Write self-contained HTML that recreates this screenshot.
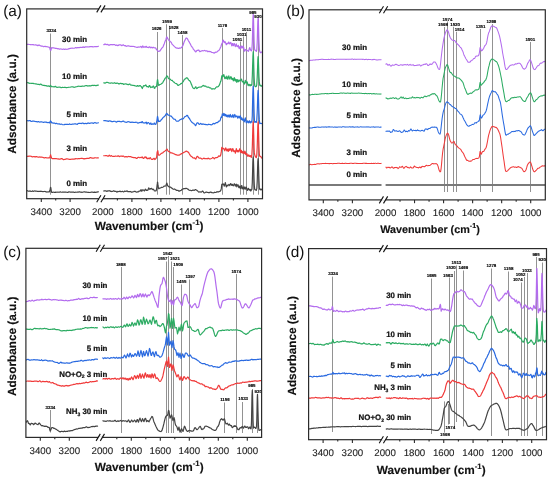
<!DOCTYPE html>
<html><head><meta charset="utf-8"><style>
html,body{margin:0;padding:0;background:#fff;}
svg{display:block;font-family:'Liberation Sans', Arial, sans-serif;text-rendering:geometricPrecision;}
</style></head><body>
<svg width="550" height="481" viewBox="0 0 550 481">
<rect width="550" height="481" fill="#fff"/>
<line x1="50.50" y1="33.50" x2="50.50" y2="194.70" stroke="#8c8c8c" stroke-width="0.95"/>
<line x1="157.50" y1="32.00" x2="157.50" y2="194.70" stroke="#8c8c8c" stroke-width="0.95"/>
<line x1="166.50" y1="24.20" x2="166.50" y2="194.70" stroke="#8c8c8c" stroke-width="0.95"/>
<line x1="169.50" y1="25.80" x2="169.50" y2="194.70" stroke="#8c8c8c" stroke-width="0.95"/>
<line x1="182.50" y1="35.00" x2="182.50" y2="194.70" stroke="#8c8c8c" stroke-width="0.95"/>
<line x1="222.50" y1="28.00" x2="222.50" y2="194.70" stroke="#8c8c8c" stroke-width="0.95"/>
<line x1="240.50" y1="41.50" x2="240.50" y2="194.70" stroke="#8c8c8c" stroke-width="0.95"/>
<line x1="243.50" y1="36.50" x2="243.50" y2="194.70" stroke="#8c8c8c" stroke-width="0.95"/>
<line x1="246.50" y1="32.00" x2="246.50" y2="194.70" stroke="#8c8c8c" stroke-width="0.95"/>
<line x1="253.50" y1="15.00" x2="253.50" y2="194.70" stroke="#8c8c8c" stroke-width="0.95"/>
<line x1="258.50" y1="18.50" x2="258.50" y2="194.70" stroke="#8c8c8c" stroke-width="0.95"/>
<path d="M26.80,44.33 27.30,44.42 27.80,44.27 28.30,44.27 28.80,44.40 29.30,44.50 29.80,44.48 30.30,44.56 30.80,44.69 31.30,44.68 31.80,44.74 32.30,44.70 32.80,44.69 33.30,44.66 33.80,44.84 34.30,44.96 34.80,45.02 35.30,44.92 35.80,44.94 36.30,45.05 36.80,45.17 37.30,45.39 37.80,45.61 38.30,45.42 38.80,45.04 39.30,45.02 39.80,45.40 40.30,45.69 40.80,45.84 41.30,46.18 41.80,46.20 42.30,46.11 42.80,46.22 43.30,46.58 43.80,46.73 44.30,46.55 44.80,46.37 45.30,46.37 45.80,46.58 46.30,46.72 46.80,46.67 47.30,46.76 47.80,46.90 48.30,47.02 48.80,47.15 49.30,47.39 49.52,47.50 49.80,48.03 49.88,48.39 50.15,49.51 50.30,49.95 50.38,50.15 50.60,50.51 50.80,50.40 50.83,50.19 51.05,49.48 51.30,48.57 51.32,48.46 51.68,47.69 51.80,47.66 52.30,47.83 52.80,47.85 53.30,47.76 53.80,47.82 54.30,47.99 54.80,48.19 55.30,48.35 55.80,48.33 56.30,48.33 56.80,48.53 57.30,48.79 57.80,48.71 58.30,48.72 58.80,48.91 59.30,49.15 59.80,49.13 60.30,48.97 60.80,48.89 61.30,48.98 61.80,49.24 62.30,49.35 62.80,49.23 63.30,48.97 63.80,49.06 64.30,49.35 64.80,49.38 65.30,49.21 65.80,49.17 66.30,49.25 66.80,49.29 67.30,49.22 67.80,49.07 68.30,48.87 68.80,48.87 69.30,48.62 69.80,48.44 70.30,48.32 70.80,48.33 71.30,48.25 71.80,48.15 72.30,48.28 72.80,48.21 73.30,48.23 73.80,48.23 74.30,48.24 74.80,47.99 75.30,47.61 75.80,47.69 76.30,47.84 76.80,47.83 77.30,47.60 77.80,47.58 78.30,47.70 78.80,47.68 79.30,47.64 79.80,47.44 80.30,47.42 80.80,47.32 81.30,47.37 81.80,47.51 82.30,47.45 82.80,46.99 83.30,46.83 83.80,47.32 84.30,47.50 84.80,47.16 85.30,46.91 85.80,46.96 86.30,46.96 86.80,46.84 87.30,46.96 87.80,46.97 88.30,46.98 88.80,46.90 89.30,46.82 89.80,46.71 90.30,46.62 90.80,46.66 91.30,46.59 91.80,46.51 92.30,46.64 92.80,46.82 93.30,46.86 93.80,46.75 94.30,46.71 94.80,46.65 95.30,46.63 95.80,46.71 96.30,46.60 96.80,46.58 97.30,46.55 97.80,46.51 98.30,46.30 98.80,46.37" fill="none" stroke="#b36cee" stroke-width="1.2" stroke-linejoin="round"/>
<path d="M103.30,44.67 103.80,44.59 104.30,44.54 104.80,44.03 105.30,44.10 105.80,44.33 106.30,44.68 106.80,44.54 107.30,44.42 107.80,44.63 108.30,44.87 108.80,45.15 109.30,45.16 109.80,44.89 110.30,44.54 110.80,44.54 111.30,44.68 111.80,44.72 112.30,44.78 112.80,44.54 113.30,44.60 113.80,44.64 114.30,44.67 114.80,44.64 115.30,45.05 115.80,45.37 116.30,45.29 116.80,44.95 117.30,45.29 117.80,45.63 118.30,45.53 118.80,44.89 119.30,44.81 119.80,44.83 120.30,44.92 120.80,44.96 121.30,45.39 121.80,45.63 122.30,45.30 122.80,44.97 123.30,44.75 123.80,45.31 124.30,45.52 124.80,45.86 125.30,45.60 125.80,45.83 126.30,46.27 126.80,46.35 127.30,46.03 127.80,45.75 128.30,45.93 128.80,45.78 129.30,46.19 129.80,46.28 130.30,46.35 130.80,46.25 131.30,46.42 131.80,46.44 132.30,46.37 132.80,46.51 133.30,46.46 133.80,46.50 134.30,46.60 134.80,46.81 135.30,46.95 135.80,47.02 136.30,47.24 136.80,47.30 137.30,47.32 137.80,47.17 138.30,47.14 138.80,46.94 139.30,47.03 139.80,47.03 140.30,46.93 140.80,46.36 141.30,46.98 141.80,47.72 142.30,46.51 142.80,45.91 143.30,47.01 143.80,47.35 144.30,46.76 144.80,46.73 145.30,47.23 145.80,46.72 146.30,46.29 146.80,47.22 147.30,47.39 147.80,47.31 148.30,47.30 148.80,47.63 149.30,46.97 149.80,46.72 150.30,47.46 150.80,47.85 151.30,47.59 151.80,47.13 152.30,47.74 152.80,47.93 153.30,47.28 153.80,47.32 154.30,47.79 154.80,47.98 155.30,47.85 155.80,48.20 156.30,49.25 156.80,49.78 157.30,50.38 157.80,50.90 158.30,51.28 158.80,51.31 159.30,51.12 159.80,51.09 160.30,50.45 160.80,49.66 161.30,48.92 161.80,48.04 162.30,47.79 162.80,47.20 163.30,46.28 163.80,44.74 164.30,43.63 164.80,42.12 165.30,40.77 165.60,40.31 165.80,39.99 166.00,39.17 166.30,38.07 166.55,37.27 166.80,36.97 167.05,37.22 167.30,37.85 167.60,38.29 167.80,38.58 168.00,38.89 168.30,39.54 168.80,40.12 169.30,40.78 169.80,41.11 170.30,41.56 170.80,41.89 171.30,42.57 171.80,43.58 172.30,44.44 172.80,44.86 173.30,45.23 173.80,45.87 174.30,46.39 174.80,46.88 175.30,47.26 175.80,47.74 176.30,47.93 176.80,48.07 177.30,48.12 177.80,48.20 178.30,48.40 178.80,48.31 179.30,48.19 179.80,47.94 180.30,48.07 180.80,48.00 181.30,47.78 181.80,47.05 182.30,46.56 182.80,45.65 183.30,44.53 183.80,42.89 184.30,41.57 184.80,40.49 185.30,39.45 185.80,38.53 186.30,38.05 186.80,38.05 187.30,38.63 187.80,39.57 188.30,40.57 188.80,41.47 189.30,42.14 189.80,43.08 190.30,43.88 190.80,44.97 191.30,46.05 191.80,46.68 192.30,47.36 192.80,47.86 193.30,49.16 193.80,49.64 194.30,50.23 194.80,50.64 195.30,51.62 195.80,51.99 196.30,51.39 196.80,50.48 197.30,50.33 197.80,50.42 198.30,50.04 198.80,50.19 199.30,50.88 199.80,51.68 200.30,51.45 200.80,51.36 201.30,50.97 201.80,50.90 202.30,50.63 202.80,50.76 203.30,50.81 203.80,50.74 204.30,50.50 204.80,50.40 205.30,50.80 205.80,51.09 206.30,50.92 206.80,50.79 207.30,51.02 207.80,51.77 208.30,51.61 208.80,51.30 209.30,51.37 209.80,51.69 210.30,51.56 210.80,51.56 211.30,52.23 211.80,52.47 212.30,52.48 212.80,52.48 213.30,52.92 213.80,52.96 214.30,53.05 214.80,52.66 215.30,52.41 215.80,52.08 216.30,52.21 216.80,52.12 217.30,51.62 217.80,51.07 218.30,50.77 218.80,50.46 219.30,49.78 219.80,49.03 220.30,47.74 220.80,47.02 221.30,45.11 221.80,43.77 222.30,42.94 222.80,40.51 223.30,40.08 223.80,41.42 224.30,42.72 224.80,41.74 225.30,41.93 225.80,43.30 226.30,44.68 226.80,43.60 227.30,43.53 227.80,43.80 228.30,42.44 228.80,42.09 229.30,43.91 229.80,43.49 230.30,42.71 230.80,42.49 231.30,44.36 231.80,45.83 232.30,43.65 232.80,43.59 233.30,45.75 233.80,44.60 234.30,43.51 234.80,45.07 235.30,46.61 235.80,45.29 236.30,43.87 236.80,46.04 237.30,46.73 237.80,45.98 238.30,45.26 238.80,47.55 239.30,48.63 239.80,47.01 240.30,46.44 240.80,48.51 241.30,47.42 241.80,45.89 242.30,47.17 242.80,47.97 243.30,46.31 243.80,47.86 244.30,51.14 244.80,50.98 245.30,49.65 245.80,49.57 246.30,50.24 246.80,50.25 247.30,50.39 247.80,50.83 248.30,51.30 248.80,50.72 249.30,48.47 249.80,47.58 250.30,49.38 250.80,50.35 251.30,50.82 251.80,49.89 251.88,49.65 252.30,42.59 252.32,42.08 252.65,30.03 252.80,23.96 252.93,19.43 253.20,14.30 253.30,14.69 253.47,18.40 253.75,28.29 253.80,30.36 254.08,40.85 254.30,46.04 254.52,48.88 254.80,49.97 255.30,50.56 255.80,50.74 256.30,51.42 256.78,50.00 256.80,49.84 257.22,42.18 257.30,39.42 257.55,30.37 257.80,22.10 257.82,21.64 258.10,18.08 258.30,20.29 258.38,22.10 258.65,31.53 258.80,37.24 258.98,42.37 259.30,48.02 259.42,49.27 259.80,51.50 260.30,52.53 260.80,52.85 261.30,52.20 261.80,52.08 262.20,52.30" fill="none" stroke="#b36cee" stroke-width="1.2" stroke-linejoin="round"/>
<path d="M26.80,82.77 27.30,82.75 27.80,82.54 28.30,82.76 28.80,83.12 29.30,83.37 29.80,83.27 30.30,83.27 30.80,83.29 31.30,83.34 31.80,83.40 32.30,83.44 32.80,83.32 33.30,83.44 33.80,83.58 34.30,83.76 34.80,83.74 35.30,83.80 35.80,83.74 36.30,83.93 36.80,84.07 37.30,84.24 37.80,84.28 38.30,84.23 38.80,84.30 39.30,84.61 39.80,84.66 40.30,84.36 40.80,84.07 41.30,84.42 41.80,84.79 42.30,85.14 42.80,85.26 43.30,85.36 43.80,85.37 44.30,85.39 44.80,85.56 45.30,85.55 45.80,85.57 46.30,85.64 46.80,86.07 47.30,86.18 47.80,86.05 48.30,85.89 48.80,86.17 49.30,86.37 49.52,86.51 49.80,86.12 49.88,86.08 50.15,85.79 50.30,85.62 50.38,85.34 50.60,85.30 50.80,85.63 50.83,85.71 51.05,86.21 51.30,86.67 51.32,86.49 51.68,86.45 51.80,86.52 52.30,86.66 52.80,86.74 53.30,86.71 53.80,86.85 54.30,86.84 54.80,86.68 55.30,86.39 55.80,86.63 56.30,86.97 56.80,87.38 57.30,87.35 57.80,87.25 58.30,87.15 58.80,87.23 59.30,87.19 59.80,87.04 60.30,87.27 60.80,87.56 61.30,87.67 61.80,87.48 62.30,87.37 62.80,87.42 63.30,87.51 63.80,87.48 64.30,87.36 64.80,87.31 65.30,87.38 65.80,87.55 66.30,87.58 66.80,87.63 67.30,87.50 67.80,87.51 68.30,87.28 68.80,87.26 69.30,87.23 69.80,87.24 70.30,87.13 70.80,87.00 71.30,86.92 71.80,86.77 72.30,86.74 72.80,86.86 73.30,87.08 73.80,87.14 74.30,87.29 74.80,87.23 75.30,86.99 75.80,86.85 76.30,86.73 76.80,86.73 77.30,86.45 77.80,86.48 78.30,86.18 78.80,86.25 79.30,86.25 79.80,86.28 80.30,86.30 80.80,86.46 81.30,86.50 81.80,86.19 82.30,86.05 82.80,86.02 83.30,86.14 83.80,86.22 84.30,86.14 84.80,85.93 85.30,85.77 85.80,85.67 86.30,85.61 86.80,85.65 87.30,85.85 87.80,86.04 88.30,85.96 88.80,85.85 89.30,85.68 89.80,85.92 90.30,85.92 90.80,85.92 91.30,85.60 91.80,85.45 92.30,85.39 92.80,85.46 93.30,85.54 93.80,85.36 94.30,85.38 94.80,85.30 95.30,85.56 95.80,85.53 96.30,85.65 96.80,85.35 97.30,85.32 97.80,85.16 98.30,85.19 98.80,85.14" fill="none" stroke="#2bab62" stroke-width="1.2" stroke-linejoin="round"/>
<path d="M103.30,82.76 103.80,82.78 104.30,82.93 104.80,83.11 105.30,83.05 105.80,82.69 106.30,82.41 106.80,82.44 107.30,82.36 107.80,82.52 108.30,82.68 108.80,82.93 109.30,82.98 109.80,83.20 110.30,83.28 110.80,82.98 111.30,82.88 111.80,82.99 112.30,83.04 112.80,83.12 113.30,83.27 113.80,83.10 114.30,82.86 114.80,82.72 115.30,83.16 115.80,83.42 116.30,83.46 116.80,83.08 117.30,83.01 117.80,83.23 118.30,83.62 118.80,83.84 119.30,83.83 119.80,83.66 120.30,83.31 120.80,83.30 121.30,83.50 121.80,83.86 122.30,83.69 122.80,83.66 123.30,84.11 123.80,84.38 124.30,84.09 124.80,84.00 125.30,83.87 125.80,84.02 126.30,83.90 126.80,84.35 127.30,84.29 127.80,84.57 128.30,84.66 128.80,84.55 129.30,84.01 129.80,83.99 130.30,84.62 130.80,85.12 131.30,85.20 131.80,85.04 132.30,85.21 132.80,85.39 133.30,85.53 133.80,85.34 134.30,85.49 134.80,85.85 135.30,85.89 135.80,86.01 136.30,86.17 136.80,86.29 137.30,85.65 137.80,85.64 138.30,86.00 138.80,86.31 139.30,85.76 139.80,85.59 140.30,85.63 140.80,86.24 141.30,86.62 141.80,87.55 142.30,88.53 142.80,87.21 143.30,86.20 143.80,85.56 144.30,85.98 144.80,85.69 145.30,85.39 145.80,84.88 146.30,85.90 146.80,86.69 147.30,86.53 147.80,86.66 148.30,87.22 148.80,86.76 149.30,85.53 149.80,85.67 150.30,86.92 150.80,87.59 151.30,87.22 151.80,86.90 152.30,87.28 152.80,86.54 153.30,85.94 153.80,86.88 154.30,88.29 154.80,88.24 155.30,86.81 155.80,86.69 156.30,86.50 156.42,86.52 156.78,84.77 156.80,84.78 157.05,82.56 157.28,80.97 157.30,80.61 157.50,79.68 157.72,79.97 157.80,80.56 157.95,81.82 158.22,83.66 158.30,84.51 158.58,85.45 158.80,85.40 159.30,84.94 159.80,84.48 160.30,84.44 160.80,84.29 161.30,83.89 161.80,83.40 162.30,83.22 162.80,82.59 163.30,81.53 163.80,80.62 164.30,79.87 164.80,78.86 165.30,78.00 165.60,77.87 165.80,77.77 166.00,77.82 166.30,76.93 166.55,76.26 166.80,75.69 167.05,76.00 167.30,76.26 167.60,76.63 167.80,76.80 168.00,77.40 168.30,78.27 168.80,78.81 169.30,79.00 169.80,78.89 170.30,79.27 170.80,79.87 171.30,80.28 171.80,80.33 172.30,80.40 172.80,81.07 173.30,81.67 173.80,82.15 174.30,82.35 174.80,82.84 175.30,83.29 175.80,83.49 176.30,83.66 176.80,83.88 177.30,84.45 177.80,85.31 178.30,85.46 178.80,85.12 179.30,84.73 179.80,84.58 180.30,84.18 180.80,83.65 181.30,83.56 181.80,83.17 182.30,82.75 182.80,82.10 183.30,81.49 183.80,80.45 184.30,79.51 184.80,79.12 185.30,78.88 185.80,78.50 186.30,77.91 186.80,77.74 187.30,77.98 187.80,78.57 188.30,79.40 188.80,80.07 189.30,80.57 189.80,80.73 190.30,81.62 190.80,82.79 191.30,84.13 191.80,85.12 192.30,86.43 192.80,87.58 193.30,88.25 193.80,88.40 194.30,88.69 194.80,88.17 195.30,87.27 195.80,86.78 196.30,87.85 196.80,88.57 197.30,88.31 197.80,87.63 198.30,87.45 198.80,87.17 199.30,87.24 199.80,87.00 200.30,86.99 200.80,87.12 201.30,86.88 201.80,86.70 202.30,86.12 202.80,85.67 203.30,85.37 203.80,85.80 204.30,86.26 204.80,86.04 205.30,85.98 205.80,86.12 206.30,86.80 206.80,87.02 207.30,87.19 207.80,87.02 208.30,87.12 208.80,87.20 209.30,87.69 209.80,87.81 210.30,87.82 210.80,87.97 211.30,88.70 211.80,89.10 212.30,89.04 212.80,88.68 213.30,88.75 213.80,88.82 214.30,89.06 214.80,88.84 215.30,88.30 215.80,87.58 216.30,87.11 216.80,86.74 217.30,86.74 217.80,86.87 218.30,86.48 218.80,85.94 219.30,85.19 219.80,84.08 220.30,82.30 220.80,81.29 221.30,79.29 221.80,75.91 222.30,75.47 222.80,76.79 223.30,75.62 223.80,74.60 224.30,76.49 224.80,78.71 225.30,77.24 225.80,77.10 226.30,78.73 226.80,76.18 227.30,77.38 227.80,79.27 228.30,77.65 228.80,75.91 229.30,77.82 229.80,79.16 230.30,78.04 230.80,76.63 231.30,77.18 231.80,79.35 232.30,79.36 232.80,78.31 233.30,80.80 233.80,80.55 234.30,77.68 234.80,78.72 235.30,81.07 235.80,79.48 236.30,79.65 236.80,82.30 237.30,80.08 237.80,79.70 238.30,81.75 238.80,81.67 239.30,80.19 239.80,80.75 240.30,80.65 240.80,80.23 241.30,79.06 241.80,80.07 242.30,81.94 242.80,81.93 243.30,81.37 243.80,82.93 244.30,84.09 244.80,83.07 245.30,80.31 245.80,82.58 246.30,82.97 246.80,81.61 247.30,82.28 247.80,84.67 248.30,85.61 248.80,84.40 249.30,84.42 249.80,85.75 250.30,85.86 250.80,84.58 251.30,85.43 251.80,84.96 251.88,84.44 252.30,76.09 252.32,75.83 252.65,64.67 252.80,60.62 252.93,56.23 253.20,52.13 253.30,51.62 253.47,55.48 253.75,65.08 253.80,66.90 254.08,75.92 254.30,80.60 254.52,83.92 254.80,85.84 255.30,86.70 255.80,86.63 256.30,86.43 256.78,84.75 256.80,83.85 257.22,77.03 257.30,74.95 257.55,67.91 257.80,60.80 257.82,59.85 258.10,56.53 258.30,58.60 258.38,60.21 258.65,67.77 258.80,72.84 258.98,77.06 259.30,81.64 259.42,82.85 259.80,85.37 260.30,85.82 260.80,85.26 261.30,85.69 261.80,86.35 262.20,86.59" fill="none" stroke="#2bab62" stroke-width="1.2" stroke-linejoin="round"/>
<path d="M26.80,120.82 27.30,120.73 27.80,120.60 28.30,120.81 28.80,120.78 29.30,120.67 29.80,120.67 30.30,120.70 30.80,121.26 31.30,121.49 31.80,121.47 32.30,121.12 32.80,121.06 33.30,121.02 33.80,121.03 34.30,121.21 34.80,121.36 35.30,121.52 35.80,121.53 36.30,121.56 36.80,121.67 37.30,121.84 37.80,121.79 38.30,121.62 38.80,121.67 39.30,121.99 39.80,122.08 40.30,121.96 40.80,121.91 41.30,121.94 41.80,121.92 42.30,121.98 42.80,122.22 43.30,122.30 43.80,122.31 44.30,122.03 44.80,122.06 45.30,122.08 45.80,122.18 46.30,122.13 46.80,122.43 47.30,122.62 47.80,122.50 48.30,122.46 48.80,122.59 49.30,122.87 49.52,122.94 49.80,122.67 49.88,122.49 50.15,121.79 50.30,121.26 50.38,121.02 50.60,120.95 50.80,121.23 50.83,121.11 51.05,121.63 51.30,122.07 51.32,122.17 51.68,122.80 51.80,122.95 52.30,122.93 52.80,122.90 53.30,123.18 53.80,123.09 54.30,123.07 54.80,123.17 55.30,123.63 55.80,123.59 56.30,123.42 56.80,123.47 57.30,123.72 57.80,123.98 58.30,123.96 58.80,124.03 59.30,123.88 59.80,124.16 60.30,124.26 60.80,124.33 61.30,124.05 61.80,124.22 62.30,124.50 62.80,124.76 63.30,124.73 63.80,124.73 64.30,124.58 64.80,124.36 65.30,124.24 65.80,124.45 66.30,124.45 66.80,124.36 67.30,124.20 67.80,124.36 68.30,124.48 68.80,124.37 69.30,124.07 69.80,123.96 70.30,124.24 70.80,124.50 71.30,124.46 71.80,124.24 72.30,124.13 72.80,124.06 73.30,124.11 73.80,123.99 74.30,123.92 74.80,123.81 75.30,123.90 75.80,123.88 76.30,124.10 76.80,124.24 77.30,124.30 77.80,123.78 78.30,123.44 78.80,123.24 79.30,123.47 79.80,123.28 80.30,123.35 80.80,123.50 81.30,123.58 81.80,123.25 82.30,123.05 82.80,123.17 83.30,123.35 83.80,123.64 84.30,123.64 84.80,123.56 85.30,123.38 85.80,123.54 86.30,123.57 86.80,123.64 87.30,123.35 87.80,123.15 88.30,122.94 88.80,123.17 89.30,123.32 89.80,123.32 90.30,123.07 90.80,123.03 91.30,123.01 91.80,122.90 92.30,122.88 92.80,123.24 93.30,123.37 93.80,123.15 94.30,122.76 94.80,122.61 95.30,122.71 95.80,122.97 96.30,123.11 96.80,123.05 97.30,122.98 97.80,122.98 98.30,122.78 98.80,122.70" fill="none" stroke="#2a6ae0" stroke-width="1.2" stroke-linejoin="round"/>
<path d="M103.30,120.72 103.80,120.64 104.30,120.61 104.80,120.49 105.30,120.56 105.80,120.80 106.30,120.94 106.80,120.92 107.30,120.94 107.80,121.17 108.30,121.47 108.80,121.09 109.30,120.94 109.80,120.77 110.30,121.07 110.80,121.12 111.30,121.41 111.80,121.59 112.30,121.50 112.80,121.56 113.30,121.45 113.80,121.32 114.30,121.23 114.80,121.26 115.30,121.57 115.80,121.76 116.30,122.15 116.80,121.90 117.30,121.59 117.80,121.28 118.30,121.45 118.80,121.47 119.30,121.46 119.80,121.42 120.30,121.77 120.80,121.72 121.30,121.79 121.80,121.56 122.30,121.45 122.80,121.19 123.30,121.15 123.80,121.33 124.30,121.71 124.80,122.00 125.30,122.06 125.80,122.21 126.30,122.32 126.80,122.22 127.30,121.96 127.80,121.69 128.30,121.75 128.80,121.68 129.30,121.94 129.80,121.99 130.30,122.45 130.80,122.44 131.30,122.30 131.80,122.18 132.30,122.21 132.80,122.31 133.30,122.33 133.80,122.45 134.30,122.49 134.80,122.40 135.30,122.41 135.80,122.18 136.30,122.23 136.80,122.23 137.30,122.73 137.80,123.12 138.30,123.07 138.80,122.74 139.30,122.56 139.80,122.53 140.30,122.28 140.80,122.54 141.30,122.60 141.80,121.82 142.30,121.60 142.80,122.60 143.30,122.85 143.80,122.83 144.30,122.81 144.80,123.04 145.30,122.94 145.80,122.26 146.30,122.19 146.80,123.93 147.30,123.54 147.80,122.68 148.30,122.56 148.80,123.00 149.30,123.20 149.80,124.28 150.30,124.04 150.80,122.87 151.30,124.13 151.80,124.39 152.30,123.81 152.80,124.09 153.30,124.13 153.80,124.18 154.30,122.98 154.80,124.05 155.30,124.36 155.80,124.19 156.30,122.97 156.42,122.48 156.78,121.00 156.80,121.51 157.05,119.68 157.28,117.75 157.30,117.54 157.50,116.45 157.72,116.81 157.80,117.29 157.95,118.35 158.22,120.15 158.30,120.77 158.58,121.65 158.80,121.49 159.30,121.21 159.80,121.31 160.30,121.08 160.80,120.44 161.30,119.65 161.80,119.32 162.30,118.53 162.80,117.84 163.30,117.35 163.80,116.97 164.30,116.51 164.80,116.06 165.30,115.65 165.60,115.13 165.80,114.60 166.00,114.15 166.30,113.73 166.55,113.39 166.80,113.40 167.05,113.50 167.30,114.29 167.60,114.79 167.80,114.75 168.00,114.61 168.30,114.91 168.80,115.34 169.30,115.37 169.80,115.63 170.30,116.04 170.80,116.17 171.30,116.19 171.80,116.78 172.30,117.42 172.80,118.00 173.30,118.61 173.80,119.17 174.30,119.23 174.80,119.17 175.30,119.56 175.80,120.31 176.30,120.92 176.80,121.23 177.30,121.21 177.80,121.24 178.30,121.08 178.80,120.90 179.30,120.42 179.80,119.90 180.30,119.55 180.80,119.34 181.30,119.11 181.80,118.94 182.30,118.78 182.80,118.91 183.30,118.67 183.80,118.04 184.30,117.21 184.80,116.82 185.30,116.46 185.80,116.21 186.30,115.96 186.80,115.44 187.30,115.40 187.80,116.00 188.30,117.18 188.80,117.75 189.30,118.33 189.80,119.13 190.30,120.00 190.80,120.82 191.30,121.51 191.80,122.23 192.30,122.58 192.80,122.79 193.30,123.40 193.80,123.70 194.30,124.04 194.80,124.37 195.30,125.57 195.80,125.57 196.30,124.39 196.80,123.21 197.30,122.86 197.80,122.96 198.30,123.16 198.80,124.08 199.30,124.35 199.80,124.25 200.30,123.55 200.80,123.43 201.30,123.88 201.80,124.38 202.30,124.29 202.80,123.81 203.30,124.02 203.80,124.30 204.30,124.29 204.80,124.23 205.30,124.37 205.80,124.70 206.30,124.50 206.80,124.69 207.30,124.77 207.80,124.79 208.30,124.35 208.80,124.21 209.30,124.40 209.80,124.51 210.30,124.66 210.80,124.65 211.30,124.85 211.80,124.77 212.30,124.53 212.80,123.77 213.30,123.44 213.80,123.59 214.30,123.84 214.80,123.69 215.30,123.31 215.80,122.97 216.30,122.51 216.80,122.60 217.30,122.63 217.80,122.40 218.30,121.57 218.80,121.08 219.30,121.05 219.80,120.94 220.30,120.04 220.80,117.95 221.30,116.86 221.80,117.27 222.30,113.89 222.80,114.40 223.30,115.49 223.80,113.34 224.30,113.86 224.80,115.90 225.30,114.29 225.80,115.68 226.30,116.57 226.80,114.93 227.30,115.19 227.80,116.98 228.30,115.26 228.80,115.14 229.30,117.14 229.80,115.39 230.30,114.45 230.80,116.99 231.30,115.83 231.80,117.08 232.30,116.88 232.80,114.53 233.30,116.38 233.80,117.52 234.30,115.77 234.80,114.49 235.30,115.71 235.80,117.05 236.30,116.57 236.80,115.80 237.30,116.30 237.80,118.24 238.30,117.39 238.80,116.20 239.30,117.14 239.80,118.09 240.30,115.74 240.80,117.81 241.30,119.66 241.80,117.76 242.30,119.49 242.80,120.31 243.30,118.98 243.80,120.22 244.30,121.77 244.80,119.72 245.30,117.84 245.80,120.54 246.30,122.80 246.80,122.34 247.30,120.83 247.80,121.63 248.30,122.86 248.80,121.51 249.30,120.75 249.80,122.55 250.30,122.88 250.80,121.56 251.30,121.31 251.80,121.78 251.88,122.56 252.30,115.43 252.32,113.82 252.65,99.95 252.80,93.91 252.93,90.04 253.20,86.12 253.30,86.77 253.47,90.13 253.75,100.22 253.80,102.15 254.08,112.29 254.30,117.76 254.52,121.14 254.80,122.46 255.30,121.56 255.80,121.58 256.30,122.42 256.78,120.48 256.80,119.83 257.22,112.16 257.30,110.17 257.55,101.99 257.80,93.83 257.82,93.76 258.10,90.35 258.30,92.42 258.38,93.86 258.65,103.05 258.80,108.47 258.98,113.18 259.30,119.40 259.42,120.76 259.80,123.56 260.30,123.46 260.80,123.46 261.30,123.47 261.80,123.62 262.20,123.33" fill="none" stroke="#2a6ae0" stroke-width="1.2" stroke-linejoin="round"/>
<path d="M26.80,155.99 27.30,156.22 27.80,156.46 28.30,156.31 28.80,156.10 29.30,156.06 29.80,156.27 30.30,156.17 30.80,156.24 31.30,156.35 31.80,156.72 32.30,156.81 32.80,156.84 33.30,156.57 33.80,156.74 34.30,156.66 34.80,156.83 35.30,156.71 35.80,156.81 36.30,156.65 36.80,156.67 37.30,156.84 37.80,156.98 38.30,157.23 38.80,157.10 39.30,157.04 39.80,156.90 40.30,157.18 40.80,157.07 41.30,157.07 41.80,157.12 42.30,157.25 42.80,157.38 43.30,157.51 43.80,157.79 44.30,157.87 44.80,157.79 45.30,157.59 45.80,157.52 46.30,157.77 46.80,158.02 47.30,158.02 47.80,157.88 48.30,157.76 48.80,157.81 49.30,157.85 49.52,157.82 49.80,157.64 49.88,157.47 50.15,156.33 50.30,155.57 50.38,155.29 50.60,154.88 50.80,155.17 50.83,155.44 51.05,156.27 51.30,157.35 51.32,157.39 51.68,158.23 51.80,158.29 52.30,158.55 52.80,158.69 53.30,158.68 53.80,158.63 54.30,158.59 54.80,158.53 55.30,158.66 55.80,158.68 56.30,158.63 56.80,158.75 57.30,158.98 57.80,158.95 58.30,158.94 58.80,159.07 59.30,159.27 59.80,159.08 60.30,159.06 60.80,158.83 61.30,158.70 61.80,158.65 62.30,158.87 62.80,159.21 63.30,159.61 63.80,159.59 64.30,159.50 64.80,159.27 65.30,159.30 65.80,159.06 66.30,158.92 66.80,158.85 67.30,158.89 67.80,159.01 68.30,159.04 68.80,159.25 69.30,159.31 69.80,159.34 70.30,159.30 70.80,159.34 71.30,159.27 71.80,159.09 72.30,158.98 72.80,159.06 73.30,159.16 73.80,159.16 74.30,159.08 74.80,158.92 75.30,158.85 75.80,158.63 76.30,158.72 76.80,158.74 77.30,158.82 77.80,158.72 78.30,158.69 78.80,158.60 79.30,158.62 79.80,158.66 80.30,158.53 80.80,158.40 81.30,158.23 81.80,158.40 82.30,158.43 82.80,158.53 83.30,158.58 83.80,158.87 84.30,158.86 84.80,158.60 85.30,158.48 85.80,158.64 86.30,158.56 86.80,158.38 87.30,158.32 87.80,158.38 88.30,158.39 88.80,158.33 89.30,158.16 89.80,157.91 90.30,157.57 90.80,157.58 91.30,157.87 91.80,158.06 92.30,158.12 92.80,158.14 93.30,158.23 93.80,158.05 94.30,157.94 94.80,157.84 95.30,157.76 95.80,157.75 96.30,157.90 96.80,158.02 97.30,157.94 97.80,157.89 98.30,157.77 98.80,157.78" fill="none" stroke="#f03a3a" stroke-width="1.2" stroke-linejoin="round"/>
<path d="M103.30,155.72 103.80,155.76 104.30,155.75 104.80,155.74 105.30,155.69 105.80,155.58 106.30,155.51 106.80,155.78 107.30,155.94 107.80,156.22 108.30,156.22 108.80,155.71 109.30,155.19 109.80,155.56 110.30,156.15 110.80,156.08 111.30,155.68 111.80,155.88 112.30,156.23 112.80,156.48 113.30,156.34 113.80,156.41 114.30,156.51 114.80,156.24 115.30,156.05 115.80,156.07 116.30,156.23 116.80,156.24 117.30,156.28 117.80,155.83 118.30,155.82 118.80,156.23 119.30,156.66 119.80,156.32 120.30,156.21 120.80,156.08 121.30,156.13 121.80,156.17 122.30,156.31 122.80,156.14 123.30,156.07 123.80,156.34 124.30,156.82 124.80,157.05 125.30,156.86 125.80,156.52 126.30,156.55 126.80,156.93 127.30,156.90 127.80,156.84 128.30,156.44 128.80,156.51 129.30,156.53 129.80,156.73 130.30,156.50 130.80,156.51 131.30,156.99 131.80,157.23 132.30,157.39 132.80,157.27 133.30,157.56 133.80,157.54 134.30,157.66 134.80,157.54 135.30,157.64 135.80,157.92 136.30,158.30 136.80,158.40 137.30,158.05 137.80,157.53 138.30,157.29 138.80,157.33 139.30,157.57 139.80,157.77 140.30,157.47 140.80,157.49 141.30,157.60 141.80,157.05 142.30,156.90 142.80,157.91 143.30,158.47 143.80,158.35 144.30,157.46 144.80,157.12 145.30,156.88 145.80,157.64 146.30,157.09 146.80,158.56 147.30,158.84 147.80,158.36 148.30,158.05 148.80,158.74 149.30,158.80 149.80,158.02 150.30,157.55 150.80,158.47 151.30,159.20 151.80,159.37 152.30,159.12 152.80,159.49 153.30,158.82 153.80,158.31 154.30,158.40 154.80,159.57 155.30,159.21 155.80,158.54 156.30,158.01 156.42,157.81 156.78,156.07 156.80,155.61 157.05,152.94 157.28,151.59 157.30,151.84 157.50,151.19 157.72,150.73 157.80,150.70 157.95,151.52 158.22,153.67 158.30,154.48 158.58,155.09 158.80,155.19 159.30,155.13 159.80,154.83 160.30,154.41 160.80,153.77 161.30,153.51 161.80,153.12 162.30,153.17 162.80,152.72 163.30,152.22 163.80,151.84 164.30,151.52 164.80,151.14 165.30,150.69 165.60,150.51 165.80,150.39 166.00,150.31 166.30,149.97 166.55,149.48 166.80,149.23 167.05,149.14 167.30,149.57 167.60,150.31 167.80,150.45 168.00,150.92 168.30,151.26 168.80,151.60 169.30,151.49 169.80,151.96 170.30,152.60 170.80,152.84 171.30,152.91 171.80,152.96 172.30,153.05 172.80,153.20 173.30,153.53 173.80,153.71 174.30,154.04 174.80,154.19 175.30,154.58 175.80,154.56 176.30,154.80 176.80,154.82 177.30,155.20 177.80,155.25 178.30,155.19 178.80,155.20 179.30,155.12 179.80,154.73 180.30,154.32 180.80,154.10 181.30,153.87 181.80,153.46 182.30,153.31 182.80,153.03 183.30,152.66 183.80,152.44 184.30,152.27 184.80,152.05 185.30,151.48 185.80,151.24 186.30,151.19 186.80,151.34 187.30,151.71 187.80,151.89 188.30,152.16 188.80,152.81 189.30,153.79 189.80,154.55 190.30,155.30 190.80,156.01 191.30,156.48 191.80,156.62 192.30,157.19 192.80,157.82 193.30,158.04 193.80,157.96 194.30,157.75 194.80,158.29 195.30,158.70 195.80,159.04 196.30,158.09 196.80,156.66 197.30,156.34 197.80,156.55 198.30,157.25 198.80,157.81 199.30,158.26 199.80,158.26 200.30,158.05 200.80,158.02 201.30,158.60 201.80,158.96 202.30,159.04 202.80,158.80 203.30,158.38 203.80,158.22 204.30,158.28 204.80,158.71 205.30,158.76 205.80,158.50 206.30,158.54 206.80,158.75 207.30,158.78 207.80,158.33 208.30,158.19 208.80,158.66 209.30,158.81 209.80,158.85 210.30,158.94 210.80,158.76 211.30,158.53 211.80,158.26 212.30,157.97 212.80,157.41 213.30,157.70 213.80,158.15 214.30,158.75 214.80,158.29 215.30,157.90 215.80,157.52 216.30,157.65 216.80,157.61 217.30,157.45 217.80,157.17 218.30,156.39 218.80,155.81 219.30,155.99 219.80,156.30 220.30,156.02 220.80,154.73 221.30,151.63 221.80,147.23 222.30,148.13 222.80,148.70 223.30,148.29 223.80,148.65 224.30,149.77 224.80,150.83 225.30,148.59 225.80,147.97 226.30,149.49 226.80,150.90 227.30,149.09 227.80,150.69 228.30,151.43 228.80,148.81 229.30,148.77 229.80,150.52 230.30,149.42 230.80,148.54 231.30,149.71 231.80,151.60 232.30,150.10 232.80,148.56 233.30,149.93 233.80,151.54 234.30,151.52 234.80,150.72 235.30,153.21 235.80,151.56 236.30,148.70 236.80,150.54 237.30,151.82 237.80,150.49 238.30,150.75 238.80,151.90 239.30,149.79 239.80,148.75 240.30,150.91 240.80,152.49 241.30,150.44 241.80,152.49 242.30,153.09 242.80,151.43 243.30,151.74 243.80,153.43 244.30,153.63 244.80,151.14 245.30,152.14 245.80,154.55 246.30,154.53 246.80,153.48 247.30,155.28 247.80,156.29 248.30,155.27 248.80,154.87 249.30,156.51 249.80,156.25 250.30,155.53 250.80,156.69 251.30,157.45 251.80,155.51 251.88,155.00 252.30,147.15 252.32,146.40 252.65,134.71 252.80,129.58 252.93,125.73 253.20,121.84 253.30,122.76 253.47,126.70 253.75,135.73 253.80,137.80 254.08,148.01 254.30,152.38 254.52,153.82 254.80,154.99 255.30,156.59 255.80,157.26 256.30,157.60 256.78,155.44 256.80,155.11 257.22,146.82 257.30,144.21 257.55,135.18 257.80,126.91 257.82,126.05 258.10,121.86 258.30,123.40 258.38,125.27 258.65,135.27 258.80,141.06 258.98,147.10 259.30,153.87 259.42,154.78 259.80,156.25 260.30,156.44 260.80,156.57 261.30,157.42 261.80,158.02 262.20,157.78" fill="none" stroke="#f03a3a" stroke-width="1.2" stroke-linejoin="round"/>
<path d="M26.80,190.75 27.30,190.72 27.80,190.90 28.30,191.19 28.80,191.27 29.30,191.15 29.80,190.94 30.30,191.02 30.80,191.32 31.30,191.47 31.80,191.24 32.30,190.94 32.80,191.10 33.30,191.36 33.80,191.25 34.30,191.03 34.80,190.96 35.30,191.06 35.80,191.06 36.30,191.13 36.80,191.27 37.30,191.38 37.80,191.39 38.30,191.38 38.80,191.53 39.30,191.46 39.80,191.32 40.30,191.21 40.80,191.36 41.30,191.31 41.80,191.40 42.30,191.49 42.80,191.63 43.30,191.54 43.80,191.51 44.30,191.49 44.80,191.46 45.30,191.55 45.80,191.64 46.30,191.89 46.80,192.05 47.30,191.97 47.80,191.81 48.30,191.73 48.80,191.92 49.30,191.88 49.52,191.61 49.80,190.82 49.88,190.51 50.15,189.28 50.30,188.31 50.38,187.96 50.60,187.27 50.80,187.74 50.83,187.71 51.05,189.26 51.30,190.89 51.32,191.29 51.68,192.32 51.80,192.42 52.30,192.40 52.80,192.29 53.30,192.15 53.80,192.24 54.30,192.32 54.80,192.29 55.30,192.18 55.80,192.29 56.30,192.26 56.80,192.22 57.30,192.20 57.80,192.27 58.30,192.20 58.80,192.24 59.30,192.16 59.80,192.05 60.30,191.84 60.80,192.07 61.30,192.24 61.80,192.23 62.30,192.00 62.80,192.08 63.30,192.13 63.80,192.06 64.30,192.08 64.80,192.13 65.30,192.17 65.80,192.13 66.30,192.22 66.80,192.23 67.30,192.38 67.80,192.41 68.30,192.22 68.80,191.86 69.30,191.86 69.80,192.00 70.30,192.21 70.80,192.19 71.30,192.14 71.80,192.03 72.30,192.01 72.80,192.07 73.30,192.12 73.80,192.15 74.30,192.34 74.80,192.48 75.30,192.25 75.80,192.15 76.30,192.24 76.80,192.25 77.30,192.12 77.80,192.14 78.30,192.14 78.80,191.96 79.30,191.85 79.80,191.90 80.30,192.11 80.80,192.22 81.30,192.21 81.80,192.32 82.30,192.28 82.80,192.15 83.30,191.98 83.80,191.97 84.30,191.82 84.80,191.85 85.30,192.04 85.80,192.10 86.30,192.08 86.80,192.13 87.30,192.24 87.80,192.31 88.30,192.30 88.80,192.30 89.30,192.40 89.80,192.47 90.30,192.39 90.80,192.26 91.30,192.12 91.80,192.01 92.30,192.04 92.80,192.24 93.30,192.43 93.80,192.38 94.30,192.11 94.80,192.10 95.30,192.33 95.80,192.34 96.30,192.21 96.80,192.18 97.30,192.06 97.80,191.81 98.30,191.80 98.80,191.99" fill="none" stroke="#444444" stroke-width="1.2" stroke-linejoin="round"/>
<path d="M103.30,191.11 103.80,190.97 104.30,190.73 104.80,190.82 105.30,190.73 105.80,190.80 106.30,191.11 106.80,191.41 107.30,191.23 107.80,190.82 108.30,190.75 108.80,190.87 109.30,190.92 109.80,190.67 110.30,191.04 110.80,191.48 111.30,191.55 111.80,191.31 112.30,191.49 112.80,191.30 113.30,190.90 113.80,190.74 114.30,191.23 114.80,191.36 115.30,191.36 115.80,191.25 116.30,191.58 116.80,192.06 117.30,192.01 117.80,191.45 118.30,191.52 118.80,191.65 119.30,191.52 119.80,191.13 120.30,191.40 120.80,191.68 121.30,191.77 121.80,191.53 122.30,191.39 122.80,191.45 123.30,191.86 123.80,191.87 124.30,191.53 124.80,191.02 125.30,191.26 125.80,191.52 126.30,191.26 126.80,190.86 127.30,191.03 127.80,191.57 128.30,191.57 128.80,191.56 129.30,191.59 129.80,191.65 130.30,191.44 130.80,191.62 131.30,192.10 131.80,192.26 132.30,191.99 132.80,191.87 133.30,191.76 133.80,191.63 134.30,191.32 134.80,191.31 135.30,191.35 135.80,191.91 136.30,192.03 136.80,192.09 137.30,191.94 137.80,191.94 138.30,191.88 138.80,191.34 139.30,191.06 139.80,191.13 140.30,191.03 140.80,189.75 141.30,189.93 141.80,191.35 142.30,190.03 142.80,189.91 143.30,190.08 143.80,190.03 144.30,191.01 144.80,190.35 145.30,189.10 145.80,189.55 146.30,190.35 146.80,190.20 147.30,190.29 147.80,190.26 148.30,188.94 148.80,187.88 149.30,189.00 149.80,189.31 150.30,188.68 150.80,188.84 151.30,188.42 151.80,188.41 152.30,189.54 152.80,189.51 153.30,189.22 153.80,189.66 154.30,190.72 154.80,190.98 155.30,190.96 155.80,191.02 156.30,190.41 156.42,189.66 156.78,187.86 156.80,187.77 157.05,185.66 157.28,183.90 157.30,183.65 157.50,182.10 157.72,182.62 157.80,183.54 157.95,185.18 158.22,186.62 158.30,187.28 158.58,188.37 158.80,188.75 159.30,188.27 159.80,188.06 160.30,187.97 160.80,187.81 161.30,187.43 161.80,187.41 162.30,187.35 162.80,187.25 163.30,186.86 163.80,186.30 164.30,186.05 164.80,185.97 165.30,186.09 165.60,185.84 165.80,185.53 166.00,185.27 166.30,184.40 166.55,183.64 166.80,183.09 167.05,183.55 167.30,184.61 167.60,185.59 167.80,185.68 168.00,185.96 168.30,186.25 168.80,186.79 169.30,186.94 169.80,187.11 170.30,187.00 170.80,187.29 171.30,187.82 171.80,188.13 172.30,188.39 172.80,188.91 173.30,189.28 173.80,189.17 174.30,188.97 174.80,189.13 175.30,189.51 175.80,189.89 176.30,190.15 176.80,190.50 177.30,190.44 177.80,190.34 178.30,190.60 178.80,191.21 179.30,191.26 179.80,190.78 180.30,190.67 180.80,190.55 181.30,190.27 181.80,189.61 182.30,189.27 182.80,189.02 183.30,188.89 183.80,188.62 184.30,188.57 184.80,188.52 185.30,188.63 185.80,188.40 186.30,188.26 186.80,188.45 187.30,188.84 187.80,189.16 188.30,189.41 188.80,189.97 189.30,190.30 189.80,190.27 190.30,190.27 190.80,190.44 191.30,190.59 191.80,190.55 192.30,190.38 192.80,190.14 193.30,190.06 193.80,190.32 194.30,190.42 194.80,189.90 195.30,189.60 195.80,189.68 196.30,189.98 196.80,190.36 197.30,190.67 197.80,191.18 198.30,191.71 198.80,192.16 199.30,192.03 199.80,191.76 200.30,191.84 200.80,192.05 201.30,192.15 201.80,191.66 202.30,191.09 202.80,191.18 203.30,191.90 203.80,192.66 204.30,192.82 204.80,192.78 205.30,192.52 205.80,192.13 206.30,192.18 206.80,192.22 207.30,192.49 207.80,192.44 208.30,192.58 208.80,192.66 209.30,192.58 209.80,192.37 210.30,192.06 210.80,192.04 211.30,192.43 211.80,192.63 212.30,192.78 212.80,192.70 213.30,192.85 213.80,192.75 214.30,192.39 214.80,192.19 215.30,192.38 215.80,192.47 216.30,192.21 216.80,191.80 217.30,191.89 217.80,191.71 218.30,191.95 218.80,191.86 219.30,191.48 219.80,191.22 220.30,191.08 220.80,190.34 221.30,188.69 221.80,184.35 222.30,184.18 222.80,184.35 223.30,183.88 223.80,185.03 224.30,186.19 224.80,184.54 225.30,182.56 225.80,184.56 226.30,186.95 226.80,185.51 227.30,185.16 227.80,185.95 228.30,185.21 228.80,184.49 229.30,184.93 229.80,185.68 230.30,183.91 230.80,183.55 231.30,184.71 231.80,185.42 232.30,184.34 232.80,185.18 233.30,185.83 233.80,184.93 234.30,183.72 234.80,184.54 235.30,186.15 235.80,184.83 236.30,184.18 236.80,186.79 237.30,185.78 237.80,184.64 238.30,185.58 238.80,187.73 239.30,187.65 239.80,186.05 240.30,188.18 240.80,188.42 241.30,185.69 241.80,185.51 242.30,188.83 242.80,188.31 243.30,186.97 243.80,189.20 244.30,188.15 244.80,186.93 245.30,189.21 245.80,188.43 246.30,187.09 246.80,188.58 247.30,190.47 247.80,189.53 248.30,188.42 248.80,189.27 249.30,190.13 249.80,189.27 250.30,189.51 250.80,191.02 251.30,190.15 251.80,189.38 251.88,189.28 252.30,182.49 252.32,181.36 252.65,169.45 252.80,163.22 252.93,159.82 253.20,156.92 253.30,157.87 253.47,160.85 253.75,169.59 253.80,171.23 254.08,180.20 254.30,185.36 254.52,187.94 254.80,189.61 255.30,189.83 255.80,189.93 256.30,190.35 256.78,188.64 256.80,188.68 257.22,181.52 257.30,178.74 257.55,169.41 257.80,160.94 257.82,161.33 258.10,158.52 258.30,160.65 258.38,162.17 258.65,170.09 258.80,175.26 258.98,181.05 259.30,187.36 259.42,187.92 259.80,189.34 260.30,189.89 260.80,189.10 261.30,189.12 261.80,189.73 262.20,190.37" fill="none" stroke="#444444" stroke-width="1.2" stroke-linejoin="round"/>
<text x="51.30" y="31.80" font-size="4.4" font-weight="bold" text-anchor="middle" fill="#000" stroke="#000" stroke-width="0.12">3334</text>
<text x="156.70" y="30.00" font-size="4.4" font-weight="bold" text-anchor="middle" fill="#000" stroke="#000" stroke-width="0.12">1626</text>
<text x="167.00" y="23.30" font-size="4.4" font-weight="bold" text-anchor="middle" fill="#000" stroke="#000" stroke-width="0.12">1559</text>
<text x="173.70" y="28.70" font-size="4.4" font-weight="bold" text-anchor="middle" fill="#000" stroke="#000" stroke-width="0.12">1528</text>
<text x="182.50" y="33.70" font-size="4.4" font-weight="bold" text-anchor="middle" fill="#000" stroke="#000" stroke-width="0.12">1458</text>
<text x="222.40" y="26.50" font-size="4.4" font-weight="bold" text-anchor="middle" fill="#000" stroke="#000" stroke-width="0.12">1176</text>
<text x="237.40" y="40.80" font-size="4.4" font-weight="bold" text-anchor="middle" fill="#000" stroke="#000" stroke-width="0.12">1051</text>
<text x="241.70" y="35.80" font-size="4.4" font-weight="bold" text-anchor="middle" fill="#000" stroke="#000" stroke-width="0.12">1031</text>
<text x="246.40" y="30.80" font-size="4.4" font-weight="bold" text-anchor="middle" fill="#000" stroke="#000" stroke-width="0.12">1011</text>
<text x="252.90" y="13.70" font-size="4.4" font-weight="bold" text-anchor="middle" fill="#000" stroke="#000" stroke-width="0.12">965</text>
<text x="258.00" y="17.50" font-size="4.4" font-weight="bold" text-anchor="middle" fill="#000" stroke="#000" stroke-width="0.12">930</text>
<text x="87.00" y="41.50" font-size="7.9" font-weight="bold" text-anchor="end" fill="#111" stroke="#111" stroke-width="0.22">30 min</text>
<text x="87.00" y="79.20" font-size="7.9" font-weight="bold" text-anchor="end" fill="#111" stroke="#111" stroke-width="0.22">10 min</text>
<text x="87.00" y="116.60" font-size="7.9" font-weight="bold" text-anchor="end" fill="#111" stroke="#111" stroke-width="0.22">5 min</text>
<text x="87.00" y="151.40" font-size="7.9" font-weight="bold" text-anchor="end" fill="#111" stroke="#111" stroke-width="0.22">3 min</text>
<text x="87.00" y="185.70" font-size="7.9" font-weight="bold" text-anchor="end" fill="#111" stroke="#111" stroke-width="0.22">0 min</text>
<rect x="26.70" y="8.90" width="235.80" height="189.80" fill="none" stroke="#2b2b2b" stroke-width="1.2"/>
<line x1="98.80" y1="8.90" x2="103.00" y2="8.90" stroke="#fff" stroke-width="1.8"/>
<line x1="96.70" y1="12.40" x2="100.90" y2="5.40" stroke="#111" stroke-width="1.1"/>
<line x1="100.90" y1="12.40" x2="105.10" y2="5.40" stroke="#111" stroke-width="1.1"/>
<line x1="98.80" y1="198.70" x2="103.00" y2="198.70" stroke="#fff" stroke-width="1.8"/>
<line x1="96.70" y1="202.20" x2="100.90" y2="195.20" stroke="#111" stroke-width="1.1"/>
<line x1="100.90" y1="202.20" x2="105.10" y2="195.20" stroke="#111" stroke-width="1.1"/>
<line x1="41.30" y1="198.70" x2="41.30" y2="202.00" stroke="#2b2b2b" stroke-width="1.1"/>
<line x1="55.70" y1="198.70" x2="55.70" y2="200.50" stroke="#2b2b2b" stroke-width="1.1"/>
<line x1="70.10" y1="198.70" x2="70.10" y2="202.00" stroke="#2b2b2b" stroke-width="1.1"/>
<line x1="117.40" y1="198.70" x2="117.40" y2="200.50" stroke="#2b2b2b" stroke-width="1.1"/>
<line x1="131.90" y1="198.70" x2="131.90" y2="202.00" stroke="#2b2b2b" stroke-width="1.1"/>
<line x1="146.40" y1="198.70" x2="146.40" y2="200.50" stroke="#2b2b2b" stroke-width="1.1"/>
<line x1="160.90" y1="198.70" x2="160.90" y2="202.00" stroke="#2b2b2b" stroke-width="1.1"/>
<line x1="175.40" y1="198.70" x2="175.40" y2="200.50" stroke="#2b2b2b" stroke-width="1.1"/>
<line x1="189.90" y1="198.70" x2="189.90" y2="202.00" stroke="#2b2b2b" stroke-width="1.1"/>
<line x1="204.40" y1="198.70" x2="204.40" y2="200.50" stroke="#2b2b2b" stroke-width="1.1"/>
<line x1="218.90" y1="198.70" x2="218.90" y2="202.00" stroke="#2b2b2b" stroke-width="1.1"/>
<line x1="233.40" y1="198.70" x2="233.40" y2="200.50" stroke="#2b2b2b" stroke-width="1.1"/>
<line x1="247.90" y1="198.70" x2="247.90" y2="202.00" stroke="#2b2b2b" stroke-width="1.1"/>
<text x="41.30" y="214.60" font-size="9.7" text-anchor="middle" fill="#222" stroke="#222" stroke-width="0.1">3400</text>
<text x="70.10" y="214.60" font-size="9.7" text-anchor="middle" fill="#222" stroke="#222" stroke-width="0.1">3200</text>
<text x="102.90" y="214.60" font-size="9.7" text-anchor="middle" fill="#222" stroke="#222" stroke-width="0.1">2000</text>
<text x="131.90" y="214.60" font-size="9.7" text-anchor="middle" fill="#222" stroke="#222" stroke-width="0.1">1800</text>
<text x="160.90" y="214.60" font-size="9.7" text-anchor="middle" fill="#222" stroke="#222" stroke-width="0.1">1600</text>
<text x="189.90" y="214.60" font-size="9.7" text-anchor="middle" fill="#222" stroke="#222" stroke-width="0.1">1400</text>
<text x="218.90" y="214.60" font-size="9.7" text-anchor="middle" fill="#222" stroke="#222" stroke-width="0.1">1200</text>
<text x="247.90" y="214.60" font-size="9.7" text-anchor="middle" fill="#222" stroke="#222" stroke-width="0.1">1000</text>
<text x="94.70" y="230.30" font-size="11.8" font-weight="bold" fill="#111" stroke="#111" stroke-width="0.15">Wavenumber (cm<tspan font-size="7.79" dy="-4.96">-1</tspan><tspan dy="4.96">)</tspan></text>
<text transform="translate(16.20,104.00) rotate(-90)" x="0" y="0" font-size="11.8" font-weight="bold" text-anchor="middle" fill="#111" stroke="#111" stroke-width="0.15">Adsorbance (a.u.)</text>
<text x="3.20" y="15.60" font-size="15.4" fill="#111">(a)</text>
<line x1="444.50" y1="27.00" x2="444.50" y2="192.00" stroke="#8c8c8c" stroke-width="0.95"/>
<line x1="447.50" y1="21.50" x2="447.50" y2="192.00" stroke="#8c8c8c" stroke-width="0.95"/>
<line x1="453.50" y1="26.80" x2="453.50" y2="192.00" stroke="#8c8c8c" stroke-width="0.95"/>
<line x1="456.50" y1="31.80" x2="456.50" y2="192.00" stroke="#8c8c8c" stroke-width="0.95"/>
<line x1="480.50" y1="29.00" x2="480.50" y2="192.00" stroke="#8c8c8c" stroke-width="0.95"/>
<line x1="492.50" y1="24.00" x2="492.50" y2="192.00" stroke="#8c8c8c" stroke-width="0.95"/>
<line x1="530.50" y1="42.00" x2="530.50" y2="192.00" stroke="#8c8c8c" stroke-width="0.95"/>
<path d="M309.00,60.59 309.50,60.64 310.00,60.55 310.50,60.36 311.00,60.21 311.50,60.22 312.00,60.20 312.50,60.22 313.00,60.03 313.50,60.03 314.00,60.00 314.50,60.08 315.00,59.94 315.50,59.87 316.00,59.81 316.50,59.85 317.00,59.83 317.50,59.74 318.00,59.70 318.50,59.65 319.00,59.51 319.50,59.46 320.00,59.50 320.50,59.44 321.00,59.32 321.50,59.35 322.00,59.39 322.50,59.32 323.00,59.33 323.50,59.48 324.00,59.57 324.50,59.48 325.00,59.43 325.50,59.50 326.00,59.52 326.50,59.50 327.00,59.53 327.50,59.54 328.00,59.42 328.50,59.35 329.00,59.39 329.50,59.50 330.00,59.41 330.50,59.29 331.00,59.18 331.50,59.14 332.00,59.16 332.50,59.28 333.00,59.34 333.50,59.38 334.00,59.44 334.50,59.50 335.00,59.43 335.50,59.43 336.00,59.31 336.50,59.27 337.00,59.28 337.50,59.25 338.00,59.18 338.50,59.16 339.00,59.31 339.50,59.27 340.00,59.26 340.50,59.23 341.00,59.21 341.50,59.22 342.00,59.22 342.50,59.29 343.00,59.22 343.50,59.27 344.00,59.31 344.50,59.32 345.00,59.27 345.50,59.33 346.00,59.46 346.50,59.33 347.00,59.24 347.50,59.21 348.00,59.29 348.50,59.16 349.00,59.19 349.50,59.16 350.00,59.21 350.50,59.25 351.00,59.24 351.50,59.13 352.00,59.00 352.50,59.09 353.00,59.24 353.50,59.48 354.00,59.36 354.50,59.16 355.00,59.11 355.50,59.35 356.00,59.43 356.50,59.32 357.00,59.22 357.50,59.22 358.00,59.26 358.50,59.19 359.00,59.22 359.50,59.28 360.00,59.32 360.50,59.28 361.00,59.19 361.50,59.15 362.00,59.27 362.50,59.38 363.00,59.30 363.50,59.29 364.00,59.41 364.50,59.62 365.00,59.58 365.50,59.49 366.00,59.27 366.50,59.34 367.00,59.60 367.50,59.68 368.00,59.50 368.50,59.39 369.00,59.43 369.50,59.44 370.00,59.41 370.50,59.48 371.00,59.59 371.50,59.65 372.00,59.69 372.50,59.63 373.00,59.63 373.50,59.48 374.00,59.38 374.50,59.44 375.00,59.60 375.50,59.71 376.00,59.74 376.50,59.87 377.00,59.92 377.50,59.96 378.00,59.89 378.50,59.79 379.00,59.69 379.50,59.69 380.00,59.68 380.50,59.70 381.00,59.76 381.50,59.86" fill="none" stroke="#b36cee" stroke-width="1.05" stroke-linejoin="round"/>
<path d="M385.60,64.50 386.10,63.98 386.60,63.78 387.10,64.11 387.60,64.94 388.10,65.20 388.60,64.96 389.10,64.41 389.60,64.79 390.10,65.41 390.60,65.98 391.10,66.12 391.60,65.76 392.10,65.15 392.60,64.84 393.10,65.22 393.60,65.28 394.10,65.23 394.60,65.11 395.10,64.60 395.60,64.37 396.10,64.26 396.60,64.64 397.10,64.65 397.60,64.97 398.10,65.25 398.60,65.48 399.10,65.37 399.60,65.19 400.10,64.98 400.60,64.82 401.10,64.70 401.60,64.90 402.10,65.02 402.60,65.28 403.10,64.89 403.60,64.96 404.10,64.81 404.60,64.82 405.10,64.55 405.60,64.65 406.10,64.89 406.60,64.87 407.10,64.67 407.60,64.34 408.10,64.85 408.60,65.32 409.10,65.13 409.60,64.69 410.10,64.38 410.60,65.02 411.10,64.91 411.60,65.15 412.10,65.00 412.60,65.03 413.10,64.81 413.60,65.08 414.10,65.64 414.60,65.58 415.10,65.55 415.60,65.54 416.10,65.49 416.60,65.22 417.10,65.31 417.60,65.04 418.10,65.14 418.60,65.00 419.10,64.85 419.60,64.69 420.10,65.38 420.60,66.03 421.10,65.73 421.60,65.34 422.10,65.07 422.60,65.06 423.10,64.92 423.60,64.44 424.10,64.29 424.60,64.20 425.10,64.49 425.60,64.06 426.10,63.84 426.60,63.74 427.10,64.35 427.60,65.29 428.10,65.56 428.60,65.44 429.10,64.99 429.60,64.34 430.10,63.90 430.60,64.21 431.10,64.54 431.60,64.30 432.10,64.07 432.60,63.58 433.10,62.63 433.60,62.03 434.10,61.93 434.60,61.93 435.10,62.05 435.60,62.73 436.10,63.49 436.60,64.42 437.10,65.62 437.60,67.09 438.10,68.31 438.60,69.03 439.10,69.45 439.60,69.29 440.10,67.29 440.60,63.33 441.10,58.54 441.60,53.98 442.10,49.91 442.60,46.32 443.10,43.11 443.60,39.96 444.10,37.52 444.60,35.58 445.10,33.89 445.60,32.42 446.10,31.33 446.60,30.40 447.10,29.82 447.60,30.12 448.10,31.12 448.60,32.46 449.10,34.29 449.60,36.05 450.10,37.22 450.60,38.14 451.10,38.95 451.60,39.49 452.10,39.95 452.60,40.19 453.10,40.37 453.60,40.42 454.10,40.42 454.60,40.43 455.10,41.01 455.60,42.04 456.10,42.76 456.60,43.15 457.10,43.64 457.60,44.24 458.10,44.67 458.60,45.29 459.10,45.60 459.60,46.38 460.10,47.01 460.60,47.54 461.10,47.92 461.60,48.78 462.10,49.96 462.60,50.89 463.10,52.09 463.60,53.92 464.10,55.31 464.60,56.29 465.10,56.97 465.60,58.30 466.10,59.04 466.60,59.73 467.10,60.56 467.60,61.48 468.10,62.23 468.60,62.22 469.10,62.07 469.60,62.16 470.10,62.07 470.60,61.42 471.10,60.61 471.60,60.37 472.10,60.21 472.60,59.83 473.10,59.22 473.60,58.60 474.10,58.57 474.60,58.55 475.10,57.58 475.60,56.55 476.10,55.99 476.60,56.15 477.10,55.90 477.60,55.96 478.10,55.77 478.60,55.45 479.00,54.52 479.10,54.04 479.40,52.50 479.60,51.21 479.70,50.51 479.95,48.40 480.10,47.58 480.20,47.36 480.45,47.71 480.60,48.10 480.70,48.52 481.00,49.98 481.10,50.00 481.40,50.54 481.60,50.84 482.10,50.59 482.60,49.83 483.10,49.16 483.60,48.49 484.10,47.18 484.60,46.10 485.10,45.34 485.60,45.00 486.10,44.25 486.60,42.93 487.10,40.43 487.60,37.33 488.10,34.79 488.60,33.04 489.10,31.98 489.60,30.61 490.10,29.30 490.60,27.76 491.10,26.79 491.60,26.11 492.10,26.04 492.60,26.09 493.10,26.23 493.60,26.32 494.10,26.46 494.60,26.81 495.10,27.15 495.60,27.36 496.10,27.45 496.60,28.05 497.10,29.03 497.60,30.33 498.10,31.62 498.60,33.17 499.10,34.63 499.60,36.41 500.10,38.55 500.60,41.14 501.10,43.62 501.60,46.28 502.10,49.22 502.60,52.72 503.10,55.50 503.60,58.17 504.10,60.61 504.60,64.05 505.10,66.88 505.60,68.94 506.10,69.53 506.60,69.55 507.10,69.18 507.60,68.57 508.10,67.88 508.60,67.28 509.10,66.68 509.60,66.10 510.10,65.50 510.60,65.17 511.10,65.16 511.60,65.06 512.10,64.83 512.60,64.77 513.10,64.90 513.60,65.02 514.10,64.78 514.60,64.47 515.10,64.06 515.60,63.82 516.10,63.90 516.60,63.97 517.10,63.68 517.60,63.39 518.10,63.19 518.60,63.34 519.10,63.23 519.60,63.21 520.10,63.45 520.60,64.19 521.10,64.77 521.60,65.56 522.10,66.85 522.60,67.75 523.10,68.46 523.60,68.79 524.10,69.22 524.60,69.06 525.10,68.69 525.60,68.20 526.10,67.44 526.60,66.35 527.10,64.87 527.60,63.54 528.10,62.67 528.60,61.95 529.10,61.03 529.60,60.10 530.10,59.61 530.60,60.20 531.10,61.48 531.60,62.94 532.10,64.41 532.60,66.13 533.10,67.82 533.60,68.94 534.10,69.34 534.60,69.61 535.10,69.44 535.60,68.75 536.10,68.04 536.60,67.17 537.10,66.46 537.60,65.68 538.10,65.70 538.60,65.46 539.10,65.12 539.60,64.32 540.10,63.45 540.60,63.07 541.10,63.18 541.60,63.18 542.10,62.74 542.60,62.37 543.10,61.96 543.60,61.61 544.10,61.58 544.60,61.63 545.10,61.19 545.20,60.92" fill="none" stroke="#b36cee" stroke-width="1.05" stroke-linejoin="round"/>
<path d="M309.00,94.86 309.50,94.89 310.00,94.89 310.50,94.89 311.00,94.75 311.50,94.57 312.00,94.36 312.50,94.37 313.00,94.46 313.50,94.53 314.00,94.51 314.50,94.30 315.00,94.23 315.50,94.15 316.00,94.32 316.50,94.39 317.00,94.45 317.50,94.31 318.00,94.24 318.50,94.20 319.00,94.15 319.50,94.03 320.00,93.95 320.50,93.91 321.00,93.86 321.50,93.82 322.00,93.79 322.50,93.84 323.00,93.76 323.50,93.78 324.00,93.72 324.50,93.73 325.00,93.57 325.50,93.56 326.00,93.58 326.50,93.65 327.00,93.61 327.50,93.59 328.00,93.68 328.50,93.75 329.00,93.66 329.50,93.57 330.00,93.55 330.50,93.58 331.00,93.55 331.50,93.52 332.00,93.32 332.50,93.21 333.00,93.29 333.50,93.39 334.00,93.40 334.50,93.43 335.00,93.42 335.50,93.42 336.00,93.48 336.50,93.58 337.00,93.55 337.50,93.51 338.00,93.57 338.50,93.53 339.00,93.41 339.50,93.29 340.00,93.23 340.50,93.10 341.00,92.98 341.50,93.07 342.00,93.22 342.50,93.18 343.00,92.99 343.50,92.93 344.00,93.05 344.50,93.16 345.00,93.23 345.50,93.33 346.00,93.36 346.50,93.33 347.00,93.20 347.50,93.08 348.00,93.05 348.50,93.19 349.00,93.32 349.50,93.35 350.00,93.36 350.50,93.37 351.00,93.23 351.50,93.08 352.00,93.09 352.50,93.26 353.00,93.22 353.50,93.23 354.00,93.22 354.50,93.27 355.00,93.23 355.50,93.32 356.00,93.26 356.50,93.27 357.00,93.28 357.50,93.31 358.00,93.22 358.50,93.10 359.00,93.08 359.50,93.15 360.00,93.27 360.50,93.28 361.00,93.28 361.50,93.34 362.00,93.44 362.50,93.48 363.00,93.45 363.50,93.43 364.00,93.59 364.50,93.63 365.00,93.59 365.50,93.39 366.00,93.47 366.50,93.56 367.00,93.74 367.50,93.68 368.00,93.56 368.50,93.53 369.00,93.64 369.50,93.67 370.00,93.51 370.50,93.49 371.00,93.60 371.50,93.86 372.00,93.87 372.50,93.80 373.00,93.66 373.50,93.62 374.00,93.59 374.50,93.74 375.00,93.91 375.50,93.91 376.00,93.75 376.50,93.81 377.00,93.95 377.50,94.07 378.00,94.03 378.50,94.02 379.00,94.07 379.50,94.09 380.00,94.11 380.50,94.02 381.00,93.95 381.50,93.96" fill="none" stroke="#2bab62" stroke-width="1.05" stroke-linejoin="round"/>
<path d="M385.60,98.27 386.10,97.98 386.60,98.05 387.10,98.48 387.60,98.96 388.10,98.88 388.60,98.80 389.10,98.84 389.60,98.45 390.10,98.04 390.60,98.35 391.10,98.48 391.60,98.33 392.10,97.99 392.60,98.01 393.10,97.68 393.60,97.80 394.10,98.20 394.60,98.55 395.10,98.14 395.60,97.83 396.10,97.93 396.60,98.60 397.10,98.89 397.60,98.98 398.10,99.02 398.60,99.08 399.10,98.62 399.60,98.20 400.10,97.86 400.60,97.38 401.10,96.78 401.60,97.55 402.10,98.19 402.60,97.75 403.10,96.95 403.60,97.76 404.10,98.50 404.60,98.61 405.10,98.17 405.60,98.09 406.10,98.31 406.60,98.68 407.10,98.63 407.60,98.44 408.10,98.58 408.60,98.54 409.10,98.25 409.60,98.06 410.10,97.93 410.60,98.06 411.10,98.08 411.60,97.96 412.10,97.17 412.60,96.78 413.10,97.35 413.60,97.71 414.10,97.89 414.60,97.52 415.10,97.85 415.60,97.95 416.10,97.83 416.60,97.48 417.10,97.37 417.60,97.61 418.10,97.65 418.60,97.51 419.10,97.59 419.60,98.00 420.10,98.25 420.60,97.79 421.10,97.39 421.60,97.29 422.10,97.49 422.60,97.80 423.10,97.74 423.60,97.32 424.10,96.50 424.60,96.27 425.10,96.03 425.60,96.50 426.10,96.69 426.60,96.42 427.10,96.27 427.60,95.91 428.10,95.84 428.60,95.64 429.10,96.00 429.60,95.52 430.10,95.01 430.60,94.65 431.10,94.78 431.60,94.20 432.10,93.79 432.60,93.73 433.10,94.14 433.60,93.75 434.10,93.57 434.60,93.66 435.10,94.12 435.60,94.67 436.10,95.33 436.60,95.60 437.10,96.19 437.60,97.16 438.10,98.57 438.60,99.93 439.10,101.02 439.60,101.78 440.10,102.17 440.60,101.71 441.10,98.34 441.60,93.47 442.10,87.79 442.60,82.67 443.10,78.39 443.60,76.00 444.10,73.56 444.60,70.89 445.10,68.56 445.60,67.00 446.10,66.20 446.60,65.14 447.10,64.51 447.60,65.01 448.10,66.52 448.60,68.17 449.10,69.63 449.60,71.34 450.10,72.27 450.60,72.61 451.10,72.55 451.60,73.12 452.10,73.98 452.60,74.78 453.10,75.39 453.60,75.68 454.10,75.99 454.60,76.20 455.10,76.28 455.60,76.84 456.10,77.32 456.60,77.81 457.10,77.74 457.60,77.93 458.10,77.96 458.60,78.00 459.10,78.17 459.60,78.56 460.10,79.21 460.60,79.65 461.10,80.12 461.60,80.65 462.10,81.36 462.60,81.89 463.10,82.82 463.60,84.40 464.10,86.18 464.60,87.67 465.10,88.79 465.60,89.91 466.10,91.28 466.60,92.57 467.10,93.70 467.60,94.19 468.10,94.44 468.60,93.91 469.10,93.68 469.60,93.47 470.10,93.18 470.60,93.06 471.10,93.28 471.60,93.35 472.10,92.79 472.60,92.25 473.10,91.82 473.60,91.48 474.10,91.12 474.60,90.83 475.10,90.16 475.60,89.87 476.10,89.64 476.60,89.93 477.10,89.92 477.60,89.79 478.10,89.53 478.60,89.34 479.00,88.93 479.10,88.42 479.40,87.12 479.60,85.65 479.70,84.82 479.95,83.19 480.10,82.78 480.20,82.31 480.45,82.32 480.60,83.20 480.70,84.18 481.00,85.30 481.10,85.09 481.40,85.01 481.60,84.91 482.10,84.25 482.60,83.51 483.10,83.02 483.60,82.75 484.10,81.87 484.60,81.12 485.10,80.47 485.60,80.16 486.10,79.08 486.60,77.65 487.10,75.57 487.60,72.56 488.10,69.81 488.60,67.40 489.10,65.69 489.60,63.31 490.10,61.68 490.60,60.50 491.10,59.84 491.60,59.18 492.10,59.08 492.60,59.13 493.10,59.34 493.60,59.67 494.10,59.98 494.60,60.37 495.10,60.78 495.60,61.28 496.10,61.53 496.60,61.80 497.10,62.45 497.60,63.65 498.10,64.73 498.60,66.10 499.10,67.90 499.60,69.96 500.10,72.21 500.60,74.51 501.10,77.04 501.60,79.68 502.10,82.78 502.60,85.83 503.10,88.56 503.60,91.31 504.10,94.12 504.60,97.34 505.10,99.69 505.60,101.09 506.10,101.57 506.60,101.71 507.10,101.46 507.60,100.86 508.10,100.64 508.60,100.39 509.10,100.36 509.60,99.95 510.10,99.42 510.60,98.58 511.10,98.16 511.60,97.87 512.10,97.86 512.60,97.60 513.10,97.71 513.60,97.61 514.10,97.61 514.60,97.18 515.10,97.22 515.60,97.42 516.10,97.46 516.60,97.26 517.10,96.99 517.60,97.08 518.10,97.06 518.60,96.95 519.10,96.81 519.60,96.69 520.10,96.85 520.60,97.07 521.10,97.82 521.60,98.57 522.10,99.43 522.60,100.09 523.10,100.64 523.60,101.10 524.10,101.31 524.60,101.58 525.10,101.47 525.60,100.88 526.10,99.60 526.60,98.15 527.10,97.55 527.60,96.87 528.10,95.93 528.60,94.84 529.10,94.18 529.60,93.68 530.10,93.05 530.60,92.80 531.10,93.47 531.60,94.89 532.10,96.60 532.60,98.16 533.10,99.64 533.60,100.98 534.10,101.62 534.60,101.70 535.10,101.18 535.60,100.38 536.10,99.77 536.60,99.41 537.10,99.16 537.60,98.54 538.10,97.85 538.60,97.28 539.10,96.84 539.60,96.45 540.10,96.30 540.60,96.11 541.10,95.93 541.60,95.83 542.10,95.94 542.60,95.84 543.10,95.42 543.60,95.18 544.10,95.04 544.60,95.24 545.10,95.35 545.20,95.38" fill="none" stroke="#2bab62" stroke-width="1.05" stroke-linejoin="round"/>
<path d="M309.00,128.06 309.50,127.96 310.00,127.87 310.50,128.06 311.00,127.99 311.50,128.01 312.00,127.89 312.50,127.73 313.00,127.58 313.50,127.56 314.00,127.50 314.50,127.37 315.00,127.33 315.50,127.36 316.00,127.30 316.50,127.16 317.00,126.96 317.50,127.03 318.00,127.07 318.50,127.20 319.00,127.14 319.50,127.24 320.00,127.28 320.50,127.27 321.00,127.21 321.50,127.08 322.00,127.09 322.50,126.95 323.00,126.98 323.50,127.00 324.00,127.12 324.50,127.06 325.00,126.93 325.50,126.89 326.00,126.99 326.50,127.12 327.00,127.12 327.50,126.96 328.00,126.92 328.50,126.89 329.00,126.89 329.50,126.82 330.00,126.95 330.50,127.03 331.00,127.09 331.50,127.07 332.00,127.01 332.50,126.99 333.00,127.09 333.50,127.15 334.00,127.12 334.50,127.04 335.00,127.09 335.50,127.12 336.00,127.17 336.50,127.14 337.00,127.18 337.50,127.13 338.00,127.05 338.50,126.91 339.00,126.97 339.50,126.98 340.00,126.95 340.50,126.95 341.00,127.09 341.50,127.18 342.00,126.95 342.50,126.75 343.00,126.69 343.50,126.78 344.00,126.81 344.50,127.00 345.00,127.11 345.50,127.04 346.00,126.96 346.50,127.02 347.00,127.06 347.50,126.97 348.00,126.95 348.50,126.98 349.00,126.92 349.50,126.77 350.00,126.82 350.50,127.04 351.00,127.11 351.50,126.95 352.00,126.87 352.50,126.85 353.00,126.87 353.50,127.00 354.00,127.12 354.50,127.19 355.00,127.09 355.50,127.08 356.00,127.10 356.50,127.05 357.00,126.95 357.50,126.88 358.00,126.98 358.50,127.11 359.00,127.19 359.50,127.06 360.00,126.90 360.50,126.83 361.00,126.85 361.50,126.99 362.00,127.04 362.50,127.05 363.00,126.91 363.50,127.01 364.00,127.05 364.50,127.09 365.00,127.03 365.50,127.07 366.00,127.03 366.50,126.95 367.00,126.81 367.50,126.95 368.00,127.02 368.50,126.99 369.00,126.87 369.50,127.06 370.00,127.17 370.50,127.20 371.00,127.09 371.50,127.09 372.00,126.98 372.50,126.92 373.00,126.91 373.50,126.81 374.00,126.96 374.50,127.13 375.00,127.24 375.50,127.05 376.00,126.94 376.50,126.98 377.00,127.02 377.50,127.07 378.00,126.94 378.50,126.94 379.00,127.07 379.50,127.17 380.00,127.15 380.50,127.05 381.00,127.12 381.50,127.09" fill="none" stroke="#2a6ae0" stroke-width="1.05" stroke-linejoin="round"/>
<path d="M385.60,131.58 386.10,131.35 386.60,131.10 387.10,131.16 387.60,131.13 388.10,131.11 388.60,131.31 389.10,131.23 389.60,130.97 390.10,131.68 390.60,132.38 391.10,132.25 391.60,132.08 392.10,131.95 392.60,131.03 393.10,129.71 393.60,129.48 394.10,130.22 394.60,131.11 395.10,131.00 395.60,130.94 396.10,130.65 396.60,131.07 397.10,131.03 397.60,131.47 398.10,131.40 398.60,131.28 399.10,130.88 399.60,130.83 400.10,131.15 400.60,131.74 401.10,132.33 401.60,132.50 402.10,132.30 402.60,132.02 403.10,131.87 403.60,131.22 404.10,130.07 404.60,130.25 405.10,131.02 405.60,131.75 406.10,131.35 406.60,131.18 407.10,131.49 407.60,131.79 408.10,131.26 408.60,130.53 409.10,130.85 409.60,131.00 410.10,130.22 410.60,129.12 411.10,129.07 411.60,130.01 412.10,130.80 412.60,130.88 413.10,130.25 413.60,130.14 414.10,130.38 414.60,130.55 415.10,130.46 415.60,130.32 416.10,130.87 416.60,130.53 417.10,130.38 417.60,129.85 418.10,130.53 418.60,130.57 419.10,130.83 419.60,130.82 420.10,130.93 420.60,131.03 421.10,130.55 421.60,130.48 422.10,130.29 422.60,130.55 423.10,130.66 423.60,130.99 424.10,131.24 424.60,130.19 425.10,129.15 425.60,128.85 426.10,129.15 426.60,129.01 427.10,129.12 427.60,129.64 428.10,129.21 428.60,128.56 429.10,128.46 429.60,128.59 430.10,128.24 430.60,127.95 431.10,127.42 431.60,127.21 432.10,126.94 432.60,127.23 433.10,127.31 433.60,127.24 434.10,127.11 434.60,127.14 435.10,127.22 435.60,127.18 436.10,127.10 436.60,127.38 437.10,128.26 437.60,129.68 438.10,131.44 438.60,132.62 439.10,133.63 439.60,134.01 440.10,134.09 440.60,131.66 441.10,127.64 441.60,122.90 442.10,118.63 442.60,115.45 443.10,112.66 443.60,110.68 444.10,109.35 444.60,107.57 445.10,105.29 445.60,103.87 446.10,102.66 446.60,102.09 447.10,101.71 447.60,102.25 448.10,102.43 448.60,102.83 449.10,103.56 449.60,104.25 450.10,104.49 450.60,104.78 451.10,105.43 451.60,106.07 452.10,106.31 452.60,106.67 453.10,107.04 453.60,107.23 454.10,107.42 454.60,107.82 455.10,108.38 455.60,108.49 456.10,108.70 456.60,109.24 457.10,110.18 457.60,110.87 458.10,111.29 458.60,111.78 459.10,112.45 459.60,113.27 460.10,113.85 460.60,114.13 461.10,114.48 461.60,114.82 462.10,115.58 462.60,116.44 463.10,117.68 463.60,118.80 464.10,119.95 464.60,120.75 465.10,121.56 465.60,122.45 466.10,123.53 466.60,124.45 467.10,125.08 467.60,125.61 468.10,126.13 468.60,126.34 469.10,126.22 469.60,125.75 470.10,125.46 470.60,125.37 471.10,125.20 471.60,124.83 472.10,124.35 472.60,124.51 473.10,124.60 473.60,124.35 474.10,123.82 474.60,123.01 475.10,122.83 475.60,122.81 476.10,123.18 476.60,122.54 477.10,122.17 477.60,121.87 478.10,121.58 478.60,121.01 479.00,120.66 479.10,120.98 479.40,119.94 479.60,118.57 479.70,117.75 479.95,116.02 480.10,115.26 480.20,114.75 480.45,114.95 480.60,115.66 480.70,116.53 481.00,117.64 481.10,117.97 481.40,118.02 481.60,118.05 482.10,117.00 482.60,115.99 483.10,115.10 483.60,114.76 484.10,114.32 484.60,113.73 485.10,112.86 485.60,112.05 486.10,110.93 486.60,109.27 487.10,106.95 487.60,104.40 488.10,102.10 488.60,99.76 489.10,97.97 489.60,96.22 490.10,94.98 490.60,93.86 491.10,92.88 491.60,91.65 492.10,90.69 492.60,90.54 493.10,91.02 493.60,91.68 494.10,91.65 494.60,91.65 495.10,91.60 495.60,92.06 496.10,92.54 496.60,93.45 497.10,94.17 497.60,94.80 498.10,95.56 498.60,97.00 499.10,98.86 499.60,100.16 500.10,101.46 500.60,103.46 501.10,106.75 501.60,110.17 502.10,113.86 502.60,117.05 503.10,120.23 503.60,123.09 504.10,125.88 504.60,129.05 505.10,132.06 505.60,134.57 506.10,135.22 506.60,135.05 507.10,134.35 507.60,134.31 508.10,134.19 508.60,133.93 509.10,133.45 509.60,133.34 510.10,133.05 510.60,132.65 511.10,132.16 511.60,131.64 512.10,131.47 512.60,131.55 513.10,131.66 513.60,131.50 514.10,131.19 514.60,131.42 515.10,131.44 515.60,131.23 516.10,130.69 516.60,130.69 517.10,130.93 517.60,130.64 518.10,130.54 518.60,130.45 519.10,130.73 519.60,130.84 520.10,131.30 520.60,131.57 521.10,131.79 521.60,132.55 522.10,133.55 522.60,134.25 523.10,134.47 523.60,134.79 524.10,135.06 524.60,135.05 525.10,134.33 525.60,133.37 526.10,132.27 526.60,131.16 527.10,129.68 527.60,128.69 528.10,127.90 528.60,127.49 529.10,126.92 529.60,126.46 530.10,125.84 530.60,125.86 531.10,126.86 531.60,128.60 532.10,130.32 532.60,131.82 533.10,133.16 533.60,134.68 534.10,135.55 534.60,135.34 535.10,134.65 535.60,134.12 536.10,133.74 536.60,133.23 537.10,132.68 537.60,132.14 538.10,131.60 538.60,131.19 539.10,131.09 539.60,130.80 540.10,130.59 540.60,130.25 541.10,130.04 541.60,129.65 542.10,130.22 542.60,130.62 543.10,130.70 543.60,130.06 544.10,129.66 544.60,129.30 545.10,129.14 545.20,129.17" fill="none" stroke="#2a6ae0" stroke-width="1.05" stroke-linejoin="round"/>
<path d="M309.00,164.90 309.50,164.71 310.00,164.42 310.50,164.37 311.00,164.54 311.50,164.70 312.00,164.67 312.50,164.61 313.00,164.51 313.50,164.54 314.00,164.44 314.50,164.39 315.00,164.36 315.50,164.40 316.00,164.27 316.50,164.02 317.00,163.98 317.50,163.81 318.00,163.70 318.50,163.77 319.00,163.92 319.50,163.87 320.00,163.74 320.50,163.72 321.00,163.72 321.50,163.69 322.00,163.54 322.50,163.50 323.00,163.45 323.50,163.56 324.00,163.54 324.50,163.49 325.00,163.41 325.50,163.37 326.00,163.47 326.50,163.51 327.00,163.61 327.50,163.49 328.00,163.55 328.50,163.53 329.00,163.64 329.50,163.63 330.00,163.57 330.50,163.46 331.00,163.40 331.50,163.48 332.00,163.56 332.50,163.66 333.00,163.68 333.50,163.53 334.00,163.45 334.50,163.43 335.00,163.57 335.50,163.54 336.00,163.51 336.50,163.49 337.00,163.43 337.50,163.29 338.00,163.30 338.50,163.35 339.00,163.31 339.50,163.33 340.00,163.46 340.50,163.51 341.00,163.45 341.50,163.41 342.00,163.38 342.50,163.34 343.00,163.39 343.50,163.52 344.00,163.54 344.50,163.48 345.00,163.39 345.50,163.33 346.00,163.33 346.50,163.43 347.00,163.47 347.50,163.47 348.00,163.41 348.50,163.50 349.00,163.56 349.50,163.57 350.00,163.35 350.50,163.21 351.00,163.18 351.50,163.20 352.00,163.21 352.50,163.40 353.00,163.51 353.50,163.48 354.00,163.28 354.50,163.21 355.00,163.17 355.50,163.30 356.00,163.34 356.50,163.40 357.00,163.38 357.50,163.40 358.00,163.46 358.50,163.51 359.00,163.49 359.50,163.42 360.00,163.44 360.50,163.55 361.00,163.57 361.50,163.60 362.00,163.50 362.50,163.43 363.00,163.26 363.50,163.32 364.00,163.32 364.50,163.31 365.00,163.31 365.50,163.38 366.00,163.37 366.50,163.37 367.00,163.43 367.50,163.51 368.00,163.44 368.50,163.47 369.00,163.51 369.50,163.54 370.00,163.59 370.50,163.53 371.00,163.47 371.50,163.36 372.00,163.46 372.50,163.47 373.00,163.41 373.50,163.36 374.00,163.47 374.50,163.49 375.00,163.36 375.50,163.26 376.00,163.35 376.50,163.41 377.00,163.40 377.50,163.26 378.00,163.25 378.50,163.29 379.00,163.45 379.50,163.48 380.00,163.51 380.50,163.42 381.00,163.41 381.50,163.39" fill="none" stroke="#f03a3a" stroke-width="1.05" stroke-linejoin="round"/>
<path d="M385.60,166.88 386.10,167.25 386.60,168.05 387.10,167.70 387.60,167.33 388.10,167.21 388.60,167.40 389.10,167.27 389.60,167.49 390.10,168.05 390.60,167.73 391.10,167.34 391.60,167.03 392.10,166.94 392.60,167.21 393.10,167.96 393.60,168.32 394.10,167.90 394.60,167.46 395.10,167.63 395.60,167.40 396.10,167.60 396.60,167.35 397.10,167.70 397.60,167.79 398.10,168.63 398.60,168.02 399.10,167.54 399.60,166.71 400.10,166.99 400.60,167.22 401.10,167.36 401.60,166.90 402.10,166.29 402.60,166.55 403.10,167.41 403.60,168.24 404.10,168.17 404.60,167.49 405.10,167.00 405.60,166.64 406.10,166.37 406.60,166.72 407.10,167.26 407.60,167.62 408.10,167.31 408.60,167.67 409.10,168.08 409.60,167.95 410.10,167.31 410.60,166.79 411.10,167.29 411.60,167.86 412.10,167.94 412.60,168.05 413.10,167.95 413.60,167.50 414.10,166.25 414.60,166.12 415.10,166.67 415.60,167.07 416.10,167.11 416.60,167.40 417.10,167.59 417.60,167.59 418.10,167.77 418.60,167.97 419.10,167.48 419.60,167.05 420.10,167.13 420.60,167.82 421.10,167.68 421.60,166.86 422.10,166.21 422.60,166.48 423.10,166.68 423.60,166.57 424.10,166.53 424.60,166.80 425.10,166.38 425.60,165.79 426.10,165.34 426.60,165.33 427.10,165.64 427.60,165.79 428.10,165.70 428.60,165.55 429.10,165.51 429.60,165.53 430.10,165.23 430.60,164.90 431.10,164.38 431.60,164.04 432.10,163.69 432.60,163.45 433.10,163.62 433.60,163.92 434.10,163.66 434.60,163.80 435.10,163.68 435.60,163.70 436.10,163.49 436.60,163.86 437.10,164.20 437.60,165.11 438.10,166.42 438.60,168.35 439.10,170.01 439.60,171.28 440.10,171.87 440.60,171.59 441.10,168.55 441.60,163.67 442.10,157.77 442.60,152.76 443.10,149.20 443.60,146.80 444.10,144.26 444.60,141.82 445.10,139.16 445.60,137.09 446.10,135.59 446.60,134.39 447.10,133.48 447.60,133.13 448.10,133.64 448.60,134.94 449.10,136.76 449.60,138.85 450.10,140.51 450.60,141.38 451.10,142.32 451.60,143.05 452.10,143.00 452.60,142.54 453.10,141.99 453.60,141.61 454.10,141.55 454.60,142.95 455.10,144.13 455.60,144.85 456.10,145.18 456.60,145.61 457.10,146.09 457.60,146.68 458.10,147.49 458.60,147.78 459.10,148.20 459.60,148.58 460.10,148.87 460.60,149.18 461.10,150.03 461.60,151.16 462.10,151.80 462.60,152.42 463.10,152.91 463.60,153.83 464.10,155.00 464.60,156.21 465.10,157.15 465.60,158.04 466.10,159.37 466.60,160.07 467.10,160.49 467.60,160.30 468.10,160.64 468.60,160.96 469.10,161.28 469.60,161.16 470.10,161.12 470.60,161.09 471.10,161.16 471.60,160.85 472.10,160.26 472.60,159.74 473.10,159.46 473.60,159.58 474.10,159.38 474.60,159.22 475.10,158.91 475.60,158.61 476.10,158.37 476.60,158.46 477.10,158.57 477.60,158.44 478.10,158.23 478.60,158.05 479.00,157.58 479.10,157.42 479.40,156.31 479.60,155.04 479.70,154.24 479.95,152.36 480.10,151.36 480.20,151.39 480.45,152.04 480.60,152.67 480.70,152.83 481.00,153.86 481.10,154.23 481.40,154.12 481.60,153.46 482.10,152.30 482.60,151.62 483.10,151.47 483.60,151.39 484.10,150.79 484.60,149.79 485.10,148.99 485.60,148.57 486.10,147.51 486.60,145.78 487.10,143.33 487.60,140.76 488.10,137.88 488.60,135.36 489.10,133.58 489.60,131.79 490.10,130.14 490.60,128.84 491.10,127.94 491.60,127.08 492.10,126.45 492.60,126.24 493.10,126.49 493.60,126.64 494.10,126.73 494.60,126.91 495.10,127.30 495.60,127.36 496.10,127.38 496.60,127.74 497.10,128.38 497.60,129.02 498.10,129.98 498.60,131.08 499.10,132.25 499.60,133.21 500.10,134.80 500.60,137.34 501.10,140.76 501.60,144.06 502.10,147.50 502.60,151.26 503.10,155.03 503.60,158.46 504.10,161.53 504.60,165.40 505.10,168.76 505.60,171.08 506.10,171.34 506.60,171.42 507.10,171.14 507.60,170.86 508.10,170.18 508.60,169.71 509.10,169.15 509.60,168.69 510.10,168.17 510.60,167.79 511.10,167.40 511.60,167.15 512.10,166.94 512.60,166.90 513.10,166.77 513.60,166.73 514.10,166.96 514.60,167.25 515.10,167.22 515.60,167.09 516.10,167.08 516.60,167.53 517.10,167.33 517.60,167.07 518.10,166.54 518.60,166.88 519.10,166.94 519.60,167.15 520.10,167.24 520.60,167.78 521.10,167.85 521.60,168.10 522.10,168.78 522.60,169.77 523.10,170.58 523.60,171.35 524.10,171.73 524.60,171.58 525.10,171.14 525.60,170.65 526.10,169.53 526.60,167.95 527.10,166.05 527.60,164.67 528.10,163.91 528.60,163.29 529.10,162.71 529.60,162.24 530.10,161.98 530.60,162.39 531.10,163.53 531.60,165.35 532.10,166.97 532.60,168.80 533.10,170.01 533.60,171.05 534.10,171.65 534.60,171.83 535.10,171.27 535.60,170.77 536.10,170.34 536.60,169.95 537.10,169.21 537.60,168.54 538.10,168.26 538.60,168.21 539.10,168.11 539.60,167.59 540.10,167.15 540.60,166.84 541.10,166.51 541.60,166.14 542.10,165.91 542.60,165.73 543.10,166.08 543.60,165.90 544.10,165.88 544.60,165.73 545.10,165.88 545.20,165.64" fill="none" stroke="#f03a3a" stroke-width="1.05" stroke-linejoin="round"/>
<path d="M309.00,185.00 309.50,185.00 310.00,185.00 310.50,185.00 311.00,185.00 311.50,185.00 312.00,185.00 312.50,185.00 313.00,185.00 313.50,185.00 314.00,185.00 314.50,185.00 315.00,185.00 315.50,185.00 316.00,185.00 316.50,185.00 317.00,185.00 317.50,185.00 318.00,185.00 318.50,185.00 319.00,185.00 319.50,185.00 320.00,185.00 320.50,185.00 321.00,185.00 321.50,185.00 322.00,185.00 322.50,185.00 323.00,185.00 323.50,185.00 324.00,185.00 324.50,185.00 325.00,185.00 325.50,185.00 326.00,185.00 326.50,185.00 327.00,185.00 327.50,185.00 328.00,185.00 328.50,185.00 329.00,185.00 329.50,185.00 330.00,185.00 330.50,185.00 331.00,185.00 331.50,185.00 332.00,185.00 332.50,185.00 333.00,185.00 333.50,185.00 334.00,185.00 334.50,185.00 335.00,185.00 335.50,185.00 336.00,185.00 336.50,185.00 337.00,185.00 337.50,185.00 338.00,185.00 338.50,185.00 339.00,185.00 339.50,185.00 340.00,185.00 340.50,185.00 341.00,185.00 341.50,185.00 342.00,185.00 342.50,185.00 343.00,185.00 343.50,185.00 344.00,185.00 344.50,185.00 345.00,185.00 345.50,185.00 346.00,185.00 346.50,185.00 347.00,185.00 347.50,185.00 348.00,185.00 348.50,185.00 349.00,185.00 349.50,185.00 350.00,185.00 350.50,185.00 351.00,185.00 351.50,185.00 352.00,185.00 352.50,185.00 353.00,185.00 353.50,185.00 354.00,185.00 354.50,185.00 355.00,185.00 355.50,185.00 356.00,185.00 356.50,185.00 357.00,185.00 357.50,185.00 358.00,185.00 358.50,185.00 359.00,185.00 359.50,185.00 360.00,185.00 360.50,185.00 361.00,185.00 361.50,185.00 362.00,185.00 362.50,185.00 363.00,185.00 363.50,185.00 364.00,185.00 364.50,185.00 365.00,185.00 365.50,185.00 366.00,185.00 366.50,185.00 367.00,185.00 367.50,185.00 368.00,185.00 368.50,185.00 369.00,185.00 369.50,185.00 370.00,185.00 370.50,185.00 371.00,185.00 371.50,185.00 372.00,185.00 372.50,185.00 373.00,185.00 373.50,185.00 374.00,185.00 374.50,185.00 375.00,185.00 375.50,185.00 376.00,185.00 376.50,185.00 377.00,185.00 377.50,185.00 378.00,185.00 378.50,185.00 379.00,185.00 379.50,185.00 380.00,185.00 380.50,185.00 381.00,185.00 381.50,185.00" fill="none" stroke="#7a7a7a" stroke-width="1.9" stroke-linejoin="round"/>
<path d="M385.60,185.00 386.10,185.00 386.60,185.00 387.10,185.00 387.60,185.00 388.10,185.00 388.60,185.00 389.10,185.00 389.60,185.00 390.10,185.00 390.60,185.00 391.10,185.00 391.60,185.00 392.10,185.00 392.60,185.00 393.10,185.00 393.60,185.00 394.10,185.00 394.60,185.00 395.10,185.00 395.60,185.00 396.10,185.00 396.60,185.00 397.10,185.00 397.60,185.00 398.10,185.00 398.60,185.00 399.10,185.00 399.60,185.00 400.10,185.00 400.60,185.00 401.10,185.00 401.60,185.00 402.10,185.00 402.60,185.00 403.10,185.00 403.60,185.00 404.10,185.00 404.60,185.00 405.10,185.00 405.60,185.00 406.10,185.00 406.60,185.00 407.10,185.00 407.60,185.00 408.10,185.00 408.60,185.00 409.10,185.00 409.60,185.00 410.10,185.00 410.60,185.00 411.10,185.00 411.60,185.00 412.10,185.00 412.60,185.00 413.10,185.00 413.60,185.00 414.10,185.00 414.60,185.00 415.10,185.00 415.60,185.00 416.10,185.00 416.60,185.00 417.10,185.00 417.60,185.00 418.10,185.00 418.60,185.00 419.10,185.00 419.60,185.00 420.10,185.00 420.60,185.00 421.10,185.00 421.60,185.00 422.10,185.00 422.60,185.00 423.10,185.00 423.60,185.00 424.10,185.00 424.60,185.00 425.10,185.00 425.60,185.00 426.10,185.00 426.60,185.00 427.10,185.00 427.60,185.00 428.10,185.00 428.60,185.00 429.10,185.00 429.60,185.00 430.10,185.00 430.60,185.00 431.10,185.00 431.60,185.00 432.10,185.00 432.60,185.00 433.10,185.00 433.60,185.00 434.10,185.00 434.60,185.00 435.10,185.00 435.60,185.00 436.10,185.00 436.60,185.00 437.10,185.00 437.60,185.00 438.10,185.00 438.60,185.00 439.10,185.00 439.60,185.00 440.10,185.00 440.60,185.00 441.10,185.00 441.60,185.00 442.10,185.00 442.60,185.00 443.10,185.00 443.60,185.00 444.10,185.00 444.60,185.00 445.10,185.00 445.60,185.00 446.10,185.00 446.60,185.00 447.10,185.00 447.60,185.00 448.10,185.00 448.60,185.00 449.10,185.00 449.60,185.00 450.10,185.00 450.60,185.00 451.10,185.00 451.60,185.00 452.10,185.00 452.60,185.00 453.10,185.00 453.60,185.00 454.10,185.00 454.60,185.00 455.10,185.00 455.60,185.00 456.10,185.00 456.60,185.00 457.10,185.00 457.60,185.00 458.10,185.00 458.60,185.00 459.10,185.00 459.60,185.00 460.10,185.00 460.60,185.00 461.10,185.00 461.60,185.00 462.10,185.00 462.60,185.00 463.10,185.00 463.60,185.00 464.10,185.00 464.60,185.00 465.10,185.00 465.60,185.00 466.10,185.00 466.60,185.00 467.10,185.00 467.60,185.00 468.10,185.00 468.60,185.00 469.10,185.00 469.60,185.00 470.10,185.00 470.60,185.00 471.10,185.00 471.60,185.00 472.10,185.00 472.60,185.00 473.10,185.00 473.60,185.00 474.10,185.00 474.60,185.00 475.10,185.00 475.60,185.00 476.10,185.00 476.60,185.00 477.10,185.00 477.60,185.00 478.10,185.00 478.60,185.00 479.10,185.00 479.60,185.00 480.10,185.00 480.60,185.00 481.10,185.00 481.60,185.00 482.10,185.00 482.60,185.00 483.10,185.00 483.60,185.00 484.10,185.00 484.60,185.00 485.10,185.00 485.60,185.00 486.10,185.00 486.60,185.00 487.10,185.00 487.60,185.00 488.10,185.00 488.60,185.00 489.10,185.00 489.60,185.00 490.10,185.00 490.60,185.00 491.10,185.00 491.60,185.00 492.10,185.00 492.60,185.00 493.10,185.00 493.60,185.00 494.10,185.00 494.60,185.00 495.10,185.00 495.60,185.00 496.10,185.00 496.60,185.00 497.10,185.00 497.60,185.00 498.10,185.00 498.60,185.00 499.10,185.00 499.60,185.00 500.10,185.00 500.60,185.00 501.10,185.00 501.60,185.00 502.10,185.00 502.60,185.00 503.10,185.00 503.60,185.00 504.10,185.00 504.60,185.00 505.10,185.00 505.60,185.00 506.10,185.00 506.60,185.00 507.10,185.00 507.60,185.00 508.10,185.00 508.60,185.00 509.10,185.00 509.60,185.00 510.10,185.00 510.60,185.00 511.10,185.00 511.60,185.00 512.10,185.00 512.60,185.00 513.10,185.00 513.60,185.00 514.10,185.00 514.60,185.00 515.10,185.00 515.60,185.00 516.10,185.00 516.60,185.00 517.10,185.00 517.60,185.00 518.10,185.00 518.60,185.00 519.10,185.00 519.60,185.00 520.10,185.00 520.60,185.00 521.10,185.00 521.60,185.00 522.10,185.00 522.60,185.00 523.10,185.00 523.60,185.00 524.10,185.00 524.60,185.00 525.10,185.00 525.60,185.00 526.10,185.00 526.60,185.00 527.10,185.00 527.60,185.00 528.10,185.00 528.60,185.00 529.10,185.00 529.60,185.00 530.10,185.00 530.60,185.00 531.10,185.00 531.60,185.00 532.10,185.00 532.60,185.00 533.10,185.00 533.60,185.00 534.10,185.00 534.60,185.00 535.10,185.00 535.60,185.00 536.10,185.00 536.60,185.00 537.10,185.00 537.60,185.00 538.10,185.00 538.60,185.00 539.10,185.00 539.60,185.00 540.10,185.00 540.60,185.00 541.10,185.00 541.60,185.00 542.10,185.00 542.60,185.00 543.10,185.00 543.60,185.00 544.10,185.00 544.60,185.00 545.10,185.00 545.20,185.00" fill="none" stroke="#7a7a7a" stroke-width="1.9" stroke-linejoin="round"/>
<text x="443.00" y="26.30" font-size="4.4" font-weight="bold" text-anchor="middle" fill="#000" stroke="#000" stroke-width="0.12">1598</text>
<text x="447.50" y="20.80" font-size="4.4" font-weight="bold" text-anchor="middle" fill="#000" stroke="#000" stroke-width="0.12">1574</text>
<text x="455.10" y="25.50" font-size="4.4" font-weight="bold" text-anchor="middle" fill="#000" stroke="#000" stroke-width="0.12">1530</text>
<text x="459.60" y="31.00" font-size="4.4" font-weight="bold" text-anchor="middle" fill="#000" stroke="#000" stroke-width="0.12">1514</text>
<text x="480.60" y="28.10" font-size="4.4" font-weight="bold" text-anchor="middle" fill="#000" stroke="#000" stroke-width="0.12">1351</text>
<text x="491.40" y="23.00" font-size="4.4" font-weight="bold" text-anchor="middle" fill="#000" stroke="#000" stroke-width="0.12">1266</text>
<text x="530.30" y="40.60" font-size="4.4" font-weight="bold" text-anchor="middle" fill="#000" stroke="#000" stroke-width="0.12">1001</text>
<text x="367.00" y="49.90" font-size="7.9" font-weight="bold" text-anchor="end" fill="#111" stroke="#111" stroke-width="0.22">30 min</text>
<text x="367.00" y="87.30" font-size="7.9" font-weight="bold" text-anchor="end" fill="#111" stroke="#111" stroke-width="0.22">10 min</text>
<text x="367.00" y="117.70" font-size="7.9" font-weight="bold" text-anchor="end" fill="#111" stroke="#111" stroke-width="0.22">5 min</text>
<text x="367.00" y="154.50" font-size="7.9" font-weight="bold" text-anchor="end" fill="#111" stroke="#111" stroke-width="0.22">3 min</text>
<text x="367.00" y="176.90" font-size="7.9" font-weight="bold" text-anchor="end" fill="#111" stroke="#111" stroke-width="0.22">0 min</text>
<rect x="309.00" y="9.80" width="236.30" height="190.10" fill="none" stroke="#2b2b2b" stroke-width="1.2"/>
<line x1="381.40" y1="9.80" x2="385.60" y2="9.80" stroke="#fff" stroke-width="1.8"/>
<line x1="379.30" y1="13.30" x2="383.50" y2="6.30" stroke="#111" stroke-width="1.1"/>
<line x1="383.50" y1="13.30" x2="387.70" y2="6.30" stroke="#111" stroke-width="1.1"/>
<line x1="381.40" y1="199.90" x2="385.60" y2="199.90" stroke="#fff" stroke-width="1.8"/>
<line x1="379.30" y1="203.40" x2="383.50" y2="196.40" stroke="#111" stroke-width="1.1"/>
<line x1="383.50" y1="203.40" x2="387.70" y2="196.40" stroke="#111" stroke-width="1.1"/>
<line x1="323.30" y1="199.90" x2="323.30" y2="203.20" stroke="#2b2b2b" stroke-width="1.1"/>
<line x1="337.85" y1="199.90" x2="337.85" y2="201.70" stroke="#2b2b2b" stroke-width="1.1"/>
<line x1="352.40" y1="199.90" x2="352.40" y2="203.20" stroke="#2b2b2b" stroke-width="1.1"/>
<line x1="400.02" y1="199.90" x2="400.02" y2="201.70" stroke="#2b2b2b" stroke-width="1.1"/>
<line x1="414.54" y1="199.90" x2="414.54" y2="203.20" stroke="#2b2b2b" stroke-width="1.1"/>
<line x1="429.06" y1="199.90" x2="429.06" y2="201.70" stroke="#2b2b2b" stroke-width="1.1"/>
<line x1="443.58" y1="199.90" x2="443.58" y2="203.20" stroke="#2b2b2b" stroke-width="1.1"/>
<line x1="458.10" y1="199.90" x2="458.10" y2="201.70" stroke="#2b2b2b" stroke-width="1.1"/>
<line x1="472.62" y1="199.90" x2="472.62" y2="203.20" stroke="#2b2b2b" stroke-width="1.1"/>
<line x1="487.14" y1="199.90" x2="487.14" y2="201.70" stroke="#2b2b2b" stroke-width="1.1"/>
<line x1="501.66" y1="199.90" x2="501.66" y2="203.20" stroke="#2b2b2b" stroke-width="1.1"/>
<line x1="516.18" y1="199.90" x2="516.18" y2="201.70" stroke="#2b2b2b" stroke-width="1.1"/>
<line x1="530.70" y1="199.90" x2="530.70" y2="203.20" stroke="#2b2b2b" stroke-width="1.1"/>
<text x="323.30" y="216.20" font-size="9.7" text-anchor="middle" fill="#222" stroke="#222" stroke-width="0.1">3400</text>
<text x="352.40" y="216.20" font-size="9.7" text-anchor="middle" fill="#222" stroke="#222" stroke-width="0.1">3200</text>
<text x="385.50" y="216.20" font-size="9.7" text-anchor="middle" fill="#222" stroke="#222" stroke-width="0.1">2000</text>
<text x="414.54" y="216.20" font-size="9.7" text-anchor="middle" fill="#222" stroke="#222" stroke-width="0.1">1800</text>
<text x="443.58" y="216.20" font-size="9.7" text-anchor="middle" fill="#222" stroke="#222" stroke-width="0.1">1600</text>
<text x="472.62" y="216.20" font-size="9.7" text-anchor="middle" fill="#222" stroke="#222" stroke-width="0.1">1400</text>
<text x="501.66" y="216.20" font-size="9.7" text-anchor="middle" fill="#222" stroke="#222" stroke-width="0.1">1200</text>
<text x="530.70" y="216.20" font-size="9.7" text-anchor="middle" fill="#222" stroke="#222" stroke-width="0.1">1000</text>
<text x="380.20" y="232.50" font-size="10.8" font-weight="bold" fill="#111" stroke="#111" stroke-width="0.15">Wavenumber (cm<tspan font-size="7.13" dy="-4.54">-1</tspan><tspan dy="4.54">)</tspan></text>
<text transform="translate(299.80,107.90) rotate(-90)" x="0" y="0" font-size="11.8" font-weight="bold" text-anchor="middle" fill="#111" stroke="#111" stroke-width="0.15">Adsorbance (a.u.)</text>
<text x="286.20" y="15.50" font-size="15.4" fill="#111">(b)</text>
<line x1="50.50" y1="410.00" x2="50.50" y2="432.50" stroke="#8c8c8c" stroke-width="0.95"/>
<line x1="121.50" y1="267.00" x2="121.50" y2="433.00" stroke="#8c8c8c" stroke-width="0.95"/>
<line x1="166.50" y1="261.50" x2="166.50" y2="433.00" stroke="#8c8c8c" stroke-width="0.95"/>
<line x1="168.50" y1="256.00" x2="168.50" y2="433.00" stroke="#8c8c8c" stroke-width="0.95"/>
<line x1="171.50" y1="261.50" x2="171.50" y2="433.00" stroke="#8c8c8c" stroke-width="0.95"/>
<line x1="173.50" y1="267.00" x2="173.50" y2="433.00" stroke="#8c8c8c" stroke-width="0.95"/>
<line x1="181.50" y1="284.50" x2="181.50" y2="433.00" stroke="#8c8c8c" stroke-width="0.95"/>
<line x1="189.50" y1="279.50" x2="189.50" y2="433.00" stroke="#8c8c8c" stroke-width="0.95"/>
<line x1="236.50" y1="274.00" x2="236.50" y2="433.00" stroke="#8c8c8c" stroke-width="0.95"/>
<line x1="224.50" y1="402.50" x2="224.50" y2="433.00" stroke="#8c8c8c" stroke-width="0.95"/>
<line x1="242.50" y1="402.00" x2="242.50" y2="433.00" stroke="#8c8c8c" stroke-width="0.95"/>
<line x1="252.50" y1="389.00" x2="252.50" y2="433.00" stroke="#8c8c8c" stroke-width="0.95"/>
<line x1="257.50" y1="394.00" x2="257.50" y2="433.00" stroke="#8c8c8c" stroke-width="0.95"/>
<path d="M26.00,301.86 26.50,301.59 27.00,301.53 27.50,301.39 28.00,301.35 28.50,300.91 29.00,300.70 29.50,300.68 30.00,300.85 30.50,301.03 31.00,301.05 31.50,300.65 32.00,300.20 32.50,300.25 33.00,300.66 33.50,301.05 34.00,300.99 34.50,300.63 35.00,300.35 35.50,300.32 36.00,300.39 36.50,300.05 37.00,299.87 37.50,299.81 38.00,299.97 38.50,299.99 39.00,300.14 39.50,299.94 40.00,299.85 40.50,299.73 41.00,299.69 41.50,299.38 42.00,299.41 42.50,299.66 43.00,299.75 43.50,299.63 44.00,299.48 44.50,299.48 45.00,299.38 45.50,299.45 46.00,299.58 46.50,299.65 47.00,299.69 47.50,299.49 48.00,299.43 48.50,299.19 49.00,299.28 49.50,299.40 50.00,299.58 50.50,299.57 51.00,299.76 51.50,300.06 52.00,299.98 52.50,299.87 53.00,299.60 53.50,299.57 54.00,299.47 54.50,299.77 55.00,299.78 55.50,299.69 56.00,299.74 56.50,299.85 57.00,299.87 57.50,299.98 58.00,300.28 58.50,300.40 59.00,300.31 59.50,300.22 60.00,300.20 60.50,300.15 61.00,300.04 61.50,300.19 62.00,300.34 62.50,300.45 63.00,300.41 63.50,300.53 64.00,300.76 64.50,300.75 65.00,300.57 65.50,300.41 66.00,300.37 66.50,300.54 67.00,300.73 67.50,300.90 68.00,300.69 68.50,300.61 69.00,300.66 69.50,300.72 70.00,300.52 70.50,300.09 71.00,300.04 71.50,300.08 72.00,300.08 72.50,299.99 73.00,300.08 73.50,299.92 74.00,299.65 74.50,299.55 75.00,299.78 75.50,299.53 76.00,299.32 76.50,299.16 77.00,299.53 77.50,299.44 78.00,298.89 78.50,298.38 79.00,298.56 79.50,299.05 80.00,299.42 80.50,299.42 81.00,299.10 81.50,298.89 82.00,298.86 82.50,298.85 83.00,298.68 83.50,298.81 84.00,298.72 84.50,298.45 85.00,298.22 85.50,298.32 86.00,298.30 86.50,298.12 87.00,298.12 87.50,298.41 88.00,298.61 88.50,298.58 89.00,298.52 89.50,298.15 90.00,297.68 90.50,297.40 91.00,297.50 91.50,297.50 92.00,297.57 92.50,297.56 93.00,297.53 93.50,297.25 94.00,297.17 94.50,297.41 95.00,297.66 95.50,297.71 96.00,297.62 96.50,297.60 97.00,297.55 97.50,297.49 97.80,297.51" fill="none" stroke="#b36cee" stroke-width="1.2" stroke-linejoin="round"/>
<path d="M102.50,298.81 103.00,298.73 103.50,298.83 104.00,298.84 104.50,298.90 105.00,298.85 105.50,298.95 106.00,299.04 106.50,299.34 107.00,299.10 107.50,298.94 108.00,298.79 108.50,298.96 109.00,299.16 109.50,299.10 110.00,298.78 110.50,298.47 111.00,298.65 111.50,299.09 112.00,299.26 112.50,298.99 113.00,298.63 113.50,298.83 114.00,299.13 114.50,299.08 115.00,298.80 115.50,298.57 116.00,298.68 116.50,299.03 117.00,299.35 117.50,299.22 118.00,298.66 118.50,298.14 119.00,298.46 119.50,298.94 120.00,299.25 120.50,299.06 121.00,298.68 121.50,298.45 122.00,298.55 122.50,299.01 123.00,298.74 123.50,298.07 124.00,297.18 124.50,297.68 125.00,298.56 125.50,299.03 126.00,298.11 126.50,297.03 127.00,297.41 127.50,298.39 128.00,298.70 128.50,297.81 129.00,296.93 129.50,296.91 130.00,297.38 130.50,297.91 131.00,297.26 131.50,296.62 132.00,295.83 132.50,296.22 133.00,296.99 133.50,297.93 134.00,297.59 134.50,296.34 135.00,295.36 135.50,296.02 136.00,297.03 136.50,297.50 137.00,296.05 137.50,294.30 138.00,295.02 138.50,296.73 139.00,296.77 139.50,295.28 140.00,293.70 140.50,293.74 141.00,295.24 141.50,296.88 142.00,296.55 142.50,294.68 143.00,293.88 143.50,295.46 144.00,296.92 144.50,295.87 145.00,294.83 145.50,293.94 146.00,295.33 146.50,296.51 147.00,297.09 147.50,295.60 148.00,295.01 148.50,294.90 149.00,295.72 149.50,295.23 150.00,294.73 150.50,293.96 151.00,292.90 151.50,291.96 152.00,291.54 152.50,292.46 153.00,294.02 153.50,295.49 154.00,297.15 154.50,298.68 155.00,300.15 155.50,301.36 156.00,302.46 156.50,303.63 157.00,305.37 157.50,306.93 158.00,307.46 158.50,302.74 159.00,296.09 159.50,291.95 160.00,288.18 160.50,285.72 161.00,284.65 161.50,284.24 162.00,283.54 162.50,281.06 163.00,278.12 163.50,277.35 164.00,278.14 164.50,279.37 165.00,280.71 165.50,282.33 166.00,284.83 166.50,287.98 167.00,292.23 167.50,296.16 168.00,298.61 168.50,300.28 169.00,301.12 169.50,301.35 170.00,300.69 170.50,299.90 171.00,302.05 171.50,304.40 172.00,302.64 172.50,300.66 173.00,302.74 173.50,305.04 174.00,302.68 174.50,300.14 175.00,299.69 175.50,299.69 176.00,299.28 176.50,298.54 177.00,297.49 177.50,297.13 178.00,297.88 178.50,299.26 179.00,300.42 179.50,301.20 180.00,301.91 180.50,302.66 181.00,303.70 181.50,304.92 182.00,305.49 182.50,303.73 183.00,300.15 183.50,297.34 184.00,295.89 184.50,294.69 185.00,294.21 185.50,294.35 186.00,294.63 186.50,295.01 187.00,296.72 187.50,299.43 188.00,301.56 188.50,302.47 189.00,303.42 189.50,304.02 190.00,304.83 190.50,305.83 191.00,306.95 191.50,307.59 192.00,307.35 192.50,306.62 193.00,305.73 193.50,305.14 194.00,304.56 194.50,304.05 195.00,303.54 195.50,304.10 196.00,305.60 196.50,307.13 197.00,307.75 197.50,307.66 198.00,307.26 198.50,306.70 199.00,305.19 199.50,302.74 200.00,300.34 200.50,298.59 201.00,297.09 201.50,295.84 202.00,294.55 202.50,292.64 203.00,290.20 203.50,287.71 204.00,285.46 204.50,283.36 205.00,281.47 205.50,279.60 206.00,277.68 206.50,275.81 207.00,274.25 207.50,272.86 208.00,271.75 208.50,271.14 209.00,270.42 209.50,269.79 210.00,269.21 210.50,269.02 211.00,268.93 211.50,268.86 212.00,269.15 212.50,269.71 213.00,270.41 213.50,271.03 214.00,272.24 214.50,274.38 215.00,277.47 215.50,281.32 216.00,285.35 216.50,288.79 217.00,292.21 217.50,296.41 218.00,300.54 218.50,303.63 219.00,305.24 219.50,306.73 220.00,307.82 220.50,308.02 221.00,306.75 221.50,304.77 222.00,302.67 222.50,301.18 223.00,300.73 223.50,300.56 224.00,300.32 224.50,300.23 225.00,300.17 225.50,300.07 226.00,299.81 226.50,299.57 227.00,299.37 227.50,299.33 228.00,299.16 228.50,298.93 229.00,298.90 229.50,299.24 230.00,299.32 230.50,299.25 231.00,299.14 231.50,299.22 232.00,299.14 232.50,299.19 233.00,299.34 233.50,299.09 234.00,298.86 234.50,298.87 235.00,299.20 235.50,299.11 236.00,299.10 236.50,299.24 237.00,299.57 237.50,299.90 238.00,300.16 238.50,300.47 239.00,300.84 239.50,301.13 240.00,302.15 240.50,303.60 241.00,305.26 241.50,306.54 242.00,307.72 242.50,308.05 243.00,307.80 243.50,307.05 244.00,306.20 244.50,305.02 245.00,304.11 245.50,303.79 246.00,304.07 246.50,304.77 247.00,305.58 247.50,306.49 248.00,307.28 248.50,307.75 249.00,307.88 249.50,307.24 250.00,306.31 250.50,305.26 251.00,304.26 251.50,303.04 252.00,301.74 252.50,300.52 253.00,299.91 253.50,299.71 254.00,299.58 254.50,299.11 255.00,298.82 255.50,298.79 256.00,298.83 256.50,298.56 257.00,298.27 257.50,298.07 258.00,297.96 258.50,297.88 259.00,297.84 259.50,297.72 260.00,297.60 260.50,297.43 261.00,297.25 261.50,297.23 261.80,297.36" fill="none" stroke="#b36cee" stroke-width="1.2" stroke-linejoin="round"/>
<path d="M26.00,329.20 26.50,328.98 27.00,329.02 27.50,329.34 28.00,329.33 28.50,329.35 29.00,329.39 29.50,329.52 30.00,329.19 30.50,329.03 31.00,329.24 31.50,329.60 32.00,329.66 32.50,329.62 33.00,329.28 33.50,328.93 34.00,328.46 34.50,328.30 35.00,328.37 35.50,328.62 36.00,328.60 36.50,328.67 37.00,328.70 37.50,328.73 38.00,328.49 38.50,328.74 39.00,328.95 39.50,328.84 40.00,328.40 40.50,328.60 41.00,328.76 41.50,328.92 42.00,328.94 42.50,328.72 43.00,328.57 43.50,328.51 44.00,328.60 44.50,328.32 45.00,328.44 45.50,328.67 46.00,328.79 46.50,328.63 47.00,328.72 47.50,328.96 48.00,329.33 48.50,329.34 49.00,329.39 49.50,329.50 50.00,329.52 50.50,329.38 51.00,329.25 51.50,329.27 52.00,329.33 52.50,329.11 53.00,328.96 53.50,329.04 54.00,329.09 54.50,328.91 55.00,329.15 55.50,329.49 56.00,329.58 56.50,329.53 57.00,329.71 57.50,329.70 58.00,329.64 58.50,329.74 59.00,329.85 59.50,330.00 60.00,330.36 60.50,330.61 61.00,330.81 61.50,330.81 62.00,330.88 62.50,330.80 63.00,330.70 63.50,330.65 64.00,330.68 64.50,330.60 65.00,330.61 65.50,330.74 66.00,330.94 66.50,330.77 67.00,330.31 67.50,330.35 68.00,330.56 68.50,330.52 69.00,330.28 69.50,330.26 70.00,330.52 70.50,330.41 71.00,330.54 71.50,330.46 72.00,330.38 72.50,330.17 73.00,330.20 73.50,329.95 74.00,329.87 74.50,329.81 75.00,329.79 75.50,329.48 76.00,329.26 76.50,329.23 77.00,329.28 77.50,329.19 78.00,329.12 78.50,329.10 79.00,329.20 79.50,329.22 80.00,329.06 80.50,328.94 81.00,329.04 81.50,329.08 82.00,328.83 82.50,328.45 83.00,328.49 83.50,328.41 84.00,328.28 84.50,327.95 85.00,327.79 85.50,327.67 86.00,327.71 86.50,327.74 87.00,327.95 87.50,328.07 88.00,327.87 88.50,327.73 89.00,327.83 89.50,327.78 90.00,327.67 90.50,327.54 91.00,327.56 91.50,327.43 92.00,327.64 92.50,327.65 93.00,327.61 93.50,327.52 94.00,327.76 94.50,327.97 95.00,327.80 95.50,327.70 96.00,327.66 96.50,327.90 97.00,327.90 97.50,327.77 97.80,327.54" fill="none" stroke="#2bab62" stroke-width="1.2" stroke-linejoin="round"/>
<path d="M102.50,327.26 103.00,326.99 103.50,327.42 104.00,327.80 104.50,327.87 105.00,327.61 105.50,327.33 106.00,327.59 106.50,327.66 107.00,327.33 107.50,327.06 108.00,327.06 108.50,327.49 109.00,327.67 109.50,327.59 110.00,327.10 110.50,326.76 111.00,326.77 111.50,327.09 112.00,327.41 112.50,327.34 113.00,326.90 113.50,327.08 114.00,327.68 114.50,327.84 115.00,327.37 115.50,326.91 116.00,326.95 116.50,327.11 117.00,327.39 117.50,327.32 118.00,326.99 118.50,326.82 119.00,327.02 119.50,327.21 120.00,326.90 120.50,326.48 121.00,326.25 121.50,326.49 122.00,326.86 122.50,327.28 123.00,327.23 123.50,326.46 124.00,325.29 124.50,325.16 125.00,325.89 125.50,326.84 126.00,326.13 126.50,324.61 127.00,323.78 127.50,324.96 128.00,326.33 128.50,326.24 129.00,325.34 129.50,324.18 130.00,325.05 130.50,326.02 131.00,325.92 131.50,324.14 132.00,322.34 132.50,323.05 133.00,324.69 133.50,326.09 134.00,324.90 134.50,323.41 135.00,322.96 135.50,323.95 136.00,325.36 136.50,324.25 137.00,322.19 137.50,319.89 138.00,320.63 138.50,322.52 139.00,325.06 139.50,324.34 140.00,322.21 140.50,319.75 141.00,319.86 141.50,321.75 142.00,324.10 142.50,324.20 143.00,320.87 143.50,317.15 144.00,318.52 144.50,321.52 145.00,324.36 145.50,322.39 146.00,320.73 146.50,319.10 147.00,320.53 147.50,322.03 148.00,323.79 148.50,323.61 149.00,322.40 149.50,320.73 150.00,319.95 150.50,321.31 151.00,322.92 151.50,324.27 152.00,321.56 152.50,319.28 153.00,316.79 153.50,317.05 154.00,319.45 154.50,321.99 155.00,323.68 155.50,321.57 156.00,320.44 156.50,320.45 157.00,323.05 157.50,325.01 158.00,325.97 158.50,325.22 159.00,325.31 159.50,325.98 160.00,326.61 160.50,326.15 161.00,325.73 161.50,325.19 162.00,324.44 162.50,323.71 163.00,323.64 163.50,324.42 164.00,326.14 164.50,328.01 165.00,331.03 165.50,332.92 166.00,330.05 166.50,326.02 167.00,324.90 167.50,322.36 168.00,318.36 168.50,313.61 169.00,314.61 169.50,321.09 170.00,328.10 170.50,326.02 171.00,322.01 171.50,318.35 172.00,322.89 172.50,328.30 173.00,322.99 173.50,318.06 174.00,320.91 174.50,324.81 175.00,328.09 175.50,327.77 176.00,327.65 176.50,327.53 177.00,330.71 177.50,333.83 178.00,332.37 178.50,329.77 179.00,327.18 179.50,328.86 180.00,330.81 180.50,329.19 181.00,325.88 181.50,324.00 182.00,327.36 182.50,330.94 183.00,329.14 183.50,325.45 184.00,323.18 184.50,322.62 185.00,322.02 185.50,321.41 186.00,321.15 186.50,320.99 187.00,320.97 187.50,324.19 188.00,327.49 188.50,327.41 189.00,327.16 189.50,326.94 190.00,326.66 190.50,327.04 191.00,327.86 191.50,329.05 192.00,329.87 192.50,330.31 193.00,330.49 193.50,330.60 194.00,330.98 194.50,331.37 195.00,331.45 195.50,331.22 196.00,330.99 196.50,330.70 197.00,330.08 197.50,329.47 198.00,329.28 198.50,330.28 199.00,332.09 199.50,334.01 200.00,334.78 200.50,334.81 201.00,334.32 201.50,333.91 202.00,333.21 202.50,332.70 203.00,332.13 203.50,331.68 204.00,331.13 204.50,330.43 205.00,329.68 205.50,328.82 206.00,328.54 206.50,328.51 207.00,328.56 207.50,327.96 208.00,327.77 208.50,327.53 209.00,327.51 209.50,327.11 210.00,327.08 210.50,327.27 211.00,327.76 211.50,327.91 212.00,327.95 212.50,328.29 213.00,329.19 213.50,330.76 214.00,332.44 214.50,334.39 215.00,335.69 215.50,336.45 216.00,336.05 216.50,335.18 217.00,333.95 217.50,332.74 218.00,331.70 218.50,330.99 219.00,330.78 219.50,330.73 220.00,330.70 220.50,330.70 221.00,330.63 221.50,330.63 222.00,330.32 222.50,330.14 223.00,330.19 223.50,330.39 224.00,330.42 224.50,330.42 225.00,330.18 225.50,330.01 226.00,329.98 226.50,330.12 227.00,329.90 227.50,329.82 228.00,329.87 228.50,330.20 229.00,330.39 229.50,330.34 230.00,329.97 230.50,329.73 231.00,329.77 231.50,329.83 232.00,330.10 232.50,330.08 233.00,330.03 233.50,329.88 234.00,330.06 234.50,329.98 235.00,329.90 235.50,329.90 236.00,330.04 236.50,330.01 237.00,329.93 237.50,329.93 238.00,330.24 238.50,330.28 239.00,330.33 239.50,330.51 240.00,330.68 240.50,330.84 241.00,331.12 241.50,331.46 242.00,331.64 242.50,332.08 243.00,332.55 243.50,332.93 244.00,333.18 244.50,333.51 245.00,333.83 245.50,334.14 246.00,334.36 246.50,334.25 247.00,333.81 247.50,333.37 248.00,333.15 248.50,332.86 249.00,332.26 249.50,331.59 250.00,331.01 250.50,330.77 251.00,330.65 251.50,330.44 252.00,330.14 252.50,329.92 253.00,329.67 253.50,329.45 254.00,329.38 254.50,329.22 255.00,328.96 255.50,328.70 256.00,328.73 256.50,328.90 257.00,328.89 257.50,328.68 258.00,328.40 258.50,328.41 259.00,328.39 259.50,328.39 260.00,328.29 260.50,328.61 261.00,328.80 261.50,328.76 261.80,328.50" fill="none" stroke="#2bab62" stroke-width="1.2" stroke-linejoin="round"/>
<path d="M26.00,359.92 26.50,359.90 27.00,359.52 27.50,359.45 28.00,359.31 28.50,359.62 29.00,359.78 29.50,360.15 30.00,360.16 30.50,360.13 31.00,359.94 31.50,359.76 32.00,359.94 32.50,360.02 33.00,359.95 33.50,359.69 34.00,359.69 34.50,359.71 35.00,359.86 35.50,359.93 36.00,359.91 36.50,359.81 37.00,359.87 37.50,359.79 38.00,359.83 38.50,360.07 39.00,360.22 39.50,360.14 40.00,360.38 40.50,360.50 41.00,360.15 41.50,359.73 42.00,360.16 42.50,360.76 43.00,360.69 43.50,360.41 44.00,360.25 44.50,360.33 45.00,360.01 45.50,360.11 46.00,360.23 46.50,360.47 47.00,360.44 47.50,360.84 48.00,361.10 48.50,360.98 49.00,360.68 49.50,360.79 50.00,360.91 50.50,360.89 51.00,360.93 51.50,361.02 52.00,360.94 52.50,360.82 53.00,361.16 53.50,361.45 54.00,361.87 54.50,362.03 55.00,362.26 55.50,362.26 56.00,362.43 56.50,362.49 57.00,362.44 57.50,362.57 58.00,362.90 58.50,363.40 59.00,363.38 59.50,363.15 60.00,362.73 60.50,362.28 61.00,362.14 61.50,362.55 62.00,363.05 62.50,362.85 63.00,362.81 63.50,362.99 64.00,363.23 64.50,363.09 65.00,363.12 65.50,363.22 66.00,363.04 66.50,362.89 67.00,362.78 67.50,363.08 68.00,362.99 68.50,363.11 69.00,363.09 69.50,363.31 70.00,362.98 70.50,362.82 71.00,362.64 71.50,362.43 72.00,362.12 72.50,361.98 73.00,361.94 73.50,361.76 74.00,361.55 74.50,361.49 75.00,361.58 75.50,361.60 76.00,361.32 76.50,361.29 77.00,361.36 77.50,361.42 78.00,361.18 78.50,361.06 79.00,361.05 79.50,360.98 80.00,360.93 80.50,360.62 81.00,360.35 81.50,360.23 82.00,360.66 82.50,360.94 83.00,361.11 83.50,360.94 84.00,360.85 84.50,360.47 85.00,360.31 85.50,360.45 86.00,360.70 86.50,360.54 87.00,360.12 87.50,360.09 88.00,360.13 88.50,360.18 89.00,359.90 89.50,359.91 90.00,360.01 90.50,360.22 91.00,360.09 91.50,359.84 92.00,359.66 92.50,359.57 93.00,359.66 93.50,359.83 94.00,359.84 94.50,359.44 95.00,359.11 95.50,359.08 96.00,359.24 96.50,359.08 97.00,359.03 97.50,359.40 97.80,359.63" fill="none" stroke="#2a6ae0" stroke-width="1.2" stroke-linejoin="round"/>
<path d="M102.50,357.50 103.00,358.06 103.50,358.57 104.00,358.37 104.50,357.94 105.00,357.83 105.50,358.12 106.00,358.45 106.50,358.26 107.00,358.06 107.50,357.86 108.00,357.88 108.50,358.04 109.00,358.23 109.50,358.57 110.00,358.35 110.50,357.99 111.00,357.55 111.50,357.69 112.00,357.95 112.50,357.95 113.00,357.73 113.50,357.44 114.00,357.44 114.50,357.74 115.00,358.18 115.50,358.22 116.00,357.68 116.50,357.32 117.00,357.64 117.50,358.20 118.00,358.35 118.50,357.83 119.00,357.46 119.50,357.82 120.00,358.19 120.50,358.13 121.00,357.60 121.50,356.93 122.00,357.19 122.50,357.74 123.00,357.78 123.50,357.10 124.00,355.88 124.50,355.03 125.00,355.81 125.50,357.07 126.00,358.08 126.50,357.03 127.00,355.52 127.50,353.92 128.00,355.13 128.50,356.26 129.00,356.95 129.50,354.89 130.00,353.23 130.50,353.58 131.00,355.56 131.50,357.02 132.00,355.98 132.50,354.76 133.00,355.52 133.50,356.36 134.00,355.89 134.50,354.52 135.00,353.53 135.50,353.90 136.00,355.01 136.50,356.14 137.00,355.46 137.50,353.30 138.00,350.91 138.50,352.97 139.00,355.60 139.50,356.39 140.00,354.39 140.50,351.91 141.00,350.47 141.50,352.60 142.00,354.80 142.50,356.91 143.00,353.89 143.50,351.25 144.00,352.90 144.50,355.75 145.00,355.67 145.50,353.99 146.00,352.02 146.50,350.68 147.00,352.34 147.50,354.11 148.00,356.09 148.50,354.04 149.00,351.23 149.50,348.48 150.00,349.53 150.50,352.40 151.00,355.18 151.50,355.49 152.00,353.79 152.50,352.37 153.00,351.82 153.50,353.57 154.00,355.30 154.50,356.74 155.00,354.17 155.50,352.05 156.00,351.55 156.50,353.55 157.00,355.39 157.50,355.60 158.00,355.23 158.50,355.37 159.00,356.21 159.50,356.91 160.00,357.19 160.50,357.07 161.00,356.81 161.50,356.23 162.00,355.55 162.50,354.20 163.00,352.64 163.50,350.84 164.00,349.03 164.50,347.21 165.00,345.66 165.50,343.82 166.00,339.81 166.50,336.95 167.00,341.04 167.50,344.97 168.00,338.56 168.50,332.28 169.00,338.66 169.50,345.16 170.00,344.20 170.50,342.24 171.00,341.18 171.50,344.53 172.00,347.62 172.50,344.00 173.00,340.62 173.50,342.77 174.00,346.67 174.50,349.05 175.00,349.39 175.50,349.88 176.00,350.91 176.50,353.59 177.00,355.66 177.50,354.17 178.00,352.73 178.50,354.98 179.00,357.30 179.50,355.20 180.00,353.04 180.50,355.43 181.00,358.42 181.50,357.65 182.00,355.47 182.50,353.96 183.00,354.65 183.50,356.41 184.00,357.40 184.50,356.41 185.00,354.32 185.50,353.01 186.00,352.99 186.50,353.14 187.00,353.67 187.50,354.40 188.00,355.43 188.50,356.04 189.00,356.25 189.50,355.43 190.00,354.83 190.50,355.42 191.00,356.22 191.50,356.92 192.00,357.52 192.50,357.92 193.00,358.18 193.50,358.16 194.00,358.29 194.50,358.40 195.00,358.92 195.50,359.09 196.00,359.15 196.50,359.41 197.00,360.04 197.50,360.43 198.00,360.71 198.50,360.90 199.00,361.39 199.50,361.85 200.00,362.52 200.50,362.58 201.00,362.95 201.50,363.27 202.00,363.53 202.50,363.54 203.00,363.55 203.50,363.63 204.00,363.54 204.50,363.57 205.00,363.80 205.50,364.26 206.00,364.67 206.50,364.71 207.00,364.75 207.50,364.72 208.00,364.98 208.50,365.30 209.00,365.74 209.50,365.95 210.00,365.83 210.50,365.78 211.00,365.73 211.50,365.64 212.00,365.73 212.50,366.11 213.00,366.61 213.50,366.85 214.00,366.77 214.50,366.53 215.00,366.52 215.50,366.82 216.00,367.08 216.50,366.97 217.00,366.90 217.50,367.02 218.00,367.53 218.50,367.46 219.00,367.43 219.50,367.14 220.00,366.81 220.50,366.43 221.00,366.11 221.50,365.66 222.00,365.16 222.50,365.12 223.00,364.90 223.50,364.29 224.00,363.59 224.50,363.29 225.00,362.96 225.50,362.70 226.00,362.72 226.50,363.09 227.00,363.28 227.50,363.09 228.00,362.69 228.50,362.40 229.00,362.06 229.50,362.09 230.00,362.20 230.50,362.23 231.00,362.07 231.50,361.89 232.00,361.87 232.50,361.38 233.00,361.20 233.50,361.33 234.00,361.33 234.50,361.10 235.00,360.89 235.50,360.82 236.00,360.91 236.50,361.06 237.00,361.16 237.50,361.10 238.00,360.99 238.50,361.26 239.00,361.19 239.50,360.94 240.00,360.53 240.50,360.66 241.00,360.62 241.50,360.33 242.00,360.34 242.50,360.51 243.00,360.59 243.50,360.56 244.00,360.42 244.50,360.41 245.00,360.34 245.50,360.40 246.00,360.13 246.50,360.10 247.00,360.07 247.50,360.40 248.00,360.34 248.50,360.34 249.00,360.15 249.50,360.28 250.00,360.13 250.50,360.02 251.00,359.57 251.50,359.26 252.00,359.33 252.50,359.68 253.00,359.85 253.50,359.69 254.00,359.66 254.50,359.55 255.00,359.51 255.50,359.54 256.00,359.72 256.50,359.65 257.00,359.45 257.50,359.36 258.00,359.39 258.50,359.34 259.00,359.21 259.50,359.24 260.00,359.19 260.50,359.13 261.00,359.20 261.50,359.57 261.80,359.69" fill="none" stroke="#2a6ae0" stroke-width="1.2" stroke-linejoin="round"/>
<path d="M26.00,381.48 26.50,381.28 27.00,381.02 27.50,380.98 28.00,381.09 28.50,381.20 29.00,381.12 29.50,381.20 30.00,381.07 30.50,381.13 31.00,381.16 31.50,381.45 32.00,381.38 32.50,381.44 33.00,381.52 33.50,381.43 34.00,381.16 34.50,381.05 35.00,381.21 35.50,381.09 36.00,381.19 36.50,381.00 37.00,381.23 37.50,381.34 38.00,381.72 38.50,381.54 39.00,381.16 39.50,380.76 40.00,380.87 40.50,381.46 41.00,381.82 41.50,381.97 42.00,381.65 42.50,381.43 43.00,381.25 43.50,381.54 44.00,381.62 44.50,381.57 45.00,381.66 45.50,381.72 46.00,381.66 46.50,381.35 47.00,381.43 47.50,381.66 48.00,382.13 48.50,382.10 49.00,381.67 49.50,381.66 50.00,382.33 50.50,382.76 51.00,382.79 51.50,382.78 52.00,382.76 52.50,382.46 53.00,382.61 53.50,383.25 54.00,383.62 54.50,383.69 55.00,383.76 55.50,384.00 56.00,384.06 56.50,384.48 57.00,384.89 57.50,385.15 58.00,385.09 58.50,385.28 59.00,385.43 59.50,385.61 60.00,385.61 60.50,385.79 61.00,385.88 61.50,386.10 62.00,385.96 62.50,385.85 63.00,385.67 63.50,386.07 64.00,386.21 64.50,386.25 65.00,385.82 65.50,385.66 66.00,385.44 66.50,385.56 67.00,385.57 67.50,385.88 68.00,385.82 68.50,385.89 69.00,385.67 69.50,385.71 70.00,385.39 70.50,385.25 71.00,385.09 71.50,385.00 72.00,384.94 72.50,384.72 73.00,384.60 73.50,384.44 74.00,384.53 74.50,384.31 75.00,384.25 75.50,384.09 76.00,383.98 76.50,383.67 77.00,383.61 77.50,383.66 78.00,384.09 78.50,383.81 79.00,383.54 79.50,383.34 80.00,383.79 80.50,383.65 81.00,383.47 81.50,383.45 82.00,383.42 82.50,383.25 83.00,382.95 83.50,382.92 84.00,383.08 84.50,382.96 85.00,382.87 85.50,382.37 86.00,382.33 86.50,382.18 87.00,382.54 87.50,382.59 88.00,382.67 88.50,382.51 89.00,382.38 89.50,381.94 90.00,381.75 90.50,381.57 91.00,381.83 91.50,381.75 92.00,381.80 92.50,381.57 93.00,381.59 93.50,381.58 94.00,381.66 94.50,381.45 95.00,381.49 95.50,381.36 96.00,381.33 96.50,380.76 97.00,380.78 97.50,381.01 97.80,381.37" fill="none" stroke="#f03a3a" stroke-width="1.2" stroke-linejoin="round"/>
<path d="M102.50,379.23 103.00,379.01 103.50,378.57 104.00,378.59 104.50,378.76 105.00,379.08 105.50,378.88 106.00,378.43 106.50,378.28 107.00,378.81 107.50,379.20 108.00,378.86 108.50,378.55 109.00,378.31 109.50,378.62 110.00,378.93 110.50,379.26 111.00,379.08 111.50,378.94 112.00,378.56 112.50,378.50 113.00,378.56 113.50,378.87 114.00,378.88 114.50,378.46 115.00,378.10 115.50,378.42 116.00,379.01 116.50,379.37 117.00,379.16 117.50,378.75 118.00,378.64 118.50,379.02 119.00,379.39 119.50,378.81 120.00,378.20 120.50,377.90 121.00,378.36 121.50,378.60 122.00,378.90 122.50,378.31 123.00,377.69 123.50,378.30 124.00,379.14 124.50,378.83 125.00,377.94 125.50,378.40 126.00,379.58 126.50,379.50 127.00,378.42 127.50,378.75 128.00,380.13 128.50,379.79 129.00,378.35 129.50,378.42 130.00,379.69 130.50,379.21 131.00,378.01 131.50,376.93 132.00,377.56 132.50,378.81 133.00,379.73 133.50,378.69 134.00,377.12 134.50,375.61 135.00,376.03 135.50,377.11 136.00,378.74 136.50,378.00 137.00,376.20 137.50,375.31 138.00,376.50 138.50,378.38 139.00,377.09 139.50,374.80 140.00,373.64 140.50,376.00 141.00,378.41 141.50,377.04 142.00,375.41 142.50,374.16 143.00,375.70 143.50,377.34 144.00,378.15 144.50,375.86 145.00,373.64 145.50,372.90 146.00,375.16 146.50,377.16 147.00,376.97 147.50,374.61 148.00,374.63 148.50,376.56 149.00,377.44 149.50,375.92 150.00,374.58 150.50,376.29 151.00,378.06 151.50,376.17 152.00,373.74 152.50,374.76 153.00,377.25 153.50,377.67 154.00,375.48 154.50,373.93 155.00,374.53 155.50,376.47 156.00,378.56 156.50,378.35 157.00,377.78 157.50,377.87 158.00,378.99 158.50,379.64 159.00,380.57 159.50,381.16 160.00,381.42 160.50,381.16 161.00,380.52 161.50,379.58 162.00,378.56 162.50,377.30 163.00,375.41 163.50,372.84 164.00,370.45 164.50,368.09 165.00,366.05 165.50,364.05 166.00,362.16 166.50,360.98 167.00,363.49 167.50,366.39 168.00,361.71 168.50,357.04 169.00,362.31 169.50,367.52 170.00,366.33 170.50,364.47 171.00,363.85 171.50,367.28 172.00,370.45 172.50,367.47 173.00,364.92 173.50,366.24 174.00,368.62 174.50,370.69 175.00,371.98 175.50,373.29 176.00,374.65 176.50,376.15 177.00,376.87 177.50,375.70 178.00,374.63 178.50,375.42 179.00,377.13 179.50,379.09 180.00,379.99 180.50,378.35 181.00,376.56 181.50,377.37 182.00,379.24 182.50,380.46 183.00,379.57 183.50,377.64 184.00,376.55 184.50,376.88 185.00,377.74 185.50,378.72 186.00,379.07 186.50,378.50 187.00,377.81 187.50,377.19 188.00,377.04 188.50,377.63 189.00,378.74 189.50,379.69 190.00,379.78 190.50,379.90 191.00,380.29 191.50,380.57 192.00,380.55 192.50,380.62 193.00,380.98 193.50,380.81 194.00,380.63 194.50,380.88 195.00,381.29 195.50,381.39 196.00,381.31 196.50,381.70 197.00,382.25 197.50,382.56 198.00,382.81 198.50,382.94 199.00,383.07 199.50,383.35 200.00,383.79 200.50,384.03 201.00,383.94 201.50,383.90 202.00,383.93 202.50,384.19 203.00,384.89 203.50,385.05 204.00,385.03 204.50,385.53 205.00,386.56 205.50,386.68 206.00,386.33 206.50,386.51 207.00,386.78 207.50,386.95 208.00,386.85 208.50,387.22 209.00,387.51 209.50,388.07 210.00,388.10 210.50,387.85 211.00,387.65 211.50,388.05 212.00,388.42 212.50,388.93 213.00,389.07 213.50,389.04 214.00,388.91 214.50,389.37 215.00,389.53 215.50,389.47 216.00,389.09 216.50,388.84 217.00,388.40 217.50,387.50 218.00,386.29 218.50,385.33 219.00,385.42 219.50,386.32 220.00,387.54 220.50,388.71 221.00,389.37 221.50,389.35 222.00,389.24 222.50,389.38 223.00,389.71 223.50,389.79 224.00,389.66 224.50,388.98 225.00,388.39 225.50,387.80 226.00,387.77 226.50,387.84 227.00,387.72 227.50,387.28 228.00,386.73 228.50,386.27 229.00,386.03 229.50,385.93 230.00,385.82 230.50,385.44 231.00,385.18 231.50,385.03 232.00,384.85 232.50,384.79 233.00,384.72 233.50,384.69 234.00,384.26 234.50,384.00 235.00,383.72 235.50,383.59 236.00,383.52 236.50,383.53 237.00,383.39 237.50,383.16 238.00,383.14 238.50,383.23 239.00,383.45 239.50,383.15 240.00,383.00 240.50,382.91 241.00,383.17 241.50,382.88 242.00,382.57 242.50,382.19 243.00,382.21 243.50,382.24 244.00,382.29 244.50,382.35 245.00,382.32 245.50,382.20 246.00,382.05 246.50,382.10 247.00,382.06 247.50,381.97 248.00,381.94 248.50,381.68 249.00,381.39 249.50,381.42 250.00,381.65 250.50,381.69 251.00,381.41 251.50,381.44 252.00,381.44 252.50,381.29 253.00,381.18 253.50,381.13 254.00,381.07 254.50,380.95 255.00,380.92 255.50,380.91 256.00,380.94 256.50,381.09 257.00,381.02 257.50,381.11 258.00,381.09 258.50,380.98 259.00,380.82 259.50,380.78 260.00,380.53 260.50,380.54 261.00,380.53 261.50,380.47 261.80,380.31" fill="none" stroke="#f03a3a" stroke-width="1.2" stroke-linejoin="round"/>
<path d="M26.00,422.32 26.50,422.09 27.00,420.89 27.50,420.73 28.00,421.82 28.50,423.52 29.00,423.37 29.50,423.78 30.00,424.65 30.50,424.81 31.00,423.56 31.50,423.24 32.00,423.47 32.50,423.55 33.00,423.82 33.50,424.62 34.00,424.40 34.50,423.60 35.00,423.03 35.50,423.32 36.00,423.70 36.50,423.88 37.00,424.22 37.50,424.46 38.00,424.62 38.50,423.72 39.00,423.09 39.50,423.03 40.00,424.06 40.50,424.49 41.00,425.24 41.50,425.56 42.00,425.89 42.50,425.54 43.00,425.76 43.50,426.13 44.00,426.08 44.50,426.39 45.00,426.20 45.50,426.41 46.00,426.14 46.50,426.38 47.00,426.56 47.50,426.88 48.00,427.47 48.50,427.39 49.00,427.44 49.32,427.48 49.50,428.47 49.68,429.36 49.95,430.39 50.00,430.41 50.17,430.97 50.40,430.93 50.50,430.41 50.62,430.35 50.85,429.73 51.00,429.35 51.12,428.94 51.48,428.27 51.50,427.92 52.00,427.58 52.50,427.60 53.00,427.53 53.50,428.18 54.00,428.43 54.50,428.42 55.00,428.57 55.50,429.03 56.00,429.35 56.50,429.37 57.00,429.88 57.50,430.33 58.00,430.43 58.50,430.86 59.00,431.26 59.50,431.70 60.00,431.62 60.50,431.84 61.00,431.54 61.50,431.26 62.00,431.24 62.50,431.48 63.00,431.58 63.50,431.67 64.00,431.37 64.50,431.12 65.00,431.27 65.50,431.62 66.00,431.53 66.50,431.33 67.00,431.41 67.50,431.39 68.00,431.11 68.50,430.97 69.00,430.81 69.50,431.06 70.00,430.93 70.50,430.86 71.00,430.52 71.50,430.67 72.00,430.61 72.50,430.59 73.00,430.24 73.50,429.98 74.00,429.62 74.50,429.53 75.00,429.47 75.50,429.32 76.00,428.99 76.50,428.94 77.00,429.04 77.50,429.00 78.00,428.69 78.50,428.43 79.00,428.44 79.50,428.46 80.00,428.40 80.50,428.20 81.00,428.13 81.50,428.10 82.00,428.12 82.50,427.86 83.00,427.69 83.50,427.48 84.00,427.57 84.50,427.76 85.00,427.65 85.50,427.26 86.00,426.94 86.50,426.84 87.00,427.23 87.50,427.38 88.00,427.75 88.50,427.40 89.00,427.51 89.50,427.37 90.00,427.24 90.50,426.99 91.00,426.72 91.50,426.56 92.00,426.64 92.50,426.63 93.00,426.36 93.50,426.45 94.00,426.62 94.50,426.58 95.00,426.39 95.50,426.37 96.00,426.05 96.50,425.99 97.00,426.11 97.50,426.07 97.80,425.75" fill="none" stroke="#444444" stroke-width="1.2" stroke-linejoin="round"/>
<path d="M102.50,420.59 103.00,420.76 103.50,421.04 104.00,421.08 104.50,421.07 105.00,421.10 105.50,421.31 106.00,421.39 106.50,421.25 107.00,420.93 107.50,420.73 108.00,420.76 108.50,420.98 109.00,421.05 109.50,420.86 110.00,420.58 110.50,420.95 111.00,421.25 111.50,421.26 112.00,421.03 112.50,421.03 113.00,421.09 113.50,421.24 114.00,420.95 114.50,420.52 115.00,420.26 115.50,420.75 116.00,421.31 116.50,421.56 117.00,421.25 117.50,420.91 118.00,420.90 118.50,421.12 119.00,421.33 119.50,420.99 120.00,420.74 120.50,420.41 121.00,420.71 121.50,421.13 122.00,421.37 122.50,421.01 123.00,420.54 123.50,420.78 124.00,421.07 124.50,421.03 125.00,420.93 125.50,420.84 126.00,420.96 126.50,421.33 127.00,421.81 127.50,421.46 128.00,420.53 128.50,419.89 129.00,420.74 129.50,421.60 130.00,422.43 130.50,421.81 131.00,421.08 131.50,420.09 132.00,420.47 132.50,421.20 133.00,421.84 133.50,421.33 134.00,420.71 134.50,420.04 135.00,420.64 135.50,421.31 136.00,422.06 136.50,421.36 137.00,419.79 137.50,419.59 138.00,421.28 138.50,422.14 139.00,420.56 139.50,418.93 140.00,418.08 140.50,419.65 141.00,420.86 141.50,421.65 142.00,420.12 142.50,418.69 143.00,419.64 143.50,421.16 144.00,421.68 144.50,420.00 145.00,418.45 145.50,418.30 146.00,419.47 146.50,421.72 147.00,421.30 147.50,420.67 148.00,420.64 148.50,421.55 149.00,421.85 149.50,420.82 150.00,419.68 150.50,418.74 151.00,417.98 151.50,417.11 152.00,416.42 152.50,416.71 153.00,418.40 153.50,420.40 154.00,421.94 154.50,422.96 155.00,424.15 155.50,425.36 156.00,426.56 156.50,427.50 157.00,428.63 157.50,429.40 158.00,430.23 158.50,430.59 159.00,430.93 159.50,431.08 160.00,431.38 160.50,431.49 161.00,431.54 161.50,431.13 162.00,430.34 162.50,428.80 163.00,427.11 163.50,425.04 164.00,423.18 164.50,420.92 165.00,418.86 165.50,417.10 166.00,416.20 166.50,415.76 167.00,415.62 167.50,415.19 168.00,413.21 168.50,410.43 169.00,410.99 169.50,415.10 170.00,418.07 170.50,417.39 171.00,415.98 171.50,414.75 172.00,416.15 172.50,418.82 173.00,420.60 173.50,418.99 174.00,417.58 174.50,419.34 175.00,422.79 175.50,424.93 176.00,425.64 176.50,426.23 177.00,427.01 177.50,428.97 178.00,430.33 178.50,428.52 179.00,427.03 179.50,429.60 180.00,432.12 180.50,431.27 181.00,429.62 181.50,428.66 182.00,429.27 182.50,430.69 183.00,431.46 183.50,430.13 184.00,427.54 184.50,426.19 185.00,426.78 185.50,428.33 186.00,429.60 186.50,430.44 187.00,431.10 187.50,431.45 188.00,431.37 188.50,430.86 189.00,430.51 189.50,430.41 190.00,430.52 190.50,430.91 191.00,430.91 191.50,431.07 192.00,431.02 192.50,431.16 193.00,431.00 193.50,430.68 194.00,429.51 194.50,428.34 195.00,427.56 195.50,427.92 196.00,428.59 196.50,429.38 197.00,429.62 197.50,429.45 198.00,428.93 198.50,428.24 199.00,427.45 199.50,426.84 200.00,426.37 200.50,426.63 201.00,427.94 201.50,429.24 202.00,429.54 202.50,429.07 203.00,428.93 203.50,429.01 204.00,428.35 204.50,427.33 205.00,426.37 205.50,426.19 206.00,426.01 206.50,426.21 207.00,426.39 207.50,426.51 208.00,426.84 208.50,427.10 209.00,427.43 209.50,427.59 210.00,427.85 210.50,428.01 211.00,428.31 211.50,428.81 212.00,429.25 212.50,429.56 213.00,429.71 213.50,429.96 214.00,430.21 214.50,430.51 215.00,430.30 215.50,430.34 216.00,429.88 216.50,428.93 217.00,427.84 217.50,426.79 218.00,426.55 218.50,425.39 219.00,424.51 219.50,422.31 220.00,421.12 220.50,419.56 221.00,419.41 221.50,418.71 222.00,419.21 222.50,419.39 223.00,420.26 223.50,419.86 224.00,418.95 224.50,418.82 225.00,420.80 225.50,422.70 226.00,423.92 226.50,423.87 227.00,423.53 227.50,423.25 228.00,424.49 228.50,425.10 229.00,424.63 229.50,424.03 230.00,425.42 230.50,425.37 231.00,425.83 231.50,425.54 232.00,427.33 232.50,427.62 233.00,427.17 233.50,426.33 234.00,426.06 234.50,426.37 235.00,425.65 235.50,426.51 236.00,426.37 236.50,426.73 237.00,427.56 237.50,429.17 238.00,429.68 238.50,429.33 239.00,429.67 239.50,428.47 240.00,427.72 240.50,427.50 241.00,428.17 241.50,427.57 242.00,426.58 242.50,426.47 243.00,427.39 243.50,428.18 244.00,427.27 244.50,426.41 245.00,426.16 245.50,427.29 246.00,427.31 246.50,427.46 247.00,426.75 247.50,426.78 248.00,427.28 248.50,428.68 249.00,428.27 249.50,427.57 250.00,427.00 250.50,428.65 251.00,428.79 251.22,427.39 251.50,421.60 251.58,417.31 251.85,403.31 252.00,395.55 252.07,394.26 252.30,390.34 252.50,393.40 252.53,394.02 252.75,404.66 253.00,417.61 253.02,419.86 253.38,427.87 253.50,428.03 254.00,427.19 254.50,427.18 255.00,427.44 255.50,428.31 256.00,428.40 256.42,426.61 256.50,426.84 256.78,420.54 257.00,411.19 257.05,407.18 257.27,397.43 257.50,394.32 257.73,400.39 257.95,410.31 258.00,411.80 258.22,419.51 258.50,426.24 258.58,427.88 259.00,430.30 259.50,430.36 260.00,430.04 260.50,429.61 261.00,430.01 261.50,429.45 261.80,429.16" fill="none" stroke="#444444" stroke-width="1.2" stroke-linejoin="round"/>
<text x="50.40" y="409.10" font-size="4.4" font-weight="bold" text-anchor="middle" fill="#000" stroke="#000" stroke-width="0.12">3334</text>
<text x="120.80" y="265.60" font-size="4.4" font-weight="bold" text-anchor="middle" fill="#000" stroke="#000" stroke-width="0.12">1868</text>
<text x="162.60" y="260.20" font-size="4.4" font-weight="bold" text-anchor="middle" fill="#000" stroke="#000" stroke-width="0.12">1557</text>
<text x="167.70" y="254.70" font-size="4.4" font-weight="bold" text-anchor="middle" fill="#000" stroke="#000" stroke-width="0.12">1542</text>
<text x="175.00" y="260.20" font-size="4.4" font-weight="bold" text-anchor="middle" fill="#000" stroke="#000" stroke-width="0.12">1521</text>
<text x="178.20" y="266.10" font-size="4.4" font-weight="bold" text-anchor="middle" fill="#000" stroke="#000" stroke-width="0.12">1509</text>
<text x="181.50" y="283.30" font-size="4.4" font-weight="bold" text-anchor="middle" fill="#000" stroke="#000" stroke-width="0.12">1455</text>
<text x="190.30" y="278.00" font-size="4.4" font-weight="bold" text-anchor="middle" fill="#000" stroke="#000" stroke-width="0.12">1397</text>
<text x="236.30" y="272.70" font-size="4.4" font-weight="bold" text-anchor="middle" fill="#000" stroke="#000" stroke-width="0.12">1074</text>
<text x="224.90" y="400.80" font-size="4.4" font-weight="bold" text-anchor="middle" fill="#000" stroke="#000" stroke-width="0.12">1156</text>
<text x="243.20" y="400.10" font-size="4.4" font-weight="bold" text-anchor="middle" fill="#000" stroke="#000" stroke-width="0.12">1033</text>
<text x="251.90" y="387.20" font-size="4.4" font-weight="bold" text-anchor="middle" fill="#000" stroke="#000" stroke-width="0.12">965</text>
<text x="258.20" y="392.50" font-size="4.4" font-weight="bold" text-anchor="middle" fill="#000" stroke="#000" stroke-width="0.12">930</text>
<text x="107.40" y="288.20" font-size="7.9" font-weight="bold" text-anchor="end" fill="#111" stroke="#111" stroke-width="0.22">30 min</text>
<text x="107.40" y="320.60" font-size="7.9" font-weight="bold" text-anchor="end" fill="#111" stroke="#111" stroke-width="0.22">10 min</text>
<text x="107.40" y="351.30" font-size="7.9" font-weight="bold" text-anchor="end" fill="#111" stroke="#111" stroke-width="0.22">5 min</text>
<text x="107.40" y="376.70" font-size="7.9" font-weight="bold" text-anchor="end" fill="#111" stroke="#111" stroke-width="0.22">NO+O<tspan font-size="5.0" dy="1.6">2</tspan><tspan dy="-1.6"> 3 min</tspan></text>
<text x="107.40" y="414.40" font-size="7.9" font-weight="bold" text-anchor="end" fill="#111" stroke="#111" stroke-width="0.22">NH<tspan font-size="5.0" dy="1.6">3</tspan><tspan dy="-1.6"> 30 min</tspan></text>
<rect x="25.90" y="248.30" width="235.70" height="189.10" fill="none" stroke="#2b2b2b" stroke-width="1.2"/>
<line x1="98.20" y1="248.30" x2="102.40" y2="248.30" stroke="#fff" stroke-width="1.8"/>
<line x1="96.10" y1="251.80" x2="100.30" y2="244.80" stroke="#111" stroke-width="1.1"/>
<line x1="100.30" y1="251.80" x2="104.50" y2="244.80" stroke="#111" stroke-width="1.1"/>
<line x1="98.20" y1="437.40" x2="102.40" y2="437.40" stroke="#fff" stroke-width="1.8"/>
<line x1="96.10" y1="440.90" x2="100.30" y2="433.90" stroke="#111" stroke-width="1.1"/>
<line x1="100.30" y1="440.90" x2="104.50" y2="433.90" stroke="#111" stroke-width="1.1"/>
<line x1="40.30" y1="437.40" x2="40.30" y2="440.70" stroke="#2b2b2b" stroke-width="1.1"/>
<line x1="54.80" y1="437.40" x2="54.80" y2="439.20" stroke="#2b2b2b" stroke-width="1.1"/>
<line x1="69.30" y1="437.40" x2="69.30" y2="440.70" stroke="#2b2b2b" stroke-width="1.1"/>
<line x1="116.80" y1="437.40" x2="116.80" y2="439.20" stroke="#2b2b2b" stroke-width="1.1"/>
<line x1="131.30" y1="437.40" x2="131.30" y2="440.70" stroke="#2b2b2b" stroke-width="1.1"/>
<line x1="145.80" y1="437.40" x2="145.80" y2="439.20" stroke="#2b2b2b" stroke-width="1.1"/>
<line x1="160.30" y1="437.40" x2="160.30" y2="440.70" stroke="#2b2b2b" stroke-width="1.1"/>
<line x1="174.80" y1="437.40" x2="174.80" y2="439.20" stroke="#2b2b2b" stroke-width="1.1"/>
<line x1="189.30" y1="437.40" x2="189.30" y2="440.70" stroke="#2b2b2b" stroke-width="1.1"/>
<line x1="203.80" y1="437.40" x2="203.80" y2="439.20" stroke="#2b2b2b" stroke-width="1.1"/>
<line x1="218.30" y1="437.40" x2="218.30" y2="440.70" stroke="#2b2b2b" stroke-width="1.1"/>
<line x1="232.80" y1="437.40" x2="232.80" y2="439.20" stroke="#2b2b2b" stroke-width="1.1"/>
<line x1="247.30" y1="437.40" x2="247.30" y2="440.70" stroke="#2b2b2b" stroke-width="1.1"/>
<text x="40.30" y="453.80" font-size="9.7" text-anchor="middle" fill="#222" stroke="#222" stroke-width="0.1">3400</text>
<text x="69.30" y="453.80" font-size="9.7" text-anchor="middle" fill="#222" stroke="#222" stroke-width="0.1">3200</text>
<text x="102.30" y="453.80" font-size="9.7" text-anchor="middle" fill="#222" stroke="#222" stroke-width="0.1">2000</text>
<text x="131.30" y="453.80" font-size="9.7" text-anchor="middle" fill="#222" stroke="#222" stroke-width="0.1">1800</text>
<text x="160.30" y="453.80" font-size="9.7" text-anchor="middle" fill="#222" stroke="#222" stroke-width="0.1">1600</text>
<text x="189.30" y="453.80" font-size="9.7" text-anchor="middle" fill="#222" stroke="#222" stroke-width="0.1">1400</text>
<text x="218.30" y="453.80" font-size="9.7" text-anchor="middle" fill="#222" stroke="#222" stroke-width="0.1">1200</text>
<text x="247.30" y="453.80" font-size="9.7" text-anchor="middle" fill="#222" stroke="#222" stroke-width="0.1">1000</text>
<text x="94.80" y="470.80" font-size="11.8" font-weight="bold" fill="#111" stroke="#111" stroke-width="0.15">Wavenumber (cm<tspan font-size="7.79" dy="-4.96">-1</tspan><tspan dy="4.96">)</tspan></text>
<text transform="translate(15.50,346.30) rotate(-90)" x="0" y="0" font-size="11.8" font-weight="bold" text-anchor="middle" fill="#111" stroke="#111" stroke-width="0.15">Adsorbance (a.u.)</text>
<text x="3.20" y="256.60" font-size="15.4" fill="#111">(c)</text>
<line x1="332.50" y1="276.60" x2="332.50" y2="432.00" stroke="#8c8c8c" stroke-width="0.95"/>
<line x1="431.50" y1="278.50" x2="431.50" y2="434.00" stroke="#8c8c8c" stroke-width="0.95"/>
<line x1="449.50" y1="277.50" x2="449.50" y2="424.00" stroke="#8c8c8c" stroke-width="0.95"/>
<line x1="454.50" y1="271.00" x2="454.50" y2="428.00" stroke="#8c8c8c" stroke-width="0.95"/>
<line x1="456.50" y1="265.50" x2="456.50" y2="422.00" stroke="#8c8c8c" stroke-width="0.95"/>
<line x1="463.50" y1="270.50" x2="463.50" y2="426.40" stroke="#8c8c8c" stroke-width="0.95"/>
<line x1="491.50" y1="268.50" x2="491.50" y2="436.00" stroke="#8c8c8c" stroke-width="0.95"/>
<line x1="508.50" y1="271.50" x2="508.50" y2="436.00" stroke="#8c8c8c" stroke-width="0.95"/>
<line x1="521.50" y1="282.50" x2="521.50" y2="436.00" stroke="#8c8c8c" stroke-width="0.95"/>
<line x1="524.50" y1="277.00" x2="524.50" y2="436.00" stroke="#8c8c8c" stroke-width="0.95"/>
<line x1="527.50" y1="273.00" x2="527.50" y2="436.00" stroke="#8c8c8c" stroke-width="0.95"/>
<line x1="536.50" y1="257.00" x2="536.50" y2="436.00" stroke="#8c8c8c" stroke-width="0.95"/>
<line x1="542.50" y1="262.50" x2="542.50" y2="436.00" stroke="#8c8c8c" stroke-width="0.95"/>
<line x1="444.50" y1="401.40" x2="444.50" y2="432.60" stroke="#8c8c8c" stroke-width="0.95"/>
<line x1="448.50" y1="404.00" x2="448.50" y2="424.50" stroke="#8c8c8c" stroke-width="0.95"/>
<path d="M308.70,305.66 309.20,305.80 309.70,305.76 310.20,305.79 310.70,305.87 311.20,306.16 311.70,306.17 312.20,306.35 312.70,306.20 313.20,306.40 313.70,306.62 314.20,306.73 314.70,306.54 315.20,306.58 315.70,306.48 316.20,306.48 316.70,306.58 317.20,306.92 317.70,306.94 318.20,307.14 318.70,307.41 319.20,307.75 319.70,307.79 320.20,307.87 320.70,307.92 321.20,308.10 321.70,308.27 322.20,308.83 322.70,309.32 323.20,309.39 323.70,309.16 324.20,308.99 324.70,309.16 325.20,309.52 325.70,309.74 326.20,309.82 326.70,309.80 327.20,310.05 327.70,309.72 328.20,309.19 328.70,308.96 329.20,309.50 329.70,309.84 330.20,309.92 330.70,309.72 331.20,309.51 331.44,309.20 331.70,309.00 331.76,309.17 332.00,308.04 332.20,306.94 332.40,306.44 332.44,306.55 332.60,306.91 332.70,307.53 332.76,307.87 332.80,308.29 333.00,309.67 333.04,309.88 333.20,310.74 333.36,311.31 333.40,311.47 333.60,311.37 333.70,311.34 333.80,311.07 334.04,310.73 334.20,310.73 334.36,310.76 334.70,310.80 335.20,311.09 335.70,311.31 336.20,310.83 336.70,310.27 337.20,310.25 337.70,310.90 338.20,311.43 338.70,311.60 339.20,311.38 339.70,311.21 340.20,311.20 340.70,311.20 341.20,311.27 341.70,311.40 342.20,311.66 342.70,311.80 343.20,311.71 343.70,311.77 344.20,311.82 344.70,311.62 345.20,311.25 345.70,311.09 346.20,311.44 346.70,311.69 347.20,311.79 347.70,311.67 348.20,311.67 348.70,311.74 349.20,311.59 349.70,311.10 350.20,310.93 350.70,311.03 351.20,311.17 351.70,310.97 352.20,310.74 352.70,310.37 353.20,310.45 353.70,310.84 354.20,311.14 354.70,310.93 355.20,310.68 355.70,310.40 356.20,310.26 356.70,310.11 357.20,309.99 357.70,309.93 358.20,310.23 358.70,310.04 359.20,309.86 359.70,309.77 360.20,309.82 360.70,309.62 361.20,309.55 361.70,309.60 362.20,309.39 362.70,309.10 363.20,309.34 363.70,309.88 364.20,310.32 364.70,309.92 365.20,309.45 365.70,309.24 366.20,309.10 366.70,308.90 367.20,308.90 367.70,308.95 368.20,308.61 368.70,308.21 369.20,308.29 369.70,308.54 370.20,308.60 370.70,308.72 371.20,308.82 371.70,308.64 372.20,308.33 372.70,308.63 373.20,308.63 373.70,308.70 374.20,308.68 374.70,308.77 375.20,308.30 375.70,308.24 376.20,308.34 376.70,308.20 377.20,308.18 377.70,308.24 378.20,308.24 378.70,307.92 379.20,307.78 379.70,307.69 380.20,307.60 380.70,307.65 381.00,307.65" fill="none" stroke="#b36cee" stroke-width="1.2" stroke-linejoin="round"/>
<path d="M385.80,305.15 386.30,305.37 386.80,305.46 387.30,305.42 387.80,305.05 388.30,304.88 388.80,304.54 389.30,304.37 389.80,304.31 390.30,304.37 390.80,304.65 391.30,304.61 391.80,304.50 392.30,304.08 392.80,304.18 393.30,304.46 393.80,304.62 394.30,304.95 394.80,305.01 395.30,305.02 395.80,304.68 396.30,304.75 396.80,304.68 397.30,304.45 397.80,304.54 398.30,304.71 398.80,304.74 399.30,304.37 399.80,304.71 400.30,304.74 400.80,304.72 401.30,304.80 401.80,305.50 402.30,305.63 402.80,305.43 403.30,304.97 403.80,305.36 404.30,305.52 404.80,305.57 405.30,305.27 405.80,305.17 406.30,305.15 406.80,304.98 407.30,305.38 407.80,305.55 408.30,305.69 408.80,305.66 409.30,305.59 409.80,305.76 410.30,306.02 410.80,306.15 411.30,305.92 411.80,305.78 412.30,306.12 412.80,306.18 413.30,306.11 413.80,306.16 414.30,306.38 414.80,306.70 415.30,306.98 415.80,307.55 416.30,307.91 416.80,307.52 417.30,307.39 417.80,307.50 418.30,308.29 418.80,308.33 419.30,308.91 419.80,309.05 420.30,309.14 420.80,308.78 421.30,308.10 421.80,308.17 422.30,308.50 422.80,308.80 423.30,308.70 423.80,309.06 424.30,309.68 424.80,309.59 425.30,309.80 425.80,310.15 426.30,310.31 426.80,309.99 427.30,309.58 427.80,309.34 428.30,309.61 428.80,309.75 429.30,309.34 429.80,309.11 430.30,309.90 430.80,310.39 431.30,310.40 431.80,310.24 432.30,309.85 432.80,309.37 433.30,309.21 433.80,309.66 434.30,308.51 434.80,308.31 435.30,308.65 435.80,309.19 436.30,308.96 436.80,308.72 437.30,308.78 437.80,308.54 438.30,308.96 438.80,308.82 439.30,308.29 439.34,307.97 439.66,306.65 439.80,306.12 439.90,305.92 440.10,305.05 440.24,304.40 440.30,304.43 440.50,304.90 440.56,305.18 440.70,306.46 440.80,307.73 440.94,309.03 441.00,309.82 441.20,311.25 441.26,311.23 441.30,310.72 441.40,309.83 441.60,309.26 441.80,309.24 441.84,309.71 442.16,309.44 442.30,308.91 442.80,308.77 443.30,309.63 443.80,309.80 444.30,309.84 444.80,309.13 445.30,309.21 445.80,309.67 446.30,309.98 446.80,310.22 447.30,309.83 447.80,310.14 448.30,310.06 448.80,310.63 449.30,310.86 449.80,311.36 450.30,311.52 450.80,310.51 451.30,307.97 451.80,305.29 452.30,301.56 452.80,298.30 453.30,295.69 453.80,293.87 454.30,293.26 454.80,292.93 455.30,292.65 455.80,291.94 456.30,291.57 456.80,291.29 457.30,291.62 457.80,291.83 458.30,291.95 458.80,291.72 459.30,291.50 459.80,291.17 460.30,290.50 460.80,289.84 461.30,289.78 461.80,290.38 462.30,290.78 462.80,290.99 463.30,291.33 463.80,291.37 464.30,291.53 464.80,292.06 465.30,293.04 465.80,294.27 466.30,295.46 466.80,296.42 467.30,296.90 467.80,297.43 468.30,298.03 468.80,298.67 469.30,299.19 469.80,299.17 470.30,298.80 470.80,299.03 471.30,299.14 471.80,299.14 472.30,299.20 472.80,299.96 473.30,300.80 473.80,301.35 474.30,302.34 474.80,302.85 475.30,303.37 475.80,303.59 476.30,304.20 476.80,304.79 477.30,305.38 477.80,305.95 478.30,306.08 478.80,306.16 479.30,306.43 479.80,306.55 480.30,306.23 480.80,305.45 481.30,304.53 481.80,303.29 482.30,302.03 482.80,300.85 483.30,299.82 483.80,298.64 484.30,297.27 484.80,295.76 485.30,294.65 485.80,293.42 486.30,292.18 486.80,291.21 487.30,290.47 487.80,289.39 488.30,288.53 488.80,287.35 489.30,286.31 489.80,285.29 490.30,284.91 490.80,284.54 491.30,284.73 491.80,285.22 492.30,285.75 492.80,286.41 493.30,287.16 493.80,288.13 494.30,289.38 494.80,291.13 495.30,293.31 495.80,295.55 496.30,297.34 496.80,298.12 497.30,298.92 497.80,299.54 498.30,300.60 498.80,300.94 499.30,300.84 499.80,300.09 500.30,299.51 500.80,298.84 501.30,298.28 501.80,298.12 502.30,297.62 502.80,296.89 503.30,295.76 503.80,295.42 504.30,294.65 504.80,293.83 505.30,293.11 505.80,293.54 506.30,294.05 506.80,293.82 507.30,292.45 507.80,290.75 508.30,290.75 508.80,292.48 509.30,295.09 509.80,295.98 510.30,296.09 510.80,296.42 511.30,297.89 511.80,298.23 512.30,298.07 512.80,298.58 513.30,299.10 513.80,299.03 514.30,299.10 514.80,300.66 515.30,301.74 515.80,300.97 516.30,299.93 516.80,300.91 517.30,303.26 517.80,302.97 518.30,301.89 518.80,301.40 519.30,302.50 519.80,302.65 520.30,304.12 520.80,305.34 521.30,307.50 521.80,307.91 522.30,308.20 522.80,307.97 523.30,307.86 523.80,306.06 524.30,305.46 524.80,305.29 525.30,304.85 525.80,305.33 526.30,306.88 526.80,307.18 527.30,306.10 527.80,306.96 528.30,308.35 528.80,309.21 529.30,308.56 529.80,308.55 530.30,307.41 530.80,308.16 531.30,308.41 531.80,308.87 532.30,310.11 532.80,309.13 533.30,307.44 533.80,305.41 534.30,306.34 534.80,308.17 535.30,308.57 535.80,307.77 535.82,306.86 536.18,298.06 536.30,292.35 536.45,284.46 536.67,272.56 536.80,268.46 536.90,268.73 537.12,275.31 537.30,283.81 537.35,284.95 537.62,298.33 537.80,305.20 537.98,309.46 538.30,312.86 538.80,311.73 539.30,309.19 539.80,308.75 540.30,310.77 540.80,309.50 540.92,307.24 541.28,298.60 541.30,299.34 541.55,287.38 541.77,276.31 541.80,275.53 542.00,273.38 542.23,277.63 542.30,279.51 542.45,285.32 542.72,296.81 542.80,299.26 543.08,306.75 543.30,310.11 543.80,311.95 544.30,312.12 544.80,312.03 545.30,311.42 545.80,310.44 546.20,309.88" fill="none" stroke="#b36cee" stroke-width="1.2" stroke-linejoin="round"/>
<path d="M308.70,343.40 309.20,343.52 309.70,343.56 310.20,343.50 310.70,343.26 311.20,343.46 311.70,343.91 312.20,343.90 312.70,343.43 313.20,343.39 313.70,343.86 314.20,344.35 314.70,344.60 315.20,344.49 315.70,344.37 316.20,344.38 316.70,344.48 317.20,344.36 317.70,344.19 318.20,344.36 318.70,344.57 319.20,344.71 319.70,344.46 320.20,344.40 320.70,344.33 321.20,344.54 321.70,344.87 322.20,345.03 322.70,344.78 323.20,344.93 323.70,345.10 324.20,345.17 324.70,344.59 325.20,344.26 325.70,344.14 326.20,343.91 326.70,343.61 327.20,343.53 327.70,344.13 328.20,344.32 328.70,343.89 329.20,343.15 329.70,343.13 330.20,343.18 330.70,343.13 331.20,343.22 331.70,343.25 331.72,343.13 332.08,341.97 332.20,341.73 332.35,341.49 332.57,340.65 332.70,339.82 332.80,339.47 333.02,340.18 333.20,341.14 333.25,341.12 333.52,341.82 333.70,342.35 333.88,342.76 334.20,342.79 334.70,342.62 335.20,342.46 335.70,342.23 336.20,341.93 336.70,341.70 337.20,341.47 337.70,341.64 338.20,341.94 338.70,342.15 339.20,342.06 339.70,341.94 340.20,341.73 340.70,341.59 341.20,341.53 341.70,341.54 342.20,341.16 342.70,340.99 343.20,341.14 343.70,341.44 344.20,341.34 344.70,341.00 345.20,340.91 345.70,341.32 346.20,341.61 346.70,341.79 347.20,341.62 347.70,341.84 348.20,341.71 348.70,341.81 349.20,341.84 349.70,342.09 350.20,341.94 350.70,341.77 351.20,341.63 351.70,341.80 352.20,341.91 352.70,342.07 353.20,342.26 353.70,342.27 354.20,342.18 354.70,342.08 355.20,342.29 355.70,342.39 356.20,342.60 356.70,342.62 357.20,343.01 357.70,343.16 358.20,343.50 358.70,343.18 359.20,343.08 359.70,343.02 360.20,343.55 360.70,343.77 361.20,343.95 361.70,343.69 362.20,343.85 362.70,343.67 363.20,343.43 363.70,342.87 364.20,343.04 364.70,343.43 365.20,343.79 365.70,343.80 366.20,343.93 366.70,344.21 367.20,344.28 367.70,344.19 368.20,343.94 368.70,343.70 369.20,343.58 369.70,343.98 370.20,344.25 370.70,344.56 371.20,344.61 371.70,344.75 372.20,344.56 372.70,344.53 373.20,344.45 373.70,344.54 374.20,344.52 374.70,344.41 375.20,344.08 375.70,344.18 376.20,344.77 376.70,345.31 377.20,345.07 377.70,344.24 378.20,344.12 378.70,344.51 379.20,344.72 379.70,344.79 380.20,344.86 380.70,345.04 381.00,344.84" fill="none" stroke="#2bab62" stroke-width="1.2" stroke-linejoin="round"/>
<path d="M385.80,342.92 386.30,342.92 386.80,342.60 387.30,342.66 387.80,342.88 388.30,342.73 388.80,342.52 389.30,342.60 389.80,342.86 390.30,343.45 390.80,344.07 391.30,343.88 391.80,342.99 392.30,342.65 392.80,342.66 393.30,342.91 393.80,343.06 394.30,343.39 394.80,343.41 395.30,343.10 395.80,342.90 396.30,343.02 396.80,343.35 397.30,343.64 397.80,343.53 398.30,343.35 398.80,343.11 399.30,343.14 399.80,343.30 400.30,343.41 400.80,343.86 401.30,343.47 401.80,343.62 402.30,343.49 402.80,343.64 403.30,343.36 403.80,343.54 404.30,343.96 404.80,344.23 405.30,344.11 405.80,343.84 406.30,343.74 406.80,343.96 407.30,343.91 407.80,344.09 408.30,344.23 408.80,344.01 409.30,343.74 409.80,343.76 410.30,343.94 410.80,344.06 411.30,344.31 411.80,344.42 412.30,344.35 412.80,344.42 413.30,344.30 413.80,344.17 414.30,344.31 414.80,344.40 415.30,344.21 415.80,343.85 416.30,344.20 416.80,344.35 417.30,344.69 417.80,344.47 418.30,344.56 418.80,344.42 419.30,344.41 419.80,343.91 420.30,344.10 420.80,344.40 421.30,344.80 421.80,344.81 422.30,344.47 422.80,344.49 423.30,344.64 423.80,344.93 424.30,344.31 424.80,344.09 425.30,344.29 425.80,345.28 426.30,345.65 426.80,344.90 427.30,343.94 427.80,344.85 428.30,345.57 428.80,346.14 429.30,345.33 429.80,344.70 430.30,343.58 430.80,343.46 431.30,343.73 431.80,344.28 432.30,343.99 432.80,343.38 433.30,343.10 433.80,343.59 434.30,344.46 434.80,345.45 435.30,345.71 435.80,345.29 436.30,344.40 436.80,344.09 437.30,343.21 437.80,343.13 438.30,343.20 438.80,344.05 439.30,343.95 439.80,342.09 440.30,339.91 440.80,339.14 441.30,339.02 441.80,339.16 442.30,339.90 442.80,340.38 443.30,340.67 443.80,340.07 444.30,339.76 444.80,339.71 445.30,339.86 445.80,339.94 446.30,340.49 446.80,340.91 447.30,340.88 447.80,340.93 448.30,341.84 448.80,342.54 449.30,342.67 449.80,342.71 450.30,342.27 450.80,340.30 451.30,337.94 451.80,335.33 452.30,332.73 452.80,330.51 453.30,328.97 453.80,327.48 454.30,326.27 454.80,325.85 455.30,325.87 455.80,326.19 456.30,326.03 456.80,325.85 457.30,326.05 457.80,326.27 458.30,326.04 458.80,325.81 459.30,325.79 459.80,325.74 460.30,325.17 460.80,325.16 461.30,325.21 461.80,325.53 462.30,325.76 462.80,326.19 463.30,325.95 463.80,325.55 464.30,325.65 464.80,326.44 465.30,327.20 465.80,327.69 466.30,328.52 466.80,329.60 467.30,330.41 467.80,330.65 468.30,331.01 468.80,331.16 469.30,331.42 469.80,331.65 470.30,332.28 470.80,332.57 471.30,332.30 471.80,332.42 472.30,332.81 472.80,332.89 473.30,332.34 473.80,332.66 474.30,333.33 474.80,334.17 475.30,334.62 475.80,335.16 476.30,336.00 476.80,337.43 477.30,338.37 477.80,338.87 478.30,339.25 478.80,339.69 479.30,339.56 479.80,339.52 480.30,339.31 480.80,338.89 481.30,338.13 481.80,337.03 482.30,335.55 482.80,333.66 483.30,332.10 483.80,330.97 484.30,329.94 484.80,328.50 485.30,327.17 485.80,325.97 486.30,324.97 486.80,324.20 487.30,323.80 487.80,323.09 488.30,321.97 488.80,320.62 489.30,319.47 489.80,318.72 490.30,317.95 490.80,316.88 491.30,316.20 491.80,316.14 492.30,316.85 492.80,317.83 493.30,319.03 493.80,320.08 494.30,321.57 494.80,323.09 495.30,324.69 495.80,326.24 496.30,327.87 496.80,328.71 497.30,329.94 497.80,331.22 498.30,332.34 498.80,332.42 499.30,332.51 499.80,332.14 500.30,331.95 500.80,331.84 501.30,332.46 501.80,332.06 502.30,331.26 502.80,330.56 503.30,330.67 503.80,330.36 504.30,330.00 504.80,329.56 505.30,329.33 505.80,328.72 506.30,328.74 506.80,329.01 507.30,330.17 507.80,330.83 508.30,331.69 508.80,331.63 509.30,331.00 509.80,330.66 510.30,330.13 510.80,329.59 511.30,329.11 511.80,330.87 512.30,332.86 512.80,332.55 513.30,331.62 513.80,332.27 514.30,333.66 514.80,332.87 515.30,332.25 515.80,333.98 516.30,335.19 516.80,334.74 517.30,335.50 517.80,337.19 518.30,336.94 518.80,336.21 519.30,337.35 519.80,338.35 520.30,338.03 520.80,338.31 521.30,339.24 521.80,340.36 522.30,341.28 522.80,341.95 523.30,342.15 523.80,341.45 524.30,340.10 524.80,338.25 525.30,338.11 525.80,338.23 526.30,339.01 526.80,340.39 527.30,342.60 527.80,343.52 528.30,343.25 528.80,342.55 529.30,342.50 529.80,341.91 530.30,341.13 530.80,339.98 531.30,340.04 531.80,340.99 532.30,341.95 532.80,342.24 533.30,343.48 533.80,344.37 534.30,344.36 534.80,343.08 535.30,343.00 535.80,340.82 535.82,340.69 536.18,335.83 536.30,334.01 536.45,327.93 536.67,320.10 536.80,318.42 536.90,319.70 537.12,321.58 537.30,324.62 537.35,325.06 537.62,334.08 537.80,338.98 537.98,341.55 538.30,341.08 538.80,340.49 539.30,339.79 539.80,341.03 540.30,340.94 540.80,340.56 540.92,338.65 541.28,334.51 541.30,334.94 541.55,329.39 541.77,323.59 541.80,322.87 542.00,321.26 542.23,324.82 542.30,326.83 542.45,330.44 542.72,337.08 542.80,338.39 543.08,340.68 543.30,340.24 543.80,340.24 544.30,341.59 544.80,342.27 545.30,341.38 545.80,340.29 546.20,340.76" fill="none" stroke="#2bab62" stroke-width="1.2" stroke-linejoin="round"/>
<path d="M308.70,376.40 309.20,376.47 309.70,376.50 310.20,376.34 310.70,376.34 311.20,376.47 311.70,376.77 312.20,376.95 312.70,377.09 313.20,376.75 313.70,376.30 314.20,376.44 314.70,376.47 315.20,376.49 315.70,376.49 316.20,376.54 316.70,376.45 317.20,376.54 317.70,376.62 318.20,376.44 318.70,376.42 319.20,376.36 319.70,376.15 320.20,376.17 320.70,376.41 321.20,376.20 321.70,375.88 322.20,376.15 322.70,376.13 323.20,375.96 323.70,375.79 324.20,375.87 324.70,375.67 325.20,375.37 325.70,375.44 326.20,375.61 326.70,375.46 327.20,374.93 327.70,374.60 328.20,374.54 328.70,374.48 329.20,374.24 329.70,374.25 330.20,374.14 330.70,374.16 331.20,374.08 331.70,374.16 331.72,374.03 332.08,373.60 332.20,373.48 332.35,373.31 332.57,372.94 332.70,372.62 332.80,372.39 333.02,372.38 333.20,372.74 333.25,373.08 333.52,373.63 333.70,374.14 333.88,373.95 334.20,373.67 334.70,373.59 335.20,373.68 335.70,373.83 336.20,373.57 336.70,373.65 337.20,373.68 337.70,373.81 338.20,373.50 338.70,373.16 339.20,373.35 339.70,373.62 340.20,373.73 340.70,373.57 341.20,373.54 341.70,373.39 342.20,373.18 342.70,373.17 343.20,373.30 343.70,373.12 344.20,372.92 344.70,373.15 345.20,373.81 345.70,373.66 346.20,373.37 346.70,373.25 347.20,373.62 347.70,373.53 348.20,373.48 348.70,373.39 349.20,373.48 349.70,373.37 350.20,373.50 350.70,373.53 351.20,373.67 351.70,373.70 352.20,373.93 352.70,374.25 353.20,374.34 353.70,374.05 354.20,373.77 354.70,373.79 355.20,373.68 355.70,373.72 356.20,373.87 356.70,374.30 357.20,374.41 357.70,374.63 358.20,374.72 358.70,374.71 359.20,374.50 359.70,374.36 360.20,374.41 360.70,374.64 361.20,374.75 361.70,374.73 362.20,374.53 362.70,374.85 363.20,375.01 363.70,375.05 364.20,374.75 364.70,374.84 365.20,374.83 365.70,374.84 366.20,374.53 366.70,374.36 367.20,374.54 367.70,375.11 368.20,375.16 368.70,375.07 369.20,375.11 369.70,375.87 370.20,375.87 370.70,375.56 371.20,374.97 371.70,375.27 372.20,375.66 372.70,375.82 373.20,375.89 373.70,376.18 374.20,376.21 374.70,375.96 375.20,375.69 375.70,375.65 376.20,375.50 376.70,375.53 377.20,375.47 377.70,375.50 378.20,375.75 378.70,375.88 379.20,375.75 379.70,375.53 380.20,375.74 380.70,375.90 381.00,376.03" fill="none" stroke="#2a6ae0" stroke-width="1.2" stroke-linejoin="round"/>
<path d="M385.80,376.56 386.30,376.22 386.80,376.08 387.30,376.21 387.80,376.63 388.30,376.74 388.80,376.29 389.30,375.53 389.80,375.44 390.30,375.90 390.80,375.80 391.30,375.60 391.80,376.07 392.30,376.70 392.80,376.59 393.30,376.32 393.80,376.45 394.30,376.62 394.80,376.81 395.30,376.61 395.80,376.87 396.30,376.99 396.80,377.17 397.30,376.76 397.80,376.47 398.30,376.19 398.80,376.26 399.30,376.59 399.80,376.91 400.30,376.75 400.80,376.50 401.30,376.17 401.80,375.93 402.30,375.65 402.80,375.85 403.30,375.92 403.80,376.24 404.30,376.12 404.80,376.44 405.30,376.69 405.80,377.08 406.30,377.02 406.80,376.65 407.30,376.21 407.80,375.86 408.30,375.94 408.80,376.35 409.30,376.35 409.80,376.55 410.30,376.34 410.80,376.13 411.30,375.71 411.80,376.08 412.30,376.26 412.80,375.91 413.30,375.98 413.80,375.99 414.30,376.17 414.80,375.99 415.30,376.06 415.80,375.82 416.30,375.55 416.80,375.23 417.30,375.24 417.80,375.32 418.30,375.24 418.80,375.58 419.30,376.76 419.80,377.50 420.30,377.23 420.80,376.44 421.30,375.92 421.80,375.35 422.30,374.30 422.80,374.07 423.30,374.76 423.80,376.11 424.30,375.68 424.80,375.73 425.30,375.44 425.80,375.19 426.30,374.58 426.80,375.20 427.30,375.76 427.80,375.88 428.30,375.25 428.80,375.25 429.30,375.58 429.80,375.62 430.30,375.34 430.80,374.63 431.30,374.78 431.80,374.24 432.30,374.62 432.80,374.72 433.30,374.76 433.80,374.55 434.30,374.32 434.80,374.53 435.30,374.13 435.80,374.48 436.30,374.35 436.80,374.98 437.30,375.11 437.80,375.30 438.30,374.21 438.80,372.97 439.30,372.29 439.80,373.47 440.30,374.08 440.80,374.34 441.30,374.25 441.80,374.22 442.30,373.41 442.80,373.30 443.30,373.33 443.80,372.84 444.30,371.98 444.80,371.73 445.30,371.53 445.80,371.64 446.30,371.43 446.80,371.30 447.30,370.68 447.80,370.67 448.30,370.10 448.80,369.38 449.30,368.09 449.80,366.96 450.30,365.82 450.80,364.97 451.30,363.90 451.80,362.36 452.30,360.19 452.80,358.21 453.30,357.03 453.80,357.23 454.30,357.19 454.80,357.12 455.30,357.35 455.80,357.60 456.30,357.11 456.80,357.00 457.30,357.07 457.80,357.22 458.30,357.13 458.80,357.15 459.30,357.43 459.80,357.41 460.30,357.65 460.80,357.65 461.30,358.10 461.80,358.10 462.30,358.10 462.80,357.80 463.30,357.75 463.80,357.95 464.30,358.80 464.80,359.58 465.30,360.64 465.80,361.25 466.30,361.51 466.80,361.47 467.30,362.11 467.80,362.67 468.30,363.05 468.80,362.78 469.30,362.94 469.80,363.19 470.30,363.66 470.80,363.77 471.30,363.54 471.80,363.11 472.30,362.77 472.80,363.22 473.30,363.85 473.80,364.37 474.30,364.47 474.80,364.97 475.30,365.26 475.80,365.97 476.30,366.42 476.80,367.21 477.30,368.14 477.80,369.48 478.30,370.43 478.80,370.88 479.30,371.34 479.80,371.63 480.30,371.18 480.80,370.22 481.30,369.16 481.80,368.37 482.30,367.31 482.80,366.20 483.30,364.86 483.80,363.56 484.30,362.67 484.80,361.88 485.30,360.55 485.80,359.15 486.30,358.26 486.80,357.58 487.30,356.42 487.80,355.23 488.30,354.41 488.80,353.27 489.30,351.98 489.80,350.81 490.30,349.94 490.80,349.08 491.30,348.35 491.80,348.45 492.30,348.85 492.80,349.70 493.30,350.15 493.80,351.14 494.30,352.20 494.80,353.72 495.30,355.25 495.80,356.93 496.30,358.16 496.80,359.07 497.30,360.45 497.80,361.98 498.30,363.22 498.80,363.81 499.30,364.14 499.80,364.52 500.30,365.06 500.80,365.22 501.30,365.05 501.80,365.17 502.30,365.66 502.80,365.85 503.30,365.46 503.80,365.47 504.30,365.63 504.80,365.83 505.30,365.15 505.80,364.71 506.30,364.66 506.80,365.79 507.30,366.37 507.80,366.32 508.30,365.90 508.80,366.39 509.30,367.78 509.80,369.26 510.30,368.86 510.80,368.27 511.30,368.59 511.80,370.58 512.30,371.83 512.80,372.25 513.30,370.91 513.80,371.09 514.30,371.66 514.80,372.77 515.30,372.00 515.80,371.97 516.30,371.95 516.80,372.32 517.30,372.15 517.80,372.99 518.30,374.52 518.80,375.24 519.30,374.47 519.80,373.75 520.30,374.20 520.80,375.88 521.30,376.69 521.80,377.68 522.30,376.32 522.80,374.96 523.30,373.21 523.80,373.39 524.30,374.09 524.80,375.54 525.30,375.33 525.80,374.14 526.30,373.49 526.80,375.35 527.30,375.34 527.80,374.82 528.30,374.76 528.80,375.42 529.30,375.59 529.80,375.26 530.30,374.93 530.80,374.32 531.30,375.44 531.80,377.32 532.30,377.85 532.80,375.80 533.30,375.24 533.80,375.50 534.30,377.04 534.80,376.53 535.30,375.24 535.46,373.55 535.80,372.58 535.94,373.95 536.30,371.45 536.60,369.25 536.80,367.83 536.90,367.98 537.20,368.89 537.30,370.48 537.50,373.43 537.80,375.14 537.86,374.90 538.30,375.81 538.34,375.24 538.80,375.27 539.30,374.94 539.80,375.30 540.30,375.49 540.56,374.87 540.80,374.18 541.04,373.03 541.30,372.43 541.40,372.40 541.70,371.20 541.80,371.53 542.00,372.65 542.30,373.89 542.60,373.85 542.80,373.02 542.96,372.96 543.30,373.51 543.44,374.35 543.80,374.66 544.30,374.89 544.80,374.75 545.30,374.26 545.80,372.82 546.20,372.20" fill="none" stroke="#2a6ae0" stroke-width="1.2" stroke-linejoin="round"/>
<path d="M308.70,397.60 309.20,397.93 309.70,398.21 310.20,398.40 310.70,397.98 311.20,397.87 311.70,397.83 312.20,397.91 312.70,397.80 313.20,397.80 313.70,397.91 314.20,397.98 314.70,397.74 315.20,397.50 315.70,397.35 316.20,397.50 316.70,397.65 317.20,397.91 317.70,397.79 318.20,397.86 318.70,397.82 319.20,397.83 319.70,397.85 320.20,397.95 320.70,398.12 321.20,398.16 321.70,398.23 322.20,398.00 322.70,397.80 323.20,397.92 323.70,397.94 324.20,397.91 324.70,397.79 325.20,397.77 325.70,397.58 326.20,397.44 326.70,397.45 327.20,397.64 327.70,397.53 328.20,397.39 328.70,397.44 329.20,397.72 329.70,397.86 330.20,397.77 330.70,397.86 331.20,397.94 331.70,398.13 332.20,397.88 332.70,397.97 333.20,398.01 333.70,398.11 334.20,397.75 334.70,397.64 335.20,397.67 335.70,397.71 336.20,397.84 336.70,398.20 337.20,398.32 337.70,398.11 338.20,398.09 338.70,398.37 339.20,398.55 339.70,398.56 340.20,398.39 340.70,397.82 341.20,397.76 341.70,398.33 342.20,398.70 342.70,398.87 343.20,398.62 343.70,398.73 344.20,398.63 344.70,398.82 345.20,398.67 345.70,398.58 346.20,398.57 346.70,398.48 347.20,398.68 347.70,398.61 348.20,398.77 348.70,398.55 349.20,398.44 349.70,398.43 350.20,398.75 350.70,398.95 351.20,399.11 351.70,399.02 352.20,399.03 352.70,398.89 353.20,399.24 353.70,398.99 354.20,398.74 354.70,398.42 355.20,398.43 355.70,398.23 356.20,398.23 356.70,398.38 357.20,398.46 357.70,398.41 358.20,398.21 358.70,398.48 359.20,398.75 359.70,398.98 360.20,398.84 360.70,398.72 361.20,398.52 361.70,398.29 362.20,398.21 362.70,398.21 363.20,398.45 363.70,398.55 364.20,398.73 364.70,398.70 365.20,399.00 365.70,398.75 366.20,398.42 366.70,397.99 367.20,397.71 367.70,397.83 368.20,398.11 368.70,398.41 369.20,398.26 369.70,398.30 370.20,398.14 370.70,398.05 371.20,397.98 371.70,398.20 372.20,398.35 372.70,398.35 373.20,398.01 373.70,397.75 374.20,397.66 374.70,397.69 375.20,397.41 375.70,397.30 376.20,397.25 376.70,397.32 377.20,397.36 377.70,397.63 378.20,397.67 378.70,397.29 379.20,396.85 379.70,396.98 380.20,397.13 380.70,397.20 381.00,397.03" fill="none" stroke="#f03a3a" stroke-width="1.2" stroke-linejoin="round"/>
<path d="M385.80,398.00 386.30,398.01 386.80,398.13 387.30,398.13 387.80,398.26 388.30,398.32 388.80,398.01 389.30,397.97 389.80,398.34 390.30,398.72 390.80,398.30 391.30,397.91 391.80,398.08 392.30,398.21 392.80,398.03 393.30,397.73 393.80,397.51 394.30,397.57 394.80,397.64 395.30,397.64 395.80,397.78 396.30,398.02 396.80,398.35 397.30,398.01 397.80,398.05 398.30,398.37 398.80,398.66 399.30,398.21 399.80,397.62 400.30,397.81 400.80,398.18 401.30,398.51 401.80,398.37 402.30,398.10 402.80,397.89 403.30,397.97 403.80,398.13 404.30,398.22 404.80,398.18 405.30,398.41 405.80,398.15 406.30,398.19 406.80,398.19 407.30,398.62 407.80,398.82 408.30,398.95 408.80,398.82 409.30,398.52 409.80,398.55 410.30,398.62 410.80,398.74 411.30,398.58 411.80,398.58 412.30,398.44 412.80,398.82 413.30,398.99 413.80,398.92 414.30,398.43 414.80,398.46 415.30,398.50 415.80,398.64 416.30,398.66 416.80,398.74 417.30,398.82 417.80,398.91 418.30,398.89 418.80,398.81 419.30,398.98 419.80,398.95 420.30,398.98 420.80,398.95 421.30,399.02 421.80,398.63 422.30,398.45 422.80,398.23 423.30,398.25 423.80,398.21 424.30,398.37 424.80,398.24 425.30,398.38 425.80,398.54 426.30,398.89 426.80,398.83 427.30,398.52 427.80,398.43 428.30,398.75 428.80,399.27 429.30,399.03 429.80,398.46 430.30,398.12 430.80,398.11 431.30,398.23 431.80,398.03 432.30,397.99 432.80,398.26 433.30,398.35 433.80,398.04 434.30,398.07 434.80,398.29 435.30,398.29 435.80,398.09 436.30,398.31 436.80,398.16 437.30,398.02 437.80,398.19 438.30,398.44 438.80,397.92 439.30,397.60 439.80,397.26 440.30,397.39 440.80,397.41 441.30,397.48 441.80,396.79 442.30,396.14 442.80,395.29 443.30,394.38 443.80,393.03 444.30,392.04 444.80,390.82 445.30,388.79 445.80,386.22 446.30,384.29 446.80,383.09 447.30,382.04 447.80,381.05 448.30,380.77 448.80,381.12 449.30,381.98 449.80,382.94 450.30,383.12 450.80,382.50 451.30,381.69 451.80,381.07 452.30,380.41 452.80,380.34 453.30,380.57 453.80,381.20 454.30,381.46 454.80,381.56 455.30,381.56 455.80,381.77 456.30,382.13 456.80,382.21 457.30,382.54 457.80,382.64 458.30,382.60 458.80,382.41 459.30,382.57 459.80,383.07 460.30,383.46 460.80,383.65 461.30,383.77 461.80,383.97 462.30,384.25 462.80,384.26 463.30,384.55 463.80,384.41 464.30,384.32 464.80,384.43 465.30,385.32 465.80,386.25 466.30,386.81 466.80,387.14 467.30,387.45 467.80,387.89 468.30,388.20 468.80,388.18 469.30,388.15 469.80,388.33 470.30,388.47 470.80,388.64 471.30,388.99 471.80,389.34 472.30,389.26 472.80,389.02 473.30,389.12 473.80,389.57 474.30,390.35 474.80,391.04 475.30,391.71 475.80,392.43 476.30,393.21 476.80,393.78 477.30,394.64 477.80,395.56 478.30,396.40 478.80,396.55 479.30,396.52 479.80,396.31 480.30,396.02 480.80,395.29 481.30,394.33 481.80,393.29 482.30,392.36 482.80,391.12 483.30,390.18 483.80,389.38 484.30,388.38 484.80,386.98 485.30,385.74 485.80,384.58 486.30,383.26 486.80,382.05 487.30,380.87 487.80,379.70 488.30,378.56 488.80,377.21 489.30,375.53 489.80,374.40 490.30,373.76 490.80,373.10 491.30,372.66 491.80,372.34 492.30,372.63 492.80,373.16 493.30,373.69 493.80,373.74 494.30,373.95 494.80,375.19 495.30,376.33 495.80,377.29 496.30,377.72 496.80,378.60 497.30,379.65 497.80,381.10 498.30,382.59 498.80,383.76 499.30,384.75 499.80,385.70 500.30,386.86 500.80,387.47 501.30,388.73 501.80,389.98 502.30,391.20 502.80,392.01 503.30,393.21 503.80,394.56 504.30,395.97 504.80,397.28 505.30,398.23 505.80,398.60 506.30,398.64 506.80,398.43 507.30,398.09 507.80,397.75 508.30,397.70 508.80,397.41 509.30,397.42 509.80,397.47 510.30,397.76 510.80,397.54 511.30,397.14 511.80,397.00 512.30,397.20 512.80,397.41 513.30,397.38 513.80,397.03 514.30,396.71 514.80,396.60 515.30,396.41 515.80,396.21 516.30,395.92 516.80,395.89 517.30,396.05 517.80,396.53 518.30,396.82 518.80,396.63 519.30,396.32 519.80,396.37 520.30,396.57 520.80,397.10 521.30,397.26 521.80,397.47 522.30,397.91 522.80,398.33 523.30,398.57 523.80,398.47 524.30,398.04 524.80,397.46 525.30,397.13 525.80,396.77 526.30,396.11 526.80,395.91 527.30,395.96 527.80,396.05 528.30,396.14 528.80,396.83 529.30,397.46 529.80,398.10 530.30,398.14 530.80,398.25 531.30,398.43 531.80,398.60 532.30,398.23 532.80,397.34 533.30,396.49 533.80,396.28 534.30,396.13 534.80,395.97 535.30,395.90 535.80,395.81 536.30,395.59 536.80,395.66 537.30,396.19 537.80,396.70 538.30,397.02 538.80,397.16 539.30,397.04 539.80,397.13 540.30,397.32 540.80,397.29 541.30,397.23 541.80,397.23 542.30,396.78 542.80,396.65 543.30,396.78 543.80,396.68 544.30,396.12 544.80,395.60 545.30,394.91 545.80,394.28 546.20,394.16" fill="none" stroke="#f03a3a" stroke-width="1.2" stroke-linejoin="round"/>
<path d="M308.70,428.77 309.20,428.79 309.70,428.82 310.20,428.80 310.70,428.71 311.20,428.55 311.70,428.41 312.20,428.40 312.70,428.43 313.20,428.36 313.70,428.19 314.20,428.19 314.70,428.22 315.20,428.24 315.70,428.09 316.20,427.99 316.70,427.94 317.20,427.98 317.70,427.93 318.20,427.81 318.70,427.70 319.20,427.64 319.70,427.58 320.20,427.56 320.70,427.50 321.20,427.56 321.70,427.52 322.20,427.48 322.70,427.44 323.20,427.47 323.70,427.42 324.20,427.34 324.70,427.40 325.20,427.34 325.70,427.31 326.20,427.19 326.70,427.24 327.20,427.24 327.70,427.27 328.20,427.14 328.70,427.12 329.20,427.14 329.70,427.17 330.20,427.04 330.70,426.94 331.20,426.91 331.70,426.97 332.20,426.89 332.70,426.77 333.20,426.75 333.70,426.82 334.20,426.88 334.70,426.81 335.20,426.80 335.70,426.76 336.20,426.73 336.70,426.66 337.20,426.70 337.70,426.69 338.20,426.63 338.70,426.56 339.20,426.64 339.70,426.75 340.20,426.81 340.70,426.83 341.20,426.77 341.70,426.69 342.20,426.71 342.70,426.75 343.20,426.74 343.70,426.64 344.20,426.64 344.70,426.58 345.20,426.57 345.70,426.54 346.20,426.57 346.70,426.61 347.20,426.65 347.70,426.69 348.20,426.66 348.70,426.59 349.20,426.53 349.70,426.50 350.20,426.48 350.70,426.54 351.20,426.54 351.70,426.55 352.20,426.48 352.70,426.43 353.20,426.46 353.70,426.51 354.20,426.50 354.70,426.49 355.20,426.54 355.70,426.55 356.20,426.51 356.70,426.50 357.20,426.41 357.70,426.37 358.20,426.45 358.70,426.44 359.20,426.33 359.70,426.24 360.20,426.29 360.70,426.43 361.20,426.54 361.70,426.54 362.20,426.49 362.70,426.34 363.20,426.28 363.70,426.26 364.20,426.40 364.70,426.42 365.20,426.42 365.70,426.37 366.20,426.39 366.70,426.41 367.20,426.49 367.70,426.56 368.20,426.54 368.70,426.40 369.20,426.39 369.70,426.44 370.20,426.46 370.70,426.35 371.20,426.26 371.70,426.29 372.20,426.39 372.70,426.43 373.20,426.37 373.70,426.40 374.20,426.44 374.70,426.42 375.20,426.30 375.70,426.31 376.20,426.37 376.70,426.35 377.20,426.19 377.70,426.17 378.20,426.28 378.70,426.42 379.20,426.42 379.70,426.32 380.20,426.28 380.70,426.28 381.00,426.33" fill="none" stroke="#444444" stroke-width="1.2" stroke-linejoin="round"/>
<path d="M385.80,429.13 386.30,429.09 386.80,428.94 387.30,428.88 387.80,428.93 388.30,429.00 388.80,429.08 389.30,429.08 389.80,429.09 390.30,428.99 390.80,428.94 391.30,428.89 391.80,428.88 392.30,428.97 392.80,429.11 393.30,429.14 393.80,429.03 394.30,429.02 394.80,429.12 395.30,429.17 395.80,429.05 396.30,429.09 396.80,429.12 397.30,429.17 397.80,429.06 398.30,429.03 398.80,429.01 399.30,429.01 399.80,429.03 400.30,429.09 400.80,429.09 401.30,429.04 401.80,429.05 402.30,429.13 402.80,429.30 403.30,429.26 403.80,429.20 404.30,429.05 404.80,429.08 405.30,429.04 405.80,429.06 406.30,429.11 406.80,429.15 407.30,429.20 407.80,429.33 408.30,429.40 408.80,429.32 409.30,429.22 409.80,429.05 410.30,429.06 410.80,429.16 411.30,429.33 411.80,429.25 412.30,429.16 412.80,429.10 413.30,429.10 413.80,429.17 414.30,429.20 414.80,429.22 415.30,429.18 415.80,429.22 416.30,429.24 416.80,429.32 417.30,429.30 417.80,429.29 418.30,429.20 418.80,429.03 419.30,429.00 419.80,429.19 420.30,429.36 420.80,429.36 421.30,429.32 421.80,429.34 422.30,429.34 422.80,429.36 423.30,429.25 423.80,429.20 424.30,429.13 424.80,429.27 425.30,429.24 425.80,429.24 426.30,429.24 426.80,429.33 427.30,429.39 427.80,429.33 428.30,429.46 428.80,429.50 429.30,429.46 429.80,429.36 430.30,429.39 430.80,429.48 431.30,429.50 431.80,429.62 432.30,429.72 432.80,429.91 433.30,430.08 433.80,430.14 434.30,430.17 434.80,430.23 435.30,430.33 435.80,430.35 436.30,430.35 436.80,430.42 437.30,430.45 437.80,430.40 438.30,430.17 438.80,429.72 439.30,429.06 439.80,428.29 440.30,427.50 440.80,426.56 441.30,425.14 441.80,422.72 442.30,419.85 442.80,417.10 443.30,414.31 443.80,410.92 444.30,408.22 444.80,407.32 445.30,406.87 445.80,406.27 446.30,405.16 446.80,403.78 447.30,402.59 447.80,401.96 448.30,401.60 448.80,401.68 449.30,402.66 449.80,404.12 450.30,405.70 450.80,407.39 451.30,409.14 451.80,410.25 452.30,410.88 452.80,411.24 453.30,411.43 453.80,411.64 454.30,412.10 454.80,412.57 455.30,413.05 455.80,413.41 456.30,413.83 456.80,414.22 457.30,414.63 457.80,414.96 458.30,415.16 458.80,415.32 459.30,415.70 459.80,416.15 460.30,416.53 460.80,416.78 461.30,417.13 461.80,417.53 462.30,417.97 462.80,418.43 463.30,418.93 463.80,419.43 464.30,420.01 464.80,420.56 465.30,421.11 465.80,421.78 466.30,422.88 466.80,424.22 467.30,425.34 467.80,426.08 468.30,426.33 468.80,426.37 469.30,426.37 469.80,426.33 470.30,426.18 470.80,425.90 471.30,425.66 471.80,425.46 472.30,425.36 472.80,425.23 473.30,425.15 473.80,425.14 474.30,425.31 474.80,425.65 475.30,426.10 475.80,426.58 476.30,427.13 476.80,427.86 477.30,428.58 477.80,429.02 478.30,429.36 478.80,429.73 479.30,429.94 479.80,429.79 480.30,429.40 480.80,428.92 481.30,428.32 481.80,427.56 482.30,426.70 482.80,425.84 483.30,424.88 483.80,423.81 484.30,422.74 484.80,421.43 485.30,419.88 485.80,418.23 486.30,416.61 486.80,415.00 487.30,413.31 487.80,411.84 488.30,410.56 488.80,409.54 489.30,408.43 489.80,407.52 490.30,406.70 490.80,406.05 491.30,405.56 491.80,405.28 492.30,405.05 492.80,404.76 493.30,404.48 493.80,404.12 494.30,403.92 494.80,403.76 495.30,403.61 495.80,403.41 496.30,403.32 496.80,403.40 497.30,403.72 497.80,404.30 498.30,404.94 498.80,405.76 499.30,406.81 499.80,407.95 500.30,409.27 500.80,410.84 501.30,412.75 501.80,414.95 502.30,417.13 502.80,419.12 503.30,421.13 503.80,423.33 504.30,425.53 504.80,427.47 505.30,428.99 505.80,429.73 506.30,429.85 506.80,429.79 507.30,429.66 507.80,429.46 508.30,429.25 508.80,428.95 509.30,428.72 509.80,428.56 510.30,428.49 510.80,428.49 511.30,428.54 511.80,428.51 512.30,428.45 512.80,428.37 513.30,428.37 513.80,428.28 514.30,428.36 514.80,428.48 515.30,428.57 515.80,428.46 516.30,428.26 516.80,428.28 517.30,428.34 517.80,428.41 518.30,428.40 518.80,428.38 519.30,428.41 519.80,428.62 520.30,428.86 520.80,429.04 521.30,429.27 521.80,429.63 522.30,429.88 522.80,430.04 523.30,430.15 523.80,430.30 524.30,430.22 524.80,430.09 525.30,429.80 525.80,429.54 526.30,429.11 526.80,428.79 527.30,428.55 527.80,428.22 528.30,427.45 528.80,426.57 529.30,425.73 529.80,425.01 530.30,424.33 530.80,423.87 531.30,423.52 531.80,423.66 532.30,424.23 532.80,425.08 533.30,425.84 533.80,426.78 534.30,427.86 534.80,428.93 535.30,429.73 535.80,430.26 536.30,430.48 536.80,430.50 537.30,430.25 537.80,429.99 538.30,429.71 538.80,429.50 539.30,429.18 539.80,428.86 540.30,428.55 540.80,428.23 541.30,427.96 541.80,427.78 542.30,427.62 542.80,427.42 543.30,427.21 543.80,427.07 544.30,426.93 544.80,426.85 545.30,426.70 545.80,426.52 546.20,426.34" fill="none" stroke="#444444" stroke-width="1.2" stroke-linejoin="round"/>
<text x="333.10" y="275.40" font-size="4.4" font-weight="bold" text-anchor="middle" fill="#000" stroke="#000" stroke-width="0.12">3334</text>
<text x="431.60" y="276.90" font-size="4.4" font-weight="bold" text-anchor="middle" fill="#000" stroke="#000" stroke-width="0.12">1685</text>
<text x="448.00" y="276.50" font-size="4.4" font-weight="bold" text-anchor="middle" fill="#000" stroke="#000" stroke-width="0.12">1563</text>
<text x="450.90" y="269.30" font-size="4.4" font-weight="bold" text-anchor="middle" fill="#000" stroke="#000" stroke-width="0.12">1530</text>
<text x="456.40" y="264.20" font-size="4.4" font-weight="bold" text-anchor="middle" fill="#000" stroke="#000" stroke-width="0.12">1513</text>
<text x="463.30" y="269.30" font-size="4.4" font-weight="bold" text-anchor="middle" fill="#000" stroke="#000" stroke-width="0.12">1469</text>
<text x="491.40" y="267.10" font-size="4.4" font-weight="bold" text-anchor="middle" fill="#000" stroke="#000" stroke-width="0.12">1278</text>
<text x="508.60" y="270.20" font-size="4.4" font-weight="bold" text-anchor="middle" fill="#000" stroke="#000" stroke-width="0.12">1158</text>
<text x="517.80" y="281.00" font-size="4.4" font-weight="bold" text-anchor="middle" fill="#000" stroke="#000" stroke-width="0.12">1074</text>
<text x="520.60" y="275.80" font-size="4.4" font-weight="bold" text-anchor="middle" fill="#000" stroke="#000" stroke-width="0.12">1052</text>
<text x="526.90" y="271.70" font-size="4.4" font-weight="bold" text-anchor="middle" fill="#000" stroke="#000" stroke-width="0.12">1033</text>
<text x="536.10" y="255.70" font-size="4.4" font-weight="bold" text-anchor="middle" fill="#000" stroke="#000" stroke-width="0.12">965</text>
<text x="542.20" y="261.40" font-size="4.4" font-weight="bold" text-anchor="middle" fill="#000" stroke="#000" stroke-width="0.12">930</text>
<text x="445.00" y="436.20" font-size="4.4" font-weight="bold" text-anchor="middle" fill="#000" stroke="#000" stroke-width="0.12">1598</text>
<text x="450.30" y="429.00" font-size="4.4" font-weight="bold" text-anchor="middle" fill="#000" stroke="#000" stroke-width="0.12">1574</text>
<text x="411.20" y="298.20" font-size="7.9" font-weight="bold" text-anchor="end" fill="#111" stroke="#111" stroke-width="0.22">30 min</text>
<text x="411.20" y="336.90" font-size="7.9" font-weight="bold" text-anchor="end" fill="#111" stroke="#111" stroke-width="0.22">10 min</text>
<text x="411.20" y="368.10" font-size="7.9" font-weight="bold" text-anchor="end" fill="#111" stroke="#111" stroke-width="0.22">5 min</text>
<text x="411.20" y="390.30" font-size="7.9" font-weight="bold" text-anchor="end" fill="#111" stroke="#111" stroke-width="0.22">NH<tspan font-size="5.0" dy="1.6">3</tspan><tspan dy="-1.6"> 3 min</tspan></text>
<text x="411.20" y="420.00" font-size="7.9" font-weight="bold" text-anchor="end" fill="#111" stroke="#111" stroke-width="0.22">NO+O<tspan font-size="5.0" dy="1.6">2</tspan><tspan dy="-1.6"> 30 min</tspan></text>
<rect x="308.60" y="248.60" width="237.90" height="191.10" fill="none" stroke="#2b2b2b" stroke-width="1.2"/>
<line x1="381.30" y1="248.60" x2="385.50" y2="248.60" stroke="#fff" stroke-width="1.8"/>
<line x1="379.20" y1="252.10" x2="383.40" y2="245.10" stroke="#111" stroke-width="1.1"/>
<line x1="383.40" y1="252.10" x2="387.60" y2="245.10" stroke="#111" stroke-width="1.1"/>
<line x1="381.30" y1="439.70" x2="385.50" y2="439.70" stroke="#fff" stroke-width="1.8"/>
<line x1="379.20" y1="443.20" x2="383.40" y2="436.20" stroke="#111" stroke-width="1.1"/>
<line x1="383.40" y1="443.20" x2="387.60" y2="436.20" stroke="#111" stroke-width="1.1"/>
<line x1="323.10" y1="439.70" x2="323.10" y2="443.00" stroke="#2b2b2b" stroke-width="1.1"/>
<line x1="337.75" y1="439.70" x2="337.75" y2="441.50" stroke="#2b2b2b" stroke-width="1.1"/>
<line x1="352.40" y1="439.70" x2="352.40" y2="443.00" stroke="#2b2b2b" stroke-width="1.1"/>
<line x1="399.76" y1="439.70" x2="399.76" y2="441.50" stroke="#2b2b2b" stroke-width="1.1"/>
<line x1="414.42" y1="439.70" x2="414.42" y2="443.00" stroke="#2b2b2b" stroke-width="1.1"/>
<line x1="429.08" y1="439.70" x2="429.08" y2="441.50" stroke="#2b2b2b" stroke-width="1.1"/>
<line x1="443.74" y1="439.70" x2="443.74" y2="443.00" stroke="#2b2b2b" stroke-width="1.1"/>
<line x1="458.40" y1="439.70" x2="458.40" y2="441.50" stroke="#2b2b2b" stroke-width="1.1"/>
<line x1="473.06" y1="439.70" x2="473.06" y2="443.00" stroke="#2b2b2b" stroke-width="1.1"/>
<line x1="487.72" y1="439.70" x2="487.72" y2="441.50" stroke="#2b2b2b" stroke-width="1.1"/>
<line x1="502.38" y1="439.70" x2="502.38" y2="443.00" stroke="#2b2b2b" stroke-width="1.1"/>
<line x1="517.04" y1="439.70" x2="517.04" y2="441.50" stroke="#2b2b2b" stroke-width="1.1"/>
<line x1="531.70" y1="439.70" x2="531.70" y2="443.00" stroke="#2b2b2b" stroke-width="1.1"/>
<text x="323.10" y="456.20" font-size="9.7" text-anchor="middle" fill="#222" stroke="#222" stroke-width="0.1">3400</text>
<text x="352.40" y="456.20" font-size="9.7" text-anchor="middle" fill="#222" stroke="#222" stroke-width="0.1">3200</text>
<text x="385.10" y="456.20" font-size="9.7" text-anchor="middle" fill="#222" stroke="#222" stroke-width="0.1">2000</text>
<text x="414.42" y="456.20" font-size="9.7" text-anchor="middle" fill="#222" stroke="#222" stroke-width="0.1">1800</text>
<text x="443.74" y="456.20" font-size="9.7" text-anchor="middle" fill="#222" stroke="#222" stroke-width="0.1">1600</text>
<text x="473.06" y="456.20" font-size="9.7" text-anchor="middle" fill="#222" stroke="#222" stroke-width="0.1">1400</text>
<text x="502.38" y="456.20" font-size="9.7" text-anchor="middle" fill="#222" stroke="#222" stroke-width="0.1">1200</text>
<text x="531.70" y="456.20" font-size="9.7" text-anchor="middle" fill="#222" stroke="#222" stroke-width="0.1">1000</text>
<text x="376.80" y="473.80" font-size="11.8" font-weight="bold" fill="#111" stroke="#111" stroke-width="0.15">Wavenumber (cm<tspan font-size="7.79" dy="-4.96">-1</tspan><tspan dy="4.96">)</tspan></text>
<text transform="translate(295.80,345.80) rotate(-90)" x="0" y="0" font-size="11.8" font-weight="bold" text-anchor="middle" fill="#111" stroke="#111" stroke-width="0.15">Adsorbance (a.u.)</text>
<text x="285.50" y="257.30" font-size="15.4" fill="#111">(d)</text>
</svg>
</body></html>
